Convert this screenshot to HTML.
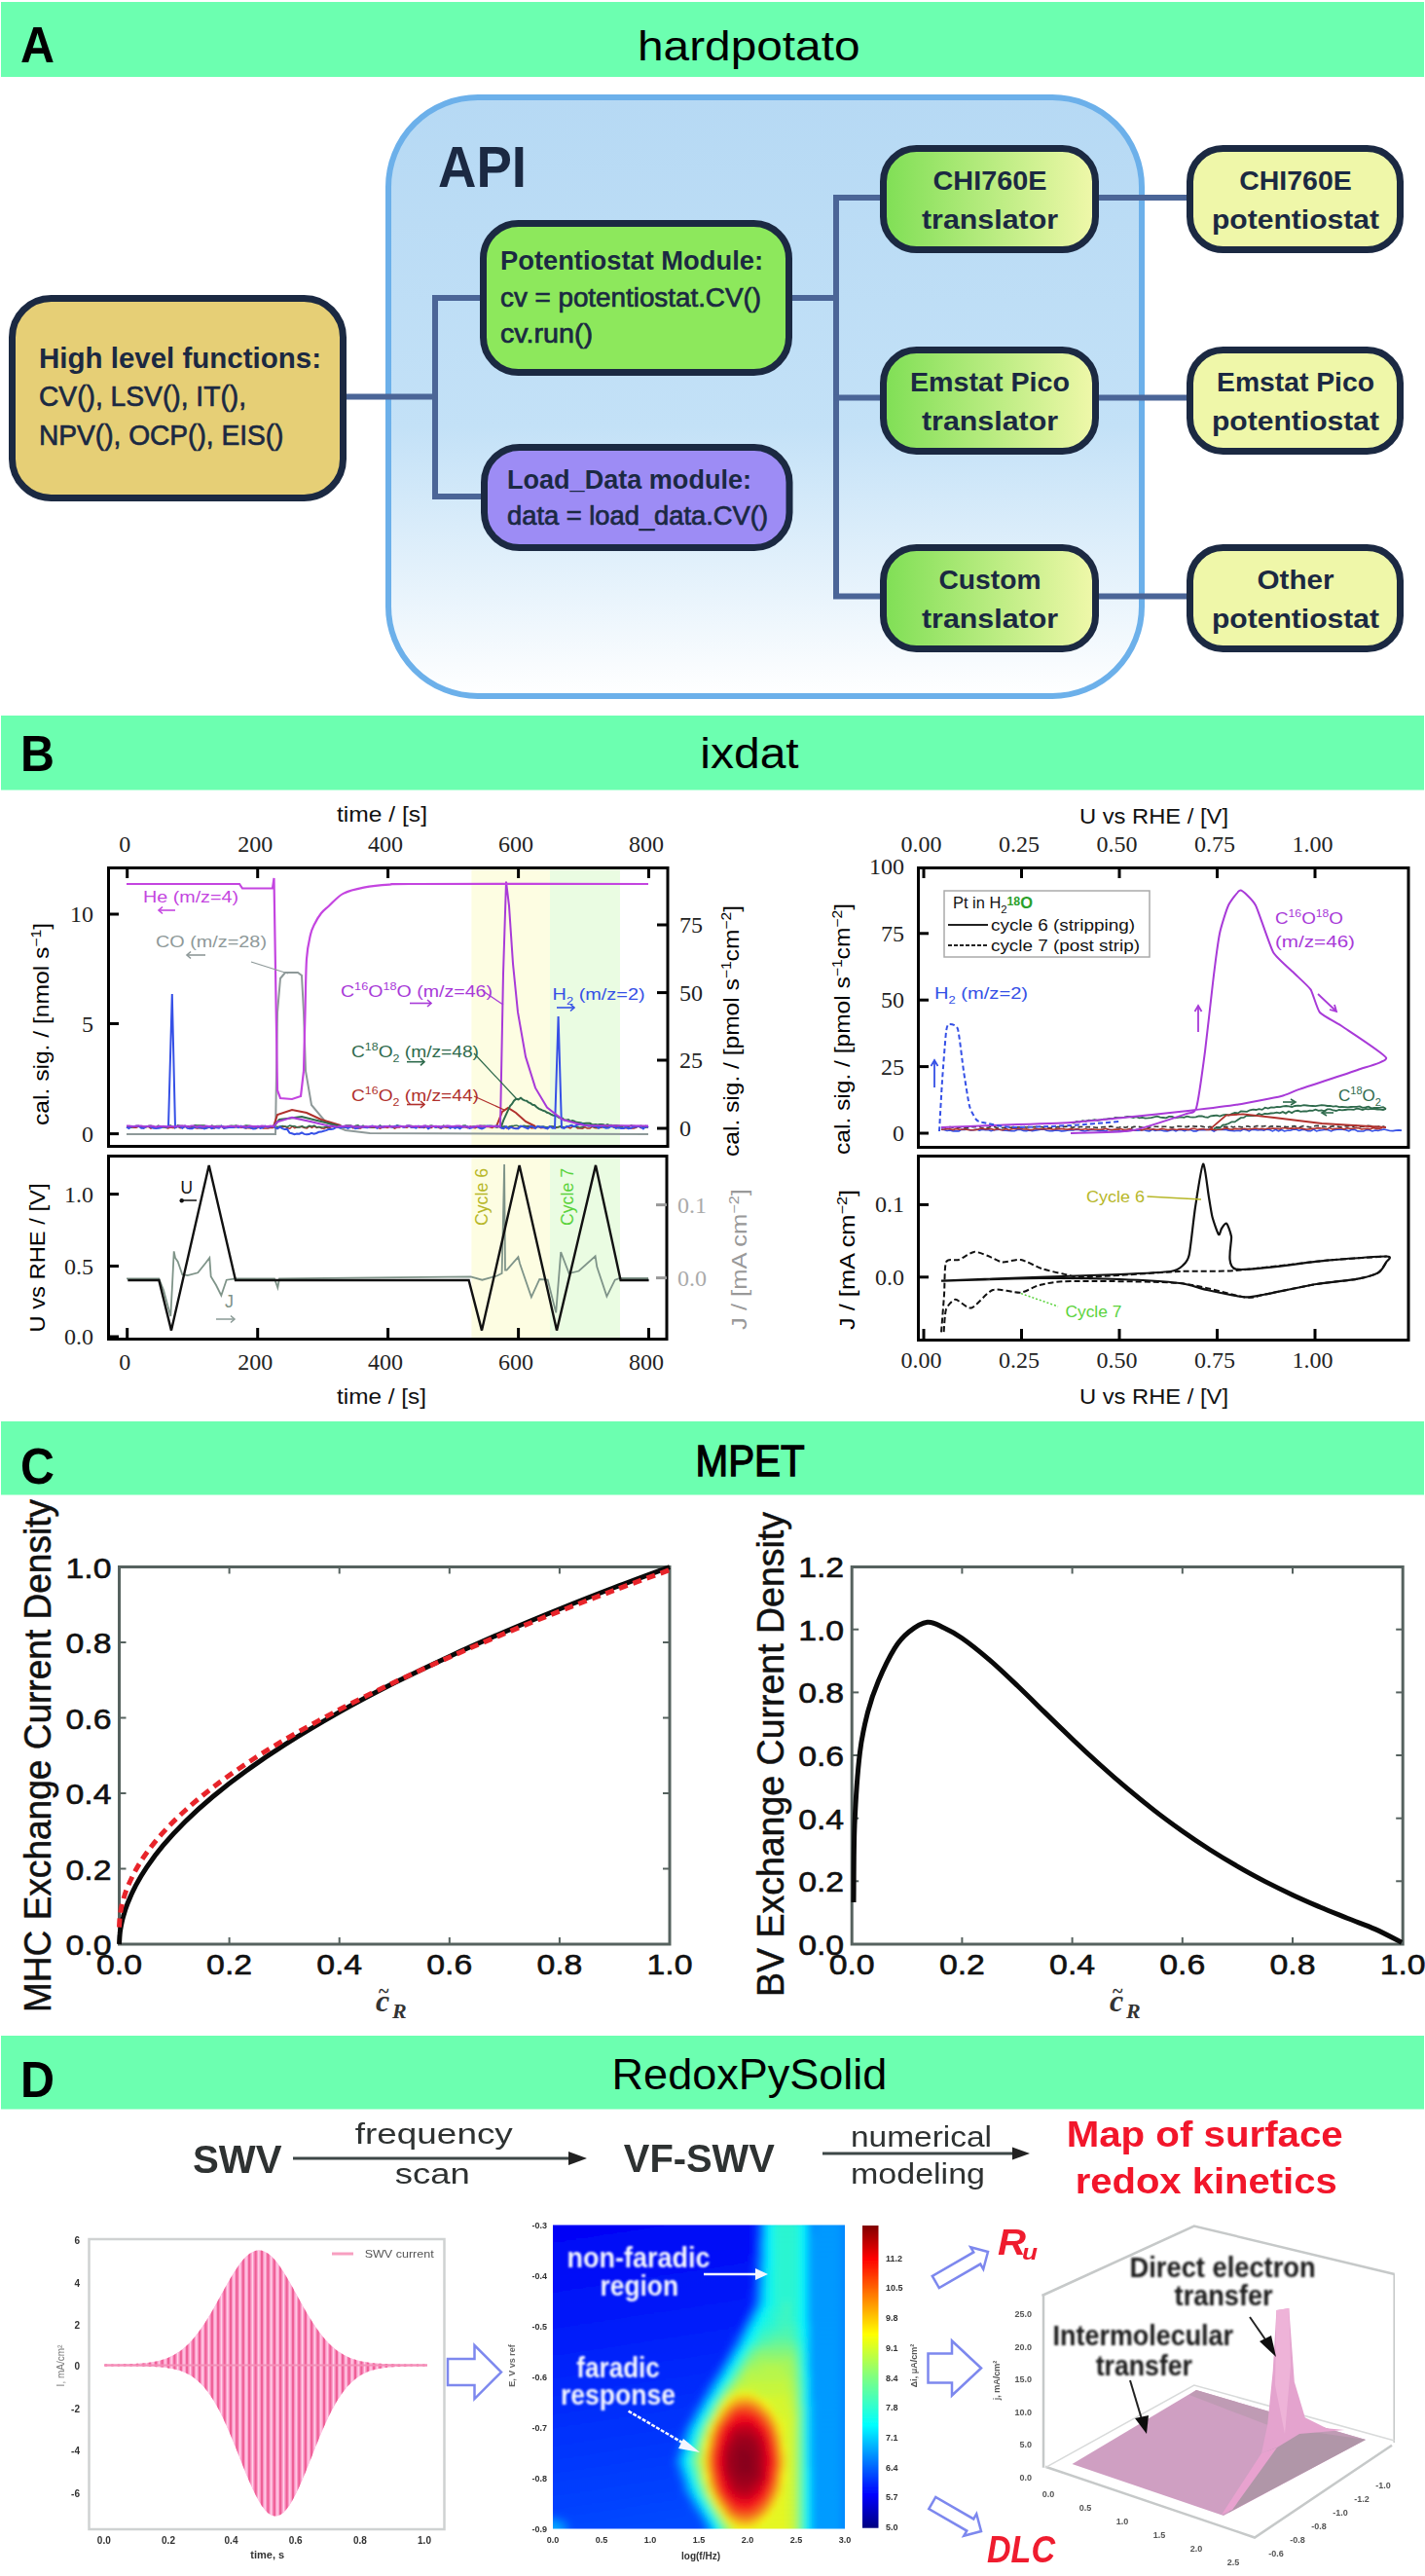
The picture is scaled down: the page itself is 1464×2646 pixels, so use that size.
<!DOCTYPE html>
<html><head><meta charset="utf-8"><title>figure</title>
<style>html,body{margin:0;padding:0;background:#fff;}svg{display:block;font-family:"Liberation Sans",sans-serif;}</style></head>
<body><svg width="1464" height="2646" viewBox="0 0 1464 2646">
<rect x="1.0" y="2.0" width="1462.0" height="77.0" fill="#6cffb0" />
<text x="21.0" y="64.0" font-size="52" font-weight="bold" textLength="35.0" lengthAdjust="spacingAndGlyphs">A</text>
<text x="655.0" y="61.6" font-size="43" textLength="228.5" lengthAdjust="spacingAndGlyphs">hardpotato</text>
<rect x="1.0" y="735.0" width="1462.0" height="76.5" fill="#6cffb0" />
<text x="21.0" y="792.0" font-size="52" font-weight="bold" textLength="35.0" lengthAdjust="spacingAndGlyphs">B</text>
<text x="719.3" y="788.5" font-size="45" textLength="101.4" lengthAdjust="spacingAndGlyphs">ixdat</text>
<rect x="1.0" y="1460.0" width="1462.0" height="75.5" fill="#6cffb0" />
<text x="21.0" y="1524.0" font-size="52" font-weight="bold" textLength="35.0" lengthAdjust="spacingAndGlyphs">C</text>
<text x="714.5" y="1515.8" font-size="45" textLength="112.2" lengthAdjust="spacingAndGlyphs" stroke="#000" stroke-width="1.3">MPET</text>
<rect x="1.0" y="2091.0" width="1462.0" height="75.5" fill="#6cffb0" />
<text x="21.0" y="2154.0" font-size="52" font-weight="bold" textLength="35.0" lengthAdjust="spacingAndGlyphs">D</text>
<text x="628.6" y="2145.8" font-size="45" textLength="282.8" lengthAdjust="spacingAndGlyphs">RedoxPySolid</text>
<defs>
<linearGradient id="apig" x1="0" y1="0" x2="0" y2="1">
<stop offset="0" stop-color="#b6d9f4"/><stop offset="0.55" stop-color="#c3e1f7"/><stop offset="1" stop-color="#ffffff"/></linearGradient>
<linearGradient id="trg" x1="0" y1="0" x2="1" y2="0">
<stop offset="0" stop-color="#7fdf55"/><stop offset="1" stop-color="#f0f8aa"/></linearGradient>
</defs>
<rect x="399.0" y="100.0" width="774.0" height="615.0" fill="url(#apig)" stroke="#6cb0ea" stroke-width="6" rx="92" />
<text x="450.0" y="192.0" font-size="59" fill="#1b2942" font-weight="bold" textLength="91.0" lengthAdjust="spacingAndGlyphs">API</text>
<line x1="356.0" y1="407.5" x2="447.0" y2="407.5" stroke="#4b6597" stroke-width="6" />
<line x1="447.0" y1="303.0" x2="447.0" y2="513.0" stroke="#4b6597" stroke-width="6" />
<line x1="444.0" y1="306.0" x2="494.0" y2="306.0" stroke="#4b6597" stroke-width="6" />
<line x1="444.0" y1="510.0" x2="494.0" y2="510.0" stroke="#4b6597" stroke-width="6" />
<line x1="814.0" y1="306.0" x2="859.0" y2="306.0" stroke="#4b6597" stroke-width="6" />
<line x1="859.0" y1="200.0" x2="859.0" y2="615.0" stroke="#4b6597" stroke-width="6" />
<line x1="856.0" y1="203.0" x2="905.0" y2="203.0" stroke="#4b6597" stroke-width="6" />
<line x1="856.0" y1="408.5" x2="905.0" y2="408.5" stroke="#4b6597" stroke-width="6" />
<line x1="856.0" y1="612.5" x2="905.0" y2="612.5" stroke="#4b6597" stroke-width="6" />
<line x1="1129.0" y1="203.0" x2="1219.0" y2="203.0" stroke="#4b6597" stroke-width="6" />
<line x1="1129.0" y1="408.5" x2="1219.0" y2="408.5" stroke="#4b6597" stroke-width="6" />
<line x1="1129.0" y1="612.5" x2="1219.0" y2="612.5" stroke="#4b6597" stroke-width="6" />
<rect x="12.5" y="306.5" width="340.0" height="205.0" fill="#e6cf76" stroke="#1b2942" stroke-width="7" rx="40" />
<text x="40.0" y="377.5" font-size="30" fill="#1b2942" font-weight="bold" textLength="290.0" lengthAdjust="spacingAndGlyphs">High level functions:</text>
<text x="40.0" y="416.5" font-size="30" fill="#1b2942" textLength="213.0" lengthAdjust="spacingAndGlyphs" stroke="#1b2942" stroke-width="0.7">CV(), LSV(), IT(),</text>
<text x="40.0" y="456.5" font-size="30" fill="#1b2942" textLength="251.5" lengthAdjust="spacingAndGlyphs" stroke="#1b2942" stroke-width="0.7">NPV(), OCP(), EIS()</text>
<rect x="496.5" y="229.5" width="314.0" height="153.0" fill="#8de85c" stroke="#1b2942" stroke-width="7" rx="36" />
<text x="514.0" y="277.0" font-size="27" fill="#1b2942" font-weight="bold" textLength="270.0" lengthAdjust="spacingAndGlyphs">Potentiostat Module:</text>
<text x="514.0" y="315.0" font-size="27" fill="#1b2942" textLength="268.0" lengthAdjust="spacingAndGlyphs" stroke="#1b2942" stroke-width="0.7">cv = potentiostat.CV()</text>
<text x="514.0" y="352.0" font-size="27" fill="#1b2942" textLength="95.0" lengthAdjust="spacingAndGlyphs" stroke="#1b2942" stroke-width="0.7">cv.run()</text>
<rect x="497.5" y="459.5" width="313.5" height="103.0" fill="#9d8cf5" stroke="#1b2942" stroke-width="7" rx="36" />
<text x="521.0" y="502.0" font-size="27" fill="#1b2942" font-weight="bold" textLength="251.0" lengthAdjust="spacingAndGlyphs">Load_Data module:</text>
<text x="521.0" y="539.0" font-size="27" fill="#1b2942" textLength="268.0" lengthAdjust="spacingAndGlyphs" stroke="#1b2942" stroke-width="0.7">data = load_data.CV()</text>
<rect x="907.5" y="152.5" width="218.0" height="104.0" fill="url(#trg)" stroke="#1b2942" stroke-width="7" rx="34" />
<rect x="1222.5" y="152.5" width="216.0" height="104.0" fill="#eff7a9" stroke="#1b2942" stroke-width="7" rx="34" />
<text x="1017.0" y="195.0" font-size="28" fill="#1b2942" font-weight="bold" text-anchor="middle" textLength="117.0" lengthAdjust="spacingAndGlyphs">CHI760E</text>
<text x="1017.0" y="235.0" font-size="28" fill="#1b2942" font-weight="bold" text-anchor="middle" textLength="140.0" lengthAdjust="spacingAndGlyphs">translator</text>
<text x="1331.0" y="195.0" font-size="28" fill="#1b2942" font-weight="bold" text-anchor="middle" textLength="115.5" lengthAdjust="spacingAndGlyphs">CHI760E</text>
<text x="1331.0" y="235.0" font-size="28" fill="#1b2942" font-weight="bold" text-anchor="middle" textLength="172.0" lengthAdjust="spacingAndGlyphs">potentiostat</text>
<rect x="907.5" y="359.5" width="218.0" height="104.0" fill="url(#trg)" stroke="#1b2942" stroke-width="7" rx="34" />
<rect x="1222.5" y="359.5" width="216.0" height="104.0" fill="#eff7a9" stroke="#1b2942" stroke-width="7" rx="34" />
<text x="1017.0" y="402.0" font-size="28" fill="#1b2942" font-weight="bold" text-anchor="middle" textLength="164.0" lengthAdjust="spacingAndGlyphs">Emstat Pico</text>
<text x="1017.0" y="442.0" font-size="28" fill="#1b2942" font-weight="bold" text-anchor="middle" textLength="140.0" lengthAdjust="spacingAndGlyphs">translator</text>
<text x="1331.0" y="402.0" font-size="28" fill="#1b2942" font-weight="bold" text-anchor="middle" textLength="162.0" lengthAdjust="spacingAndGlyphs">Emstat Pico</text>
<text x="1331.0" y="442.0" font-size="28" fill="#1b2942" font-weight="bold" text-anchor="middle" textLength="172.0" lengthAdjust="spacingAndGlyphs">potentiostat</text>
<rect x="907.5" y="562.5" width="218.0" height="104.0" fill="url(#trg)" stroke="#1b2942" stroke-width="7" rx="34" />
<rect x="1222.5" y="562.5" width="216.0" height="104.0" fill="#eff7a9" stroke="#1b2942" stroke-width="7" rx="34" />
<text x="1017.0" y="605.0" font-size="28" fill="#1b2942" font-weight="bold" text-anchor="middle" textLength="105.0" lengthAdjust="spacingAndGlyphs">Custom</text>
<text x="1017.0" y="645.0" font-size="28" fill="#1b2942" font-weight="bold" text-anchor="middle" textLength="140.0" lengthAdjust="spacingAndGlyphs">translator</text>
<text x="1331.0" y="605.0" font-size="28" fill="#1b2942" font-weight="bold" text-anchor="middle" textLength="79.0" lengthAdjust="spacingAndGlyphs">Other</text>
<text x="1331.0" y="645.0" font-size="28" fill="#1b2942" font-weight="bold" text-anchor="middle" textLength="172.0" lengthAdjust="spacingAndGlyphs">potentiostat</text>
<rect x="484.4" y="891.0" width="80.6" height="286.0" fill="#fdfde2" />
<rect x="565.0" y="891.0" width="72.0" height="286.0" fill="#eafce2" />
<rect x="484.4" y="1187.0" width="80.6" height="188.0" fill="#fdfde2" />
<rect x="565.0" y="1187.0" width="72.0" height="188.0" fill="#eafce2" />
<rect x="111.5" y="891.5" width="574.5" height="286.0" fill="none" stroke="#000" stroke-width="3" />
<rect x="111.5" y="1187.5" width="573.5" height="188.0" fill="none" stroke="#000" stroke-width="3" />
<line x1="130.7" y1="891.0" x2="130.7" y2="902.0" stroke="#000" stroke-width="3" />
<line x1="130.7" y1="1375.0" x2="130.7" y2="1364.0" stroke="#000" stroke-width="3" />
<text x="128.2" y="875.0" font-size="24" fill="#222" text-anchor="middle" font-family="'Liberation Serif',serif">0</text>
<text x="128.2" y="1407.0" font-size="24" fill="#222" text-anchor="middle" font-family="'Liberation Serif',serif">0</text>
<line x1="264.7" y1="891.0" x2="264.7" y2="902.0" stroke="#000" stroke-width="3" />
<line x1="264.7" y1="1375.0" x2="264.7" y2="1364.0" stroke="#000" stroke-width="3" />
<text x="262.2" y="875.0" font-size="24" fill="#222" text-anchor="middle" font-family="'Liberation Serif',serif">200</text>
<text x="262.2" y="1407.0" font-size="24" fill="#222" text-anchor="middle" font-family="'Liberation Serif',serif">200</text>
<line x1="398.6" y1="891.0" x2="398.6" y2="902.0" stroke="#000" stroke-width="3" />
<line x1="398.6" y1="1375.0" x2="398.6" y2="1364.0" stroke="#000" stroke-width="3" />
<text x="396.1" y="875.0" font-size="24" fill="#222" text-anchor="middle" font-family="'Liberation Serif',serif">400</text>
<text x="396.1" y="1407.0" font-size="24" fill="#222" text-anchor="middle" font-family="'Liberation Serif',serif">400</text>
<line x1="532.6" y1="891.0" x2="532.6" y2="902.0" stroke="#000" stroke-width="3" />
<line x1="532.6" y1="1375.0" x2="532.6" y2="1364.0" stroke="#000" stroke-width="3" />
<text x="530.1" y="875.0" font-size="24" fill="#222" text-anchor="middle" font-family="'Liberation Serif',serif">600</text>
<text x="530.1" y="1407.0" font-size="24" fill="#222" text-anchor="middle" font-family="'Liberation Serif',serif">600</text>
<line x1="666.5" y1="891.0" x2="666.5" y2="902.0" stroke="#000" stroke-width="3" />
<line x1="666.5" y1="1375.0" x2="666.5" y2="1364.0" stroke="#000" stroke-width="3" />
<text x="664.0" y="875.0" font-size="24" fill="#222" text-anchor="middle" font-family="'Liberation Serif',serif">800</text>
<text x="664.0" y="1407.0" font-size="24" fill="#222" text-anchor="middle" font-family="'Liberation Serif',serif">800</text>
<line x1="111.0" y1="939.0" x2="122.0" y2="939.0" stroke="#000" stroke-width="3" />
<text x="96.0" y="947.0" font-size="24" fill="#222" text-anchor="end" font-family="'Liberation Serif',serif">10</text>
<line x1="111.0" y1="1051.5" x2="122.0" y2="1051.5" stroke="#000" stroke-width="3" />
<text x="96.0" y="1059.5" font-size="24" fill="#222" text-anchor="end" font-family="'Liberation Serif',serif">5</text>
<line x1="111.0" y1="1164.6" x2="122.0" y2="1164.6" stroke="#000" stroke-width="3" />
<text x="96.0" y="1172.6" font-size="24" fill="#222" text-anchor="end" font-family="'Liberation Serif',serif">0</text>
<line x1="675.0" y1="950.0" x2="686.0" y2="950.0" stroke="#000" stroke-width="3" />
<text x="698.0" y="958.0" font-size="24" fill="#222" font-family="'Liberation Serif',serif">75</text>
<line x1="675.0" y1="1019.6" x2="686.0" y2="1019.6" stroke="#000" stroke-width="3" />
<text x="698.0" y="1027.6" font-size="24" fill="#222" font-family="'Liberation Serif',serif">50</text>
<line x1="675.0" y1="1089.0" x2="686.0" y2="1089.0" stroke="#000" stroke-width="3" />
<text x="698.0" y="1097.0" font-size="24" fill="#222" font-family="'Liberation Serif',serif">25</text>
<line x1="675.0" y1="1159.0" x2="686.0" y2="1159.0" stroke="#000" stroke-width="3" />
<text x="698.0" y="1167.0" font-size="24" fill="#222" font-family="'Liberation Serif',serif">0</text>
<line x1="111.0" y1="1226.6" x2="122.0" y2="1226.6" stroke="#000" stroke-width="3" />
<text x="96.0" y="1234.6" font-size="24" fill="#222" text-anchor="end" font-family="'Liberation Serif',serif">1.0</text>
<line x1="111.0" y1="1300.5" x2="122.0" y2="1300.5" stroke="#000" stroke-width="3" />
<text x="96.0" y="1308.5" font-size="24" fill="#222" text-anchor="end" font-family="'Liberation Serif',serif">0.5</text>
<line x1="111.0" y1="1373.0" x2="122.0" y2="1373.0" stroke="#000" stroke-width="3" />
<text x="96.0" y="1381.0" font-size="24" fill="#222" text-anchor="end" font-family="'Liberation Serif',serif">0.0</text>
<line x1="674.0" y1="1237.6" x2="685.0" y2="1237.6" stroke="#999" stroke-width="3" />
<text x="696.0" y="1245.6" font-size="24" fill="#aaa" font-family="'Liberation Serif',serif">0.1</text>
<line x1="674.0" y1="1312.6" x2="685.0" y2="1312.6" stroke="#999" stroke-width="3" />
<text x="696.0" y="1320.6" font-size="24" fill="#aaa" font-family="'Liberation Serif',serif">0.0</text>
<text x="346.0" y="843.5" font-size="22" fill="#111" textLength="93.0" lengthAdjust="spacingAndGlyphs">time / [s]</text>
<text x="346.0" y="1442.0" font-size="22" fill="#111" textLength="92.0" lengthAdjust="spacingAndGlyphs">time / [s]</text>
<text x="50.0" y="1052.0" font-size="22" text-anchor="middle" textLength="208.0" lengthAdjust="spacingAndGlyphs" transform="rotate(-90 50.0 1052.0)">cal. sig. / [nmol s<tspan dy="-8" font-size="14">−1</tspan><tspan dy="8">]</tspan></text>
<text x="759.0" y="1059.0" font-size="22" text-anchor="middle" textLength="258.0" lengthAdjust="spacingAndGlyphs" transform="rotate(-90 759.0 1059.0)">cal. sig. / [pmol s<tspan dy="-8" font-size="14">−1</tspan><tspan dy="8">cm</tspan><tspan dy="-8" font-size="14">−2</tspan><tspan dy="8">]</tspan></text>
<text x="46.0" y="1292.0" font-size="22" text-anchor="middle" textLength="153.0" lengthAdjust="spacingAndGlyphs" transform="rotate(-90 46.0 1292.0)">U vs RHE / [V]</text>
<text x="767.0" y="1293.5" font-size="22" fill="#999" text-anchor="middle" textLength="145.0" lengthAdjust="spacingAndGlyphs" transform="rotate(-90 767.0 1293.5)">J / [mA cm<tspan dy="-8" font-size="14">−2</tspan><tspan dy="8">]</tspan></text>
<path d="M130.0,1157.4 L132.5,1158.1 L135.0,1157.7 L137.5,1158.2 L140.0,1158.3 L142.5,1157.0 L145.0,1156.8 L147.5,1158.8 L150.0,1157.4 L152.5,1157.4 L155.0,1159.2 L157.6,1157.9 L160.1,1158.8 L162.6,1157.9 L165.1,1158.3 L167.6,1157.2 L170.1,1158.3 L172.6,1158.9 L175.1,1158.1 L177.6,1158.6 L180.1,1158.4 L182.6,1157.0 L185.1,1158.6 L187.6,1158.2 L190.1,1157.5 L192.6,1156.9 L195.1,1158.9 L197.6,1157.9 L200.1,1158.5 L202.6,1158.9 L205.1,1158.5 L207.6,1159.0 L210.1,1157.7 L212.7,1158.7 L215.2,1157.9 L217.7,1159.0 L220.2,1158.9 L222.7,1157.0 L225.2,1157.1 L227.7,1157.3 L230.2,1159.1 L232.7,1157.8 L235.2,1158.3 L237.7,1157.5 L240.2,1158.0 L242.7,1157.7 L245.2,1157.6 L247.7,1158.2 L250.2,1158.2 L252.7,1159.0 L255.2,1158.4 L257.7,1159.0 L260.2,1158.9 L262.7,1159.2 L265.3,1158.4 L267.8,1157.2 L270.3,1158.9 L272.8,1159.1 L275.3,1159.0 L277.8,1158.2 L280.3,1158.5 L282.8,1157.3 L285.3,1158.8 L287.8,1158.2 L290.3,1157.5 L292.8,1157.0 L295.3,1158.8 L297.8,1159.2 L300.3,1157.0 L302.8,1158.7 L305.3,1157.8 L307.8,1157.2 L310.3,1157.5 L312.8,1158.6 L315.3,1158.9 L317.9,1156.9 L320.4,1158.3 L322.9,1156.9 L325.4,1158.5 L327.9,1157.6 L330.4,1158.9 L332.9,1159.2 L335.4,1158.0 L337.9,1159.2 L340.4,1157.5 L342.9,1157.0 L345.4,1158.2 L347.9,1156.9 L350.4,1157.3 L352.9,1157.8 L355.4,1158.3 L357.9,1157.2 L360.4,1156.9 L362.9,1158.9 L365.4,1157.6 L367.9,1159.1 L370.4,1159.0 L373.0,1157.7 L375.5,1157.9 L378.0,1158.0 L380.5,1158.3 L383.0,1158.2 L385.5,1158.1 L388.0,1158.3 L390.5,1159.1 L393.0,1158.0 L395.5,1157.8 L398.0,1158.5 L400.5,1157.4 L403.0,1157.5 L405.5,1159.1 L408.0,1158.1 L410.5,1158.1 L413.0,1156.8 L415.5,1157.8 L418.0,1158.2 L420.5,1156.8 L423.0,1158.3 L425.6,1158.3 L428.1,1156.9 L430.6,1158.3 L433.1,1157.9 L435.6,1158.4 L438.1,1157.6 L440.6,1158.5 L443.1,1158.6 L445.6,1156.9 L448.1,1156.9 L450.6,1158.4 L453.1,1159.1 L455.6,1157.4 L458.1,1157.9 L460.6,1158.2 L463.1,1157.6 L465.6,1157.7 L468.1,1157.6 L470.6,1157.7 L473.1,1158.2 L475.6,1157.5 L478.1,1157.7 L480.7,1158.7 L483.2,1156.9 L485.7,1158.2 L488.2,1158.6 L490.7,1157.5 L493.2,1157.3 L495.7,1158.7 L498.2,1157.4 L500.7,1157.2 L503.2,1157.8 L505.7,1158.5 L508.2,1157.0 L510.7,1157.6 L513.2,1157.6 L515.7,1158.8 L518.2,1157.9 L520.7,1158.9 L523.2,1157.2 L525.7,1157.6 L528.2,1158.4 L530.7,1158.9 L533.3,1157.9 L535.8,1157.3 L538.3,1157.1 L540.8,1158.1 L543.3,1157.3 L545.8,1158.7 L548.3,1158.8 L550.8,1157.2 L553.3,1157.5 L555.8,1158.7 L558.3,1158.3 L560.8,1158.7 L563.3,1157.6 L565.8,1157.1 L568.3,1157.5 L570.8,1158.7 L573.3,1157.5 L575.8,1157.6 L578.3,1157.8 L580.8,1157.8 L583.3,1157.8 L585.9,1159.0 L588.4,1157.2 L590.9,1156.8 L593.4,1159.1 L595.9,1158.9 L598.4,1159.2 L600.9,1157.8 L603.4,1159.1 L605.9,1159.0 L608.4,1157.3 L610.9,1158.6 L613.4,1158.8 L615.9,1158.4 L618.4,1158.0 L620.9,1157.5 L623.4,1157.6 L625.9,1157.3 L628.4,1157.0 L630.9,1158.2 L633.4,1157.5 L635.9,1158.7 L638.4,1156.9 L641.0,1159.0 L643.5,1158.5 L646.0,1159.0 L648.5,1159.0 L651.0,1159.0 L653.5,1158.2 L656.0,1156.8 L658.5,1158.6 L661.0,1157.2 L663.5,1157.5 L666.0,1158.4" stroke="#b0302c" stroke-width="1.5" fill="none" />
<path d="M130.0,1157.1 L132.5,1156.8 L135.0,1158.1 L137.5,1157.3 L140.0,1156.6 L142.5,1156.4 L145.0,1157.9 L147.5,1156.9 L150.0,1157.7 L152.5,1156.6 L155.0,1156.3 L157.6,1157.1 L160.1,1157.8 L162.6,1156.2 L165.1,1157.7 L167.6,1158.0 L170.1,1157.7 L172.6,1157.8 L175.1,1155.8 L177.6,1157.3 L180.1,1157.9 L182.6,1155.9 L185.1,1156.5 L187.6,1156.4 L190.1,1157.1 L192.6,1156.8 L195.1,1156.9 L197.6,1157.7 L200.1,1155.8 L202.6,1155.9 L205.1,1156.1 L207.6,1156.1 L210.1,1156.0 L212.7,1158.1 L215.2,1157.9 L217.7,1156.0 L220.2,1157.0 L222.7,1156.6 L225.2,1156.6 L227.7,1156.6 L230.2,1157.4 L232.7,1157.2 L235.2,1156.7 L237.7,1156.3 L240.2,1156.6 L242.7,1156.1 L245.2,1157.1 L247.7,1157.5 L250.2,1156.7 L252.7,1156.0 L255.2,1156.2 L257.7,1156.7 L260.2,1157.3 L262.7,1157.7 L265.3,1156.7 L267.8,1157.7 L270.3,1157.3 L272.8,1156.8 L275.3,1156.7 L277.8,1157.0 L280.3,1157.5 L282.8,1156.8 L285.3,1157.5 L287.8,1156.9 L290.3,1156.4 L292.8,1157.1 L295.3,1157.5 L297.8,1156.0 L300.3,1156.8 L302.8,1156.8 L305.3,1157.9 L307.8,1158.0 L310.3,1156.7 L312.8,1158.0 L315.3,1157.7 L317.9,1156.4 L320.4,1156.9 L322.9,1156.1 L325.4,1157.8 L327.9,1157.4 L330.4,1157.9 L332.9,1157.7 L335.4,1157.4 L337.9,1157.6 L340.4,1157.2 L342.9,1156.0 L345.4,1157.2 L347.9,1155.8 L350.4,1156.1 L352.9,1157.7 L355.4,1155.9 L357.9,1156.0 L360.4,1156.0 L362.9,1157.9 L365.4,1156.2 L367.9,1155.9 L370.4,1157.8 L373.0,1156.1 L375.5,1157.8 L378.0,1157.4 L380.5,1157.8 L383.0,1158.1 L385.5,1157.2 L388.0,1157.7 L390.5,1155.9 L393.0,1157.6 L395.5,1157.0 L398.0,1157.5 L400.5,1156.1 L403.0,1157.6 L405.5,1158.0 L408.0,1155.9 L410.5,1156.6 L413.0,1157.2 L415.5,1157.8 L418.0,1156.4 L420.5,1156.2 L423.0,1156.4 L425.6,1157.3 L428.1,1157.6 L430.6,1156.7 L433.1,1156.7 L435.6,1156.8 L438.1,1156.6 L440.6,1156.8 L443.1,1156.0 L445.6,1157.0 L448.1,1158.1 L450.6,1156.8 L453.1,1157.6 L455.6,1156.2 L458.1,1157.5 L460.6,1157.6 L463.1,1157.4 L465.6,1157.0 L468.1,1157.0 L470.6,1157.3 L473.1,1158.0 L475.6,1156.2 L478.1,1156.0 L480.7,1157.6 L483.2,1158.0 L485.7,1157.0 L488.2,1156.9 L490.7,1157.5 L493.2,1156.2 L495.7,1156.4 L498.2,1156.3 L500.7,1157.2 L503.2,1156.6 L505.7,1156.4 L508.2,1157.5 L510.7,1158.1 L513.2,1156.5 L515.7,1157.5 L518.2,1156.8 L520.7,1157.8 L523.2,1157.2 L525.7,1156.4 L528.2,1156.3 L530.7,1155.9 L533.3,1157.0 L535.8,1156.7 L538.3,1156.2 L540.8,1156.7 L543.3,1156.6 L545.8,1157.7 L548.3,1156.1 L550.8,1158.2 L553.3,1157.0 L555.8,1157.2 L558.3,1156.9 L560.8,1157.8 L563.3,1157.8 L565.8,1157.1 L568.3,1157.0 L570.8,1157.5 L573.3,1157.9 L575.8,1156.8 L578.3,1157.6 L580.8,1158.1 L583.3,1156.9 L585.9,1156.4 L588.4,1156.4 L590.9,1157.5 L593.4,1157.4 L595.9,1158.1 L598.4,1157.8 L600.9,1156.4 L603.4,1156.3 L605.9,1156.4 L608.4,1156.2 L610.9,1157.5 L613.4,1157.9 L615.9,1158.0 L618.4,1156.4 L620.9,1157.9 L623.4,1156.6 L625.9,1156.8 L628.4,1157.5 L630.9,1156.0 L633.4,1156.0 L635.9,1157.8 L638.4,1156.5 L641.0,1156.7 L643.5,1157.2 L646.0,1157.4 L648.5,1155.8 L651.0,1156.6 L653.5,1156.8 L656.0,1157.0 L658.5,1156.3 L661.0,1157.2 L663.5,1158.1 L666.0,1156.7" stroke="#2e6a4c" stroke-width="1.5" fill="none" />
<path d="M130.0,1165.0 L283.0,1165.0 L285.0,1040.0 L288.0,1005.0 L293.0,999.0 L306.0,999.0 L310.0,1002.0 L312.0,1040.0 L314.0,1100.0 L320.0,1135.0 L335.0,1153.0 L355.0,1161.0 L380.0,1164.0 L666.0,1165.0" stroke="#8e9999" stroke-width="2" fill="none" />
<path d="M281.0,1157.0 L285.0,1145.0 L300.0,1140.0 L315.0,1143.0 L330.0,1150.0 L350.0,1156.0" stroke="#b0302c" stroke-width="2" fill="none" />
<path d="M510.0,1157.0 L516.0,1142.0 L522.0,1138.0 L530.0,1143.0 L540.0,1152.0 L550.0,1157.0" stroke="#b0302c" stroke-width="2" fill="none" />
<path d="M281.0,1157.0 L287.0,1150.0 L310.0,1147.0 L330.0,1152.0 L350.0,1157.0" stroke="#2e6a4c" stroke-width="2" fill="none" />
<path d="M515.0,1157.1 L517.3,1150.7 L519.7,1145.3 L522.0,1140.3 L524.0,1136.0 L526.0,1134.0 L528.0,1130.7 L530.3,1128.7 L532.7,1129.4 L535.0,1127.8 L537.0,1129.4 L539.0,1130.4 L541.0,1130.7 L543.0,1132.3 L545.0,1133.2 L547.1,1134.8 L549.3,1135.2 L551.4,1137.3 L553.6,1138.9 L555.7,1139.7 L557.9,1140.8 L560.0,1141.4 L562.0,1142.8 L564.0,1143.4 L566.0,1144.7 L568.0,1145.5 L570.0,1146.1 L572.0,1146.3 L574.0,1147.8 L576.0,1148.6 L578.0,1148.7 L580.0,1150.6 L582.0,1150.6 L584.0,1150.2 L586.0,1151.9 L588.0,1151.0 L590.0,1151.7 L592.0,1152.8 L594.0,1153.0 L596.0,1153.3 L598.0,1153.8 L600.0,1153.9 L602.0,1153.8 L604.0,1153.8 L606.0,1153.8 L608.0,1154.9 L610.0,1155.2 L612.0,1155.0 L614.0,1155.4 L616.0,1155.0 L618.0,1155.0 L620.0,1155.3 L622.0,1156.2 L624.0,1155.1 L626.0,1156.0 L628.0,1155.7 L630.0,1156.7 L632.0,1156.2 L634.0,1156.3 L636.0,1156.5 L638.0,1156.9 L640.0,1157.4" stroke="#2e6a4c" stroke-width="2" fill="none" />
<path d="M130.0,1157.6 L132.5,1159.0 L135.1,1156.8 L137.6,1157.3 L140.1,1156.8 L142.6,1156.8 L145.2,1158.8 L147.7,1158.7 L150.2,1157.1 L152.8,1157.1 L155.3,1157.7 L157.8,1158.7 L160.4,1158.9 L162.9,1158.7 L165.4,1158.3 L167.9,1156.9 L170.5,1157.7 L173.0,1157.1 L176.8,1021.0 L180.0,1158.1 L180.0,1158.2 L182.5,1157.1 L185.0,1157.3 L187.5,1158.8 L190.0,1156.6 L192.5,1158.9 L195.0,1159.2 L197.5,1159.3 L200.0,1157.6 L202.5,1158.2 L205.0,1158.2 L207.5,1158.4 L210.0,1159.4 L212.5,1158.6 L215.0,1157.4 L217.5,1159.1 L220.0,1158.0 L222.5,1158.3 L225.0,1158.7 L227.5,1156.5 L230.0,1158.8 L232.5,1158.5 L235.0,1158.0 L237.5,1158.1 L240.0,1157.9 L242.5,1157.1 L245.0,1158.1 L247.5,1156.6 L250.0,1158.0 L252.5,1158.4 L255.0,1157.8 L257.5,1158.2 L260.0,1159.4 L262.5,1159.2 L265.0,1156.9 L267.5,1158.9 L270.0,1158.4 L272.5,1156.7 L275.0,1157.6 L277.5,1157.2 L280.0,1156.7 L282.5,1158.1 L285.0,1159.3 L287.5,1157.5 L290.0,1159.1 L292.5,1160.1 L295.0,1159.9 L297.5,1163.6 L300.0,1164.3 L302.5,1165.3 L305.0,1164.6 L307.5,1164.7 L310.0,1163.5 L312.5,1164.9 L315.0,1165.3 L317.5,1165.1 L320.0,1163.8 L322.5,1164.8 L325.0,1164.0 L327.5,1162.8 L330.0,1162.6 L332.5,1161.7 L335.0,1161.1 L337.5,1160.0 L340.0,1160.0 L342.5,1159.6 L345.0,1158.1 L347.5,1157.8 L350.0,1158.4 L352.5,1157.4 L355.0,1157.9 L357.5,1158.8 L360.0,1157.7 L362.5,1157.0 L365.0,1159.2 L367.5,1158.7 L370.0,1157.6 L372.5,1157.6 L375.0,1158.1 L377.5,1158.3 L380.0,1157.2 L382.5,1156.5 L385.0,1157.1 L387.5,1158.8 L390.0,1156.9 L392.5,1157.9 L395.0,1157.1 L397.5,1157.1 L400.0,1157.0 L402.5,1157.7 L405.0,1157.0 L407.5,1156.6 L410.0,1156.8 L412.5,1157.0 L415.0,1158.0 L417.5,1156.7 L420.0,1156.6 L422.5,1157.8 L425.0,1157.7 L427.5,1158.6 L430.0,1156.7 L432.5,1157.7 L435.0,1157.7 L437.5,1156.6 L440.0,1159.4 L442.5,1157.2 L445.0,1156.8 L447.5,1157.9 L450.0,1157.0 L452.5,1158.4 L455.0,1157.5 L457.5,1156.9 L460.0,1156.7 L462.5,1158.7 L465.0,1157.3 L467.5,1158.9 L470.0,1157.9 L472.5,1159.3 L475.0,1157.4 L477.5,1157.2 L480.0,1157.3 L482.5,1158.9 L485.0,1158.4 L487.5,1157.5 L490.0,1156.8 L492.5,1158.5 L495.0,1159.4 L497.5,1158.3 L500.0,1156.5 L502.5,1156.6 L505.0,1156.8 L507.5,1157.0 L510.0,1156.6 L512.5,1156.7 L515.0,1158.5 L517.5,1159.2 L520.0,1157.1 L522.5,1159.4 L525.0,1157.9 L527.5,1158.9 L530.0,1159.3 L532.5,1159.3 L535.0,1156.6 L537.5,1157.4 L540.0,1158.3 L542.5,1159.3 L545.0,1156.8 L547.5,1157.4 L550.0,1159.0 L552.5,1156.8 L555.0,1157.7 L557.5,1157.5 L560.0,1158.5 L562.5,1159.3 L565.0,1157.0 L567.5,1158.7 L570.0,1158.7 L573.6,1044.0 L577.0,1159.0 L577.0,1158.2 L579.6,1158.9 L582.1,1156.9 L584.7,1156.7 L587.2,1155.9 L589.8,1157.2 L592.3,1155.9 L594.9,1155.0 L597.4,1154.3 L600.0,1155.7 L602.5,1155.8 L605.0,1156.6 L607.5,1156.2 L610.0,1157.0 L612.5,1156.5 L615.0,1158.6 L617.5,1156.6 L620.1,1157.9 L622.6,1158.8 L625.2,1158.5 L627.8,1156.8 L630.3,1157.2 L632.9,1159.0 L635.4,1158.4 L638.0,1159.1 L640.5,1159.1 L643.0,1157.8 L645.6,1159.2 L648.1,1158.7 L650.7,1157.5 L653.2,1157.6 L655.8,1156.7 L658.4,1157.7 L660.9,1159.4 L663.5,1156.8 L666.0,1158.2" stroke="#3550e6" stroke-width="2" fill="none" />
<path d="M130.0,1156.5 L133.0,1156.5 L136.0,1157.2 L139.1,1156.7 L142.1,1156.5 L145.1,1156.6 L148.1,1157.2 L151.1,1157.1 L154.2,1156.4 L157.2,1156.7 L160.2,1157.6 L163.2,1156.7 L166.2,1157.1 L169.3,1156.9 L172.3,1157.3 L175.3,1157.1 L178.3,1157.3 L181.3,1157.0 L184.4,1156.6 L187.4,1156.6 L190.4,1156.5 L193.4,1157.4 L196.4,1156.5 L199.5,1156.4 L202.5,1157.6 L205.5,1156.6 L208.5,1157.5 L211.5,1156.5 L214.6,1157.0 L217.6,1156.7 L220.6,1157.4 L223.6,1157.1 L226.6,1157.2 L229.7,1157.3 L232.7,1157.4 L235.7,1156.8 L238.7,1157.1 L241.7,1156.9 L244.8,1156.5 L247.8,1157.4 L250.8,1157.1 L253.8,1157.4 L256.8,1156.6 L259.9,1157.0 L262.9,1157.0 L265.9,1157.3 L268.9,1156.5 L271.9,1156.8 L275.0,1157.0 L278.0,1156.5 L281.0,1157.1 L285.0,1152.3 L300.0,1147.9 L320.0,1152.2 L340.0,1157.1 L340.0,1156.7 L343.0,1156.8 L346.0,1157.6 L349.0,1156.8 L352.0,1156.9 L355.0,1156.5 L358.0,1156.7 L361.0,1156.6 L364.0,1157.5 L367.0,1157.3 L370.0,1157.4 L373.0,1157.6 L376.0,1157.1 L379.0,1157.5 L382.0,1157.0 L385.0,1156.9 L388.0,1157.5 L391.0,1157.5 L394.0,1157.5 L397.0,1157.0 L400.0,1157.3 L403.0,1156.9 L406.0,1157.6 L409.0,1157.5 L412.0,1156.8 L415.0,1157.5 L418.0,1156.6 L421.0,1156.5 L424.0,1157.3 L427.0,1156.8 L430.0,1157.0 L433.0,1157.2 L436.0,1156.4 L439.0,1157.3 L442.0,1156.7 L445.0,1156.9 L448.0,1156.8 L451.0,1157.3 L454.0,1157.3 L457.0,1156.7 L460.0,1156.5 L463.0,1156.8 L466.0,1156.9 L469.0,1156.5 L472.0,1156.6 L475.0,1157.3 L478.0,1157.2 L481.0,1157.6 L484.0,1157.6 L487.0,1157.5 L490.0,1156.8 L493.0,1156.6 L496.0,1156.8 L499.0,1157.0 L502.0,1157.0 L505.0,1157.1 L508.0,1156.8 L511.0,1157.4 L514.0,1156.7 L517.0,1000.0 L520.0,905.5 L523.0,930.4 L527.0,989.8 L532.0,1039.7 L540.0,1085.4 L550.0,1117.4 L562.0,1137.6 L578.0,1150.0 L600.0,1156.0 L666.0,1156.6" stroke="#a83ad8" stroke-width="2" fill="none" />
<path d="M312.0,1100.0 C312.2,1090.0 313.0,1059.2 313.5,1040.0 C314.0,1020.8 314.1,998.3 315.0,985.0 C315.9,971.7 317.7,965.9 319.0,960.0 C320.3,954.1 321.2,953.2 323.0,949.5 C324.8,945.8 327.5,941.2 330.0,938.0 C332.5,934.8 334.2,933.9 338.0,930.5 C341.8,927.1 346.7,921.0 352.6,917.9 C358.6,914.8 365.8,913.1 373.7,911.6 C381.6,910.1 390.6,909.2 400.0,908.6 C409.4,908.0 385.7,908.1 430.0,908.0 C474.3,907.9 626.7,908.0 666.0,908.0" stroke="#c445e0" stroke-width="2.2" fill="none" />
<path d="M130.0,908.0 L246.0,908.0 L249.0,912.5 L280.0,912.5 L281.5,902.0 L285.0,1120.0 L288.0,1128.0 L300.0,1129.0 L309.0,1126.0 L312.0,1100.0" stroke="#c445e0" stroke-width="2.2" fill="none" />
<text x="147.0" y="926.5" font-size="17" fill="#c445e0" textLength="98.0" lengthAdjust="spacingAndGlyphs">He (m/z=4)</text>
<line x1="163.0" y1="935.0" x2="180.0" y2="935.0" stroke="#c445e0" stroke-width="1.6" />
<path d="M167.0,931.5 L163.0,935.0 L167.0,938.5" stroke="#c445e0" stroke-width="1.6" fill="none" />
<text x="160.0" y="973.0" font-size="17" fill="#8e9999" textLength="114.0" lengthAdjust="spacingAndGlyphs">CO (m/z=28)</text>
<line x1="192.0" y1="981.0" x2="211.0" y2="981.0" stroke="#8e9999" stroke-width="1.6" />
<path d="M196.0,977.5 L192.0,981.0 L196.0,984.5" stroke="#8e9999" stroke-width="1.6" fill="none" />
<line x1="258.0" y1="988.0" x2="296.0" y2="1000.0" stroke="#8e9999" stroke-width="1.2" />
<text x="350.0" y="1024.0" font-size="17" fill="#a83ad8" textLength="156.0" lengthAdjust="spacingAndGlyphs">C<tspan dy="-7" font-size="11">16</tspan><tspan dy="7">O</tspan><tspan dy="-7" font-size="11">18</tspan><tspan dy="7">O (m/z=46)</tspan></text>
<line x1="421.0" y1="1030.5" x2="443.0" y2="1030.5" stroke="#a83ad8" stroke-width="1.6" />
<path d="M439.0,1027.0 L443.0,1030.5 L439.0,1034.0" stroke="#a83ad8" stroke-width="1.6" fill="none" />
<line x1="496.0" y1="1018.0" x2="517.0" y2="1032.0" stroke="#a83ad8" stroke-width="1.2" />
<text x="567.6" y="1027.0" font-size="17" fill="#3550e6" textLength="95.0" lengthAdjust="spacingAndGlyphs">H<tspan dy="5" font-size="11">2</tspan><tspan dy="-5"> (m/z=2)</tspan></text>
<line x1="572.0" y1="1035.0" x2="590.0" y2="1035.0" stroke="#3550e6" stroke-width="1.6" />
<path d="M586.0,1031.5 L590.0,1035.0 L586.0,1038.5" stroke="#3550e6" stroke-width="1.6" fill="none" />
<text x="361.0" y="1086.0" font-size="17" fill="#2e6a4c" textLength="131.0" lengthAdjust="spacingAndGlyphs">C<tspan dy="-7" font-size="11">18</tspan><tspan dy="7">O</tspan><tspan dy="5" font-size="11">2</tspan><tspan dy="-5"> (m/z=48)</tspan></text>
<line x1="418.0" y1="1090.7" x2="436.0" y2="1090.7" stroke="#2e6a4c" stroke-width="1.6" />
<path d="M432.0,1087.0 L436.0,1090.7 L432.0,1094.4" stroke="#2e6a4c" stroke-width="1.6" fill="none" />
<line x1="487.0" y1="1082.0" x2="530.0" y2="1128.0" stroke="#2e6a4c" stroke-width="1.2" />
<text x="361.0" y="1130.5" font-size="17" fill="#b0302c" textLength="131.0" lengthAdjust="spacingAndGlyphs">C<tspan dy="-7" font-size="11">16</tspan><tspan dy="7">O</tspan><tspan dy="5" font-size="11">2</tspan><tspan dy="-5"> (m/z=44)</tspan></text>
<line x1="418.0" y1="1134.5" x2="436.0" y2="1134.5" stroke="#b0302c" stroke-width="1.6" />
<path d="M432.0,1131.0 L436.0,1134.5 L432.0,1138.0" stroke="#b0302c" stroke-width="1.6" fill="none" />
<line x1="487.0" y1="1126.0" x2="518.0" y2="1140.0" stroke="#b0302c" stroke-width="1.2" />
<path d="M130.0,1313.3 L163.3,1313.3 L168.0,1325.0 L172.0,1340.0 L175.3,1352.0 L177.0,1320.0 L178.7,1285.3 L180.0,1292.0 L182.7,1296.0 L187.3,1309.3 L192.7,1310.0 L203.3,1307.3 L211.3,1297.3 L215.3,1292.0 L216.7,1311.3 L222.0,1320.0 L227.3,1330.7 L232.7,1314.7 L242.0,1313.3 L282.0,1313.3 L285.3,1322.7 L287.0,1313.3 L483.6,1311.4 L495.4,1314.7 L510.5,1310.5 L515.6,1308.0 L517.0,1250.0 L518.1,1196.0 L519.0,1304.6 L520.6,1304.6 L532.4,1291.2 L534.1,1298.0 L545.9,1332.4 L554.3,1314.0 L562.7,1314.7 L571.2,1348.4 L576.2,1286.1 L584.6,1308.0 L594.7,1305.5 L611.6,1290.3 L613.3,1301.3 L623.4,1331.6 L631.8,1314.7 L636.8,1313.0 L666.0,1313.0" stroke="#7f9489" stroke-width="1.8" fill="none" />
<path d="M131.3,1315.0 L163.3,1315.0 L176.0,1366.6 L214.7,1196.9 L242.0,1315.0 L481.6,1315.0 L495.0,1366.6 L533.6,1196.9 L572.0,1366.6 L612.0,1196.9 L637.6,1315.0 L666.6,1315.0" stroke="#111" stroke-width="2.4" fill="none" />
<text x="185.5" y="1226.0" font-size="18" fill="#111" textLength="12.5" lengthAdjust="spacingAndGlyphs">U</text>
<line x1="187.0" y1="1233.0" x2="202.0" y2="1233.0" stroke="#111" stroke-width="1.5" />
<circle cx="186.7" cy="1233.3" r="2.2" fill="#111"/>
<text x="231.0" y="1343.3" font-size="18" fill="#7f9489">J</text>
<line x1="222.0" y1="1355.0" x2="241.0" y2="1355.0" stroke="#8a9a96" stroke-width="1.5" />
<path d="M237.0,1351.5 L241.0,1355.0 L237.0,1358.5" stroke="#8a9a96" stroke-width="1.5" fill="none" />
<text x="501.0" y="1229.5" font-size="19" fill="#b7b728" text-anchor="middle" textLength="59.0" lengthAdjust="spacingAndGlyphs" transform="rotate(-90 501.0 1229.5)">Cycle 6</text>
<text x="589.0" y="1229.5" font-size="19" fill="#5ad33c" text-anchor="middle" textLength="59.0" lengthAdjust="spacingAndGlyphs" transform="rotate(-90 589.0 1229.5)">Cycle 7</text>
<rect x="943.5" y="891.5" width="503.5" height="287.0" fill="none" stroke="#000" stroke-width="3" />
<rect x="943.5" y="1187.5" width="503.5" height="189.0" fill="none" stroke="#000" stroke-width="3" />
<line x1="949.0" y1="891.0" x2="949.0" y2="902.0" stroke="#000" stroke-width="3" />
<line x1="949.0" y1="1376.0" x2="949.0" y2="1365.0" stroke="#000" stroke-width="3" />
<text x="946.5" y="875.0" font-size="24" fill="#222" text-anchor="middle" font-family="'Liberation Serif',serif">0.00</text>
<text x="946.5" y="1405.0" font-size="24" fill="#222" text-anchor="middle" font-family="'Liberation Serif',serif">0.00</text>
<line x1="1049.5" y1="891.0" x2="1049.5" y2="902.0" stroke="#000" stroke-width="3" />
<line x1="1049.5" y1="1376.0" x2="1049.5" y2="1365.0" stroke="#000" stroke-width="3" />
<text x="1047.0" y="875.0" font-size="24" fill="#222" text-anchor="middle" font-family="'Liberation Serif',serif">0.25</text>
<text x="1047.0" y="1405.0" font-size="24" fill="#222" text-anchor="middle" font-family="'Liberation Serif',serif">0.25</text>
<line x1="1150.0" y1="891.0" x2="1150.0" y2="902.0" stroke="#000" stroke-width="3" />
<line x1="1150.0" y1="1376.0" x2="1150.0" y2="1365.0" stroke="#000" stroke-width="3" />
<text x="1147.5" y="875.0" font-size="24" fill="#222" text-anchor="middle" font-family="'Liberation Serif',serif">0.50</text>
<text x="1147.5" y="1405.0" font-size="24" fill="#222" text-anchor="middle" font-family="'Liberation Serif',serif">0.50</text>
<line x1="1250.5" y1="891.0" x2="1250.5" y2="902.0" stroke="#000" stroke-width="3" />
<line x1="1250.5" y1="1376.0" x2="1250.5" y2="1365.0" stroke="#000" stroke-width="3" />
<text x="1248.0" y="875.0" font-size="24" fill="#222" text-anchor="middle" font-family="'Liberation Serif',serif">0.75</text>
<text x="1248.0" y="1405.0" font-size="24" fill="#222" text-anchor="middle" font-family="'Liberation Serif',serif">0.75</text>
<line x1="1351.0" y1="891.0" x2="1351.0" y2="902.0" stroke="#000" stroke-width="3" />
<line x1="1351.0" y1="1376.0" x2="1351.0" y2="1365.0" stroke="#000" stroke-width="3" />
<text x="1348.5" y="875.0" font-size="24" fill="#222" text-anchor="middle" font-family="'Liberation Serif',serif">1.00</text>
<text x="1348.5" y="1405.0" font-size="24" fill="#222" text-anchor="middle" font-family="'Liberation Serif',serif">1.00</text>
<line x1="943.0" y1="1164.0" x2="954.0" y2="1164.0" stroke="#000" stroke-width="3" />
<text x="929.0" y="1172.0" font-size="24" fill="#222" text-anchor="end" font-family="'Liberation Serif',serif">0</text>
<line x1="943.0" y1="1095.6" x2="954.0" y2="1095.6" stroke="#000" stroke-width="3" />
<text x="929.0" y="1103.6" font-size="24" fill="#222" text-anchor="end" font-family="'Liberation Serif',serif">25</text>
<line x1="943.0" y1="1027.2" x2="954.0" y2="1027.2" stroke="#000" stroke-width="3" />
<text x="929.0" y="1035.2" font-size="24" fill="#222" text-anchor="end" font-family="'Liberation Serif',serif">50</text>
<line x1="943.0" y1="958.8" x2="954.0" y2="958.8" stroke="#000" stroke-width="3" />
<text x="929.0" y="966.8" font-size="24" fill="#222" text-anchor="end" font-family="'Liberation Serif',serif">75</text>
<text x="929.0" y="898.4" font-size="24" fill="#222" text-anchor="end" font-family="'Liberation Serif',serif">100</text>
<line x1="943.0" y1="1237.4" x2="954.0" y2="1237.4" stroke="#000" stroke-width="3" />
<text x="929.0" y="1245.4" font-size="24" fill="#222" text-anchor="end" font-family="'Liberation Serif',serif">0.1</text>
<line x1="943.0" y1="1311.8" x2="954.0" y2="1311.8" stroke="#000" stroke-width="3" />
<text x="929.0" y="1319.8" font-size="24" fill="#222" text-anchor="end" font-family="'Liberation Serif',serif">0.0</text>
<text x="1109.0" y="846.0" font-size="22" fill="#111" textLength="153.0" lengthAdjust="spacingAndGlyphs">U vs RHE / [V]</text>
<text x="1109.0" y="1442.0" font-size="22" fill="#111" textLength="153.0" lengthAdjust="spacingAndGlyphs">U vs RHE / [V]</text>
<text x="873.0" y="1057.0" font-size="22" text-anchor="middle" textLength="258.0" lengthAdjust="spacingAndGlyphs" transform="rotate(-90 873.0 1057.0)">cal. sig. / [pmol s<tspan dy="-8" font-size="14">−1</tspan><tspan dy="8">cm</tspan><tspan dy="-8" font-size="14">−2</tspan><tspan dy="8">]</tspan></text>
<text x="878.0" y="1294.0" font-size="22" text-anchor="middle" textLength="144.0" lengthAdjust="spacingAndGlyphs" transform="rotate(-90 878.0 1294.0)">J / [mA cm<tspan dy="-8" font-size="14">−2</tspan><tspan dy="8">]</tspan></text>
<rect x="970.0" y="915.0" width="211.0" height="68.0" fill="#fff" stroke="#aaa" stroke-width="1.5" />
<text x="979.0" y="933.0" font-size="16" fill="#111" textLength="82.0" lengthAdjust="spacingAndGlyphs">Pt in H<tspan dy="5" font-size="11">2</tspan><tspan dy="-8" font-size="12" fill="#2aa02a" font-weight="bold">18</tspan><tspan dy="3" fill="#2aa02a" font-weight="bold">O</tspan></text>
<line x1="974.0" y1="950.0" x2="1015.0" y2="950.0" stroke="#222" stroke-width="2" />
<text x="1018.0" y="955.5" font-size="16" fill="#111" textLength="148.0" lengthAdjust="spacingAndGlyphs">cycle 6 (stripping)</text>
<line x1="974.0" y1="971.0" x2="1015.0" y2="971.0" stroke="#222" stroke-width="2" stroke-dasharray="4,2"/>
<text x="1018.0" y="976.5" font-size="16" fill="#111" textLength="153.0" lengthAdjust="spacingAndGlyphs">cycle 7 (post strip)</text>
<path d="M967.0,1160.1 L970.0,1160.4 L973.0,1161.5 L976.0,1160.9 L979.1,1162.0 L982.1,1161.6 L985.1,1162.0 L988.1,1160.1 L991.1,1160.4 L994.1,1160.0 L997.1,1160.9 L1000.1,1160.7 L1003.2,1160.1 L1006.2,1161.1 L1009.2,1160.2 L1012.2,1160.6 L1015.2,1160.5 L1018.2,1161.6 L1021.2,1160.8 L1024.2,1160.5 L1027.3,1160.1 L1030.3,1160.9 L1033.3,1161.3 L1036.3,1161.4 L1039.3,1161.8 L1042.3,1161.6 L1045.3,1160.5 L1048.3,1160.3 L1051.4,1161.5 L1054.4,1161.6 L1057.4,1161.0 L1060.4,1161.7 L1063.4,1161.1 L1066.4,1160.6 L1069.4,1160.3 L1072.4,1160.0 L1075.5,1161.3 L1078.5,1161.8 L1081.5,1161.8 L1084.5,1160.9 L1087.5,1161.3 L1090.5,1161.9 L1093.5,1161.6 L1096.5,1161.2 L1099.6,1160.8 L1102.6,1161.0 L1105.6,1160.3 L1108.6,1160.4 L1111.6,1161.4 L1114.6,1162.0 L1117.6,1161.1 L1120.6,1160.8 L1123.7,1160.7 L1126.7,1160.9 L1129.7,1161.6 L1132.7,1160.9 L1135.7,1161.9 L1138.7,1160.3 L1141.7,1160.6 L1144.8,1161.0 L1147.8,1160.8 L1150.8,1161.7 L1153.8,1161.7 L1156.8,1161.9 L1159.8,1161.2 L1162.8,1160.1 L1165.8,1161.1 L1168.9,1161.1 L1171.9,1161.0 L1174.9,1160.6 L1177.9,1161.4 L1180.9,1161.8 L1183.9,1160.2 L1186.9,1161.3 L1189.9,1160.7 L1193.0,1161.0 L1196.0,1161.8 L1199.0,1161.9 L1202.0,1161.3 L1205.0,1160.4 L1208.0,1161.8 L1211.0,1160.4 L1214.0,1160.8 L1217.1,1161.7 L1220.1,1160.6 L1223.1,1160.5 L1226.1,1161.9 L1229.1,1161.9 L1232.1,1160.6 L1235.1,1160.8 L1238.1,1160.6 L1241.2,1160.3 L1244.2,1160.5 L1247.2,1162.0 L1250.2,1160.2 L1253.2,1160.5 L1256.2,1160.4 L1259.2,1160.2 L1262.2,1161.1 L1265.3,1161.5 L1268.3,1161.7 L1271.3,1161.3 L1274.3,1161.6 L1277.3,1160.0 L1280.3,1160.6 L1283.3,1161.9 L1286.4,1160.1 L1289.4,1160.5 L1292.4,1161.0 L1295.4,1160.5 L1298.4,1161.1 L1301.4,1160.1 L1304.4,1160.5 L1307.4,1161.9 L1310.5,1160.3 L1313.5,1161.8 L1316.5,1160.4 L1319.5,1162.0 L1322.5,1161.3 L1325.5,1161.3 L1328.5,1160.3 L1331.5,1160.1 L1334.6,1161.5 L1337.6,1160.4 L1340.6,1160.4 L1343.6,1161.6 L1346.6,1161.7 L1349.6,1160.1 L1352.6,1161.9 L1355.6,1161.1 L1358.7,1160.8 L1361.7,1160.2 L1364.7,1160.8 L1367.7,1162.0 L1370.7,1160.6 L1373.7,1160.3 L1376.7,1160.3 L1379.7,1160.3 L1382.8,1160.7 L1385.8,1161.8 L1388.8,1160.2 L1391.8,1160.4 L1394.8,1161.9 L1397.8,1162.0 L1400.8,1162.0 L1403.8,1160.5 L1406.9,1160.7 L1409.9,1161.9 L1412.9,1161.0 L1415.9,1161.4 L1418.9,1160.6 L1421.9,1160.0 L1424.9,1160.7 L1427.9,1161.5 L1431.0,1161.6 L1434.0,1161.1 L1437.0,1160.9 L1440.0,1161.1" stroke="#3550e6" stroke-width="1.6" fill="none" />
<path d="M967.0,1157.9 L970.0,1158.0 L973.0,1158.5 L976.0,1157.5 L979.0,1158.1 L982.0,1158.7 L985.0,1158.5 L988.0,1157.4 L991.0,1158.7 L994.0,1158.5 L997.0,1157.4 L1000.0,1157.6 L1003.0,1157.4 L1006.0,1157.2 L1009.0,1158.7 L1012.0,1157.8 L1015.0,1158.5 L1018.0,1157.3 L1021.0,1157.1 L1024.0,1158.5 L1027.0,1158.3 L1030.0,1158.6 L1033.0,1158.2 L1036.0,1157.9 L1039.0,1158.3 L1042.0,1157.2 L1045.0,1157.9 L1048.0,1157.7 L1051.0,1157.2 L1054.0,1158.0 L1057.0,1157.5 L1060.0,1157.8 L1063.0,1157.6 L1066.0,1157.5 L1069.0,1157.5 L1072.0,1157.9 L1075.0,1158.5 L1078.0,1158.5 L1081.0,1158.3 L1084.0,1158.3 L1087.0,1157.4 L1090.0,1158.5 L1093.0,1157.4 L1096.0,1157.1 L1099.0,1157.7 L1102.0,1158.1 L1105.0,1157.4 L1108.0,1157.9 L1111.0,1157.3 L1114.0,1158.4 L1117.0,1157.6 L1120.0,1157.6 L1123.0,1157.7 L1126.0,1158.3 L1129.0,1158.4 L1132.0,1157.7 L1135.0,1157.5 L1138.0,1157.8 L1141.0,1156.9 L1144.0,1157.5 L1147.0,1158.2 L1150.0,1158.0 L1153.0,1156.9 L1156.0,1158.2 L1159.0,1157.4 L1162.0,1158.3 L1165.0,1157.4 L1168.0,1157.1 L1171.0,1157.6 L1174.0,1158.2 L1177.0,1157.4 L1180.0,1158.1 L1183.0,1157.9 L1186.0,1157.3 L1189.0,1157.2 L1192.0,1157.5 L1195.0,1157.3 L1198.0,1157.3 L1201.0,1157.7 L1204.0,1158.1 L1207.0,1157.6 L1210.0,1156.9 L1213.0,1157.0 L1216.0,1157.2 L1219.0,1157.6 L1222.0,1156.9 L1225.0,1156.8 L1228.0,1157.1 L1231.0,1157.1 L1234.0,1156.7 L1237.0,1157.5 L1240.0,1158.1 L1243.0,1157.4 L1246.0,1157.8 L1249.0,1157.9 L1252.0,1157.9 L1255.0,1158.0 L1258.0,1157.3 L1261.0,1157.6 L1264.0,1156.7 L1267.0,1158.0 L1270.0,1157.1 L1273.0,1157.3 L1276.0,1157.9 L1279.0,1157.0 L1282.0,1156.8 L1285.0,1157.8 L1288.0,1157.5 L1291.0,1156.6 L1294.0,1156.5 L1297.0,1157.0 L1300.0,1156.5 L1303.0,1157.8 L1306.0,1156.8 L1309.0,1156.9 L1312.0,1157.1 L1315.0,1157.3 L1318.0,1157.1 L1321.0,1157.4 L1324.0,1157.5 L1327.0,1157.1 L1330.0,1156.6 L1333.0,1158.0 L1336.0,1157.5 L1339.0,1156.5 L1342.0,1157.1 L1345.0,1157.6 L1348.0,1158.0 L1351.0,1156.5 L1354.0,1156.4 L1357.0,1157.1 L1360.0,1157.0 L1363.0,1157.8 L1366.0,1157.6 L1369.0,1156.8 L1372.0,1157.0 L1375.0,1157.2 L1378.0,1157.7 L1381.0,1156.6 L1384.0,1156.9 L1387.0,1156.4 L1390.0,1157.3 L1393.0,1156.3 L1396.0,1157.8 L1399.0,1157.1 L1402.0,1157.2 L1405.0,1156.4 L1408.0,1156.6 L1411.0,1157.0 L1414.0,1157.6 L1417.0,1157.1 L1420.0,1156.7 L1423.0,1157.8" stroke="#333" stroke-width="1.6" fill="none" stroke-dasharray="5,3"/>
<path d="M967.0,1160.3 L970.0,1160.0 L973.1,1159.5 L976.1,1159.7 L979.1,1160.6 L982.1,1159.4 L985.2,1160.1 L988.2,1160.2 L991.2,1159.8 L994.2,1160.4 L997.3,1160.7 L1000.3,1160.6 L1003.3,1160.4 L1006.3,1159.5 L1009.4,1159.3 L1012.4,1159.9 L1015.4,1159.7 L1018.4,1159.5 L1021.5,1160.6 L1024.5,1159.5 L1027.5,1160.5 L1030.5,1160.7 L1033.6,1159.4 L1036.6,1160.7 L1039.6,1159.8 L1042.6,1159.5 L1045.7,1159.5 L1048.7,1159.3 L1051.7,1160.0 L1054.8,1159.8 L1057.8,1160.6 L1060.8,1160.5 L1063.8,1159.3 L1066.9,1159.8 L1069.9,1159.8 L1072.9,1159.5 L1075.9,1159.6 L1079.0,1159.6 L1082.0,1160.3 L1085.0,1159.7 L1088.0,1159.4 L1091.1,1159.6 L1094.1,1159.9 L1097.1,1160.1 L1100.1,1159.6 L1103.2,1160.3 L1106.2,1159.5 L1109.2,1160.3 L1112.2,1160.2 L1115.3,1159.5 L1118.3,1160.4 L1121.3,1159.8 L1124.4,1160.1 L1127.4,1160.2 L1130.4,1160.2 L1133.4,1159.9 L1136.5,1159.3 L1139.5,1160.5 L1142.5,1160.6 L1145.5,1160.0 L1148.6,1160.1 L1151.6,1159.6 L1154.6,1160.6 L1157.6,1160.3 L1160.7,1159.6 L1163.7,1160.5 L1166.7,1160.8 L1169.7,1159.8 L1172.8,1160.8 L1175.8,1160.0 L1178.8,1159.5 L1181.8,1160.3 L1184.9,1159.7 L1187.9,1160.4 L1190.9,1160.1 L1193.9,1159.4 L1197.0,1160.0 L1200.0,1160.6 L1203.0,1160.0 L1206.0,1160.0 L1209.0,1160.5 L1212.1,1159.9 L1215.1,1159.9 L1218.1,1160.1 L1221.1,1160.4 L1224.1,1159.4 L1227.1,1159.2 L1230.1,1160.3 L1233.2,1159.9 L1236.2,1159.5 L1239.2,1160.4 L1242.2,1160.4 L1245.2,1159.9 L1248.2,1160.6 L1251.2,1160.3 L1254.2,1160.2 L1257.3,1159.4 L1260.3,1158.9 L1263.3,1160.0 L1266.3,1160.1 L1269.3,1159.4 L1272.3,1159.6 L1275.3,1159.8 L1278.4,1159.2 L1281.4,1159.9 L1284.4,1159.7 L1287.4,1159.4 L1290.4,1159.0 L1293.4,1159.7 L1296.4,1159.3 L1299.5,1159.9 L1302.5,1159.0 L1305.5,1159.4 L1308.5,1159.0 L1311.5,1159.3 L1314.5,1159.6 L1317.5,1158.8 L1320.5,1158.7 L1323.6,1159.4 L1326.6,1158.9 L1329.6,1159.4 L1332.6,1158.9 L1335.6,1158.7 L1338.6,1159.4 L1341.6,1160.0 L1344.7,1159.9 L1347.7,1159.4 L1350.7,1159.2 L1353.7,1158.6 L1356.7,1158.9 L1359.7,1159.0 L1362.7,1160.0 L1365.8,1158.6 L1368.8,1159.9 L1371.8,1159.2 L1374.8,1159.1 L1377.8,1158.8 L1380.8,1159.9 L1383.8,1158.7 L1386.8,1159.3 L1389.9,1159.2 L1392.9,1158.6 L1395.9,1158.7 L1398.9,1159.9 L1401.9,1159.5 L1404.9,1159.4 L1407.9,1159.7 L1411.0,1158.4 L1414.0,1159.4 L1417.0,1159.4 L1420.0,1158.6" stroke="#b0302c" stroke-width="1.6" fill="none" />
<path d="M1100.0,1152.9 L1103.1,1153.6 L1106.1,1152.0 L1109.2,1152.6 L1112.2,1151.1 L1115.3,1151.8 L1118.4,1150.7 L1121.4,1150.8 L1124.5,1150.2 L1127.6,1150.9 L1130.6,1150.4 L1133.7,1149.6 L1136.8,1149.6 L1139.8,1148.8 L1142.9,1149.2 L1145.9,1147.8 L1149.0,1148.1 L1152.1,1148.1 L1155.1,1147.7 L1158.2,1147.0 L1161.2,1147.2 L1164.3,1148.1 L1167.4,1147.2 L1170.4,1148.3 L1173.5,1147.8 L1176.6,1148.6 L1179.6,1148.4 L1182.7,1148.1 L1185.8,1147.4 L1188.8,1146.7 L1191.9,1147.7 L1194.9,1148.0 L1198.0,1148.3 L1201.1,1146.9 L1204.1,1146.8 L1207.2,1148.4 L1210.2,1147.9 L1213.3,1147.3 L1216.4,1147.8 L1219.4,1146.6 L1222.5,1147.3 L1225.6,1147.6 L1228.6,1147.4 L1231.7,1146.5 L1234.8,1146.4 L1237.8,1147.3 L1240.9,1147.8 L1243.9,1146.3 L1247.0,1146.0 L1250.1,1145.7 L1253.2,1146.6 L1256.3,1145.3 L1259.4,1144.9 L1262.5,1145.5 L1265.6,1144.2 L1268.7,1143.0 L1271.8,1143.4 L1274.9,1141.5 L1278.0,1141.6 L1281.1,1141.9 L1284.2,1140.3 L1287.3,1139.6 L1290.4,1140.0 L1293.5,1139.2 L1296.6,1139.9 L1299.7,1137.7 L1302.8,1138.6 L1305.9,1137.3 L1309.0,1137.6 L1312.0,1136.8 L1315.1,1137.1 L1318.2,1136.4 L1321.2,1136.0 L1324.2,1136.4 L1327.3,1137.0 L1330.3,1136.0 L1333.4,1135.7 L1336.4,1135.9 L1339.5,1135.2 L1342.5,1135.5 L1345.6,1135.9 L1348.6,1136.0 L1351.6,1136.2 L1354.6,1135.6 L1357.7,1135.2 L1360.7,1135.3 L1363.7,1136.0 L1366.7,1135.8 L1369.7,1136.6 L1372.7,1136.1 L1375.8,1137.2 L1378.8,1136.9 L1381.8,1137.1 L1384.8,1137.4 L1387.8,1137.0 L1390.8,1136.9 L1393.8,1136.8 L1396.9,1136.4 L1399.9,1137.9 L1402.9,1137.4 L1405.9,1136.7 L1408.9,1138.4 L1411.9,1137.8 L1415.0,1138.0 L1418.0,1137.7 L1421.0,1137.2 L1424.0,1139.0" stroke="#2e6a4c" stroke-width="1.8" fill="none" />
<path d="M1247.0,1159.3 L1250.1,1158.5 L1253.2,1158.6 L1256.2,1155.6 L1259.3,1155.2 L1262.4,1154.0 L1265.5,1152.3 L1268.6,1152.4 L1271.7,1150.2 L1274.8,1148.2 L1277.8,1147.9 L1280.9,1145.8 L1284.0,1146.0 L1287.1,1146.1 L1290.2,1145.9 L1293.2,1144.0 L1296.3,1145.0 L1299.4,1144.0 L1302.5,1144.1 L1305.6,1143.5 L1308.6,1143.3 L1311.7,1142.7 L1314.8,1143.4 L1317.9,1142.1 L1321.0,1143.6 L1324.0,1141.5 L1327.1,1143.1 L1330.2,1141.3 L1333.3,1140.8 L1336.4,1141.9 L1339.4,1141.3 L1342.5,1141.5 L1345.6,1140.7 L1348.6,1140.9 L1351.6,1139.7 L1354.6,1140.9 L1357.7,1140.5 L1360.7,1141.3 L1363.7,1139.3 L1366.7,1139.4 L1369.7,1140.5 L1372.7,1141.0 L1375.8,1139.9 L1378.8,1140.4 L1381.8,1140.0 L1384.8,1139.6 L1387.8,1139.7 L1390.8,1139.9 L1393.8,1138.7 L1396.9,1139.2 L1399.9,1140.0 L1402.9,1139.0 L1405.9,1139.3 L1408.9,1138.8 L1411.9,1139.0 L1415.0,1139.5 L1418.0,1139.6 L1421.0,1140.0 L1424.0,1139.0" stroke="#2e6a4c" stroke-width="1.8" fill="none" />
<path d="M1318.0,1132.0 L1331.0,1132.0" stroke="#2e6a4c" stroke-width="1.6" fill="none" />
<path d="M1326.0,1129.0 L1331.0,1132.0 L1326.0,1135.0" stroke="#2e6a4c" stroke-width="1.6" fill="none" />
<path d="M1370.0,1143.0 L1358.0,1143.0" stroke="#2e6a4c" stroke-width="1.6" fill="none" />
<path d="M1363.0,1140.0 L1358.0,1143.0 L1363.0,1146.0" stroke="#2e6a4c" stroke-width="1.6" fill="none" />
<path d="M1242.5,1160.4 L1259.7,1145.6 L1277.0,1144.4 L1309.0,1148.0 L1358.0,1154.0 L1424.0,1158.0" stroke="#b0302c" stroke-width="1.8" fill="none" />
<path d="M1100.0,1164.0 C1105.1,1163.8 1151.6,1163.2 1161.4,1161.6 C1171.2,1160.0 1212.4,1146.3 1218.0,1144.4 C1223.6,1142.5 1227.3,1143.7 1229.0,1138.3 C1230.7,1132.9 1236.6,1090.7 1238.0,1080.0 C1239.4,1069.3 1244.8,1020.1 1246.0,1010.0 C1247.2,999.9 1251.7,965.7 1253.0,959.0 C1254.3,952.3 1260.2,933.7 1262.0,930.0 C1263.8,926.3 1272.1,914.6 1274.4,914.6 C1276.7,914.6 1287.2,924.7 1290.0,930.0 C1292.8,935.3 1304.7,972.2 1308.0,978.0 C1311.3,983.8 1326.8,996.8 1330.0,1000.0 C1333.2,1003.2 1344.3,1013.1 1346.5,1016.4 C1348.7,1019.7 1353.2,1036.8 1356.0,1040.0 C1358.8,1043.2 1374.3,1051.1 1380.0,1055.0 C1385.7,1058.9 1423.0,1083.0 1424.2,1086.7 C1425.4,1090.4 1402.2,1096.3 1394.8,1099.0 C1387.4,1101.7 1342.3,1116.3 1335.8,1118.6 C1329.2,1120.8 1321.5,1124.7 1316.2,1126.0 C1310.9,1127.3 1279.8,1133.4 1272.0,1134.6 C1264.2,1135.8 1232.6,1139.6 1222.8,1140.7 C1213.0,1141.8 1164.2,1147.0 1154.0,1148.0 C1143.8,1149.0 1111.2,1152.3 1100.0,1153.0 C1088.8,1153.7 1031.1,1155.6 1020.0,1156.0 C1008.9,1156.4 971.4,1157.8 967.0,1158.0" stroke="#a83ad8" stroke-width="2" fill="none" />
<line x1="1231.0" y1="1060.0" x2="1231.0" y2="1034.0" stroke="#a83ad8" stroke-width="1.8" />
<path d="M1227.5,1039.0 L1231.0,1033.0 L1234.5,1039.0" stroke="#a83ad8" stroke-width="1.8" fill="none" />
<line x1="1354.0" y1="1021.0" x2="1372.0" y2="1038.0" stroke="#a83ad8" stroke-width="1.8" />
<path d="M1366.0,1037.0 L1373.0,1039.0 L1371.0,1032.0" stroke="#a83ad8" stroke-width="1.8" fill="none" />
<text x="1310.0" y="949.0" font-size="17" fill="#a83ad8" textLength="70.0" lengthAdjust="spacingAndGlyphs">C<tspan dy="-7" font-size="11">16</tspan><tspan dy="7">O</tspan><tspan dy="-7" font-size="11">18</tspan><tspan dy="7">O</tspan></text>
<text x="1310.0" y="973.0" font-size="17" fill="#a83ad8" textLength="82.0" lengthAdjust="spacingAndGlyphs">(m/z=46)</text>
<text x="960.0" y="1026.0" font-size="17" fill="#3550e6" textLength="96.0" lengthAdjust="spacingAndGlyphs">H<tspan dy="5" font-size="11">2</tspan><tspan dy="-5"> (m/z=2)</tspan></text>
<path d="M965.0,1162.0 C965.3,1156.8 967.3,1120.2 968.0,1110.0 C968.7,1099.8 971.3,1065.8 972.0,1060.0 C972.7,1054.2 973.8,1052.3 975.0,1052.0 C976.2,1051.7 982.5,1052.2 984.0,1057.0 C985.5,1061.8 988.8,1092.1 990.0,1100.0 C991.2,1107.9 994.7,1131.0 996.0,1136.0 C997.3,1141.0 1001.6,1148.3 1003.0,1150.0 C1004.4,1151.7 1006.3,1152.2 1010.0,1153.0 C1013.7,1153.8 1031.0,1157.7 1040.0,1158.0 C1049.0,1158.3 1089.0,1156.6 1100.0,1156.0 C1111.0,1155.4 1145.0,1152.4 1150.0,1152.0" stroke="#3550e6" stroke-width="2" fill="none" stroke-dasharray="5,3"/>
<line x1="960.0" y1="1117.0" x2="960.0" y2="1090.0" stroke="#3550e6" stroke-width="1.8" />
<path d="M956.5,1095.0 L960.0,1089.0 L963.5,1095.0" stroke="#3550e6" stroke-width="1.8" fill="none" />
<text x="1375.0" y="1131.0" font-size="17" fill="#2e6a4c" textLength="44.0" lengthAdjust="spacingAndGlyphs">C<tspan dy="-7" font-size="11">18</tspan><tspan dy="7">O</tspan><tspan dy="5" font-size="11">2</tspan></text>
<path d="M967.0,1315.6 C978.8,1315.2 1046.7,1312.6 1068.0,1311.8 C1089.3,1311.0 1134.3,1309.7 1150.0,1309.0 C1165.7,1308.3 1194.9,1307.0 1202.5,1306.0 C1210.1,1305.0 1212.8,1302.0 1215.0,1300.0 C1217.2,1298.0 1220.2,1296.0 1221.7,1289.0 C1223.2,1282.0 1226.3,1250.9 1228.0,1240.0 C1229.7,1229.1 1234.4,1196.8 1236.0,1195.6 C1237.6,1194.4 1240.9,1223.6 1242.0,1230.0 C1243.1,1236.4 1244.5,1246.4 1245.7,1250.8 C1246.9,1255.2 1250.9,1266.7 1252.0,1268.0 C1253.1,1269.3 1254.1,1263.3 1255.0,1262.0 C1255.9,1260.7 1258.8,1255.7 1260.0,1256.6 C1261.2,1257.5 1263.9,1264.5 1265.0,1270.0 C1266.1,1275.5 1258.3,1300.7 1269.7,1303.6 C1281.1,1306.5 1344.9,1296.2 1363.0,1294.7 C1381.1,1293.2 1417.6,1290.3 1424.7,1290.5 C1431.8,1290.7 1425.0,1294.8 1424.0,1296.8 C1423.0,1298.8 1419.2,1305.4 1415.8,1307.4 C1412.4,1309.4 1402.1,1312.3 1394.7,1313.7 C1387.3,1315.1 1363.6,1317.2 1352.6,1319.0 C1341.6,1320.8 1308.6,1327.9 1300.0,1329.5 C1291.4,1331.1 1286.0,1332.9 1279.0,1332.4 C1272.0,1331.9 1247.8,1326.7 1240.0,1325.0 C1232.2,1323.3 1222.5,1319.3 1212.0,1318.0 C1201.5,1316.7 1166.8,1314.6 1150.0,1314.0 C1133.2,1313.4 1089.3,1312.8 1068.0,1313.0 C1046.7,1313.2 978.8,1315.3 967.0,1315.6" stroke="#111" stroke-width="2.2" fill="none" />
<path d="M967.0,1368.4 C967.4,1363.9 969.4,1338.4 970.0,1330.0 C970.6,1321.6 970.2,1300.6 972.0,1296.4 C973.8,1292.2 981.6,1295.2 985.0,1294.0 C988.4,1292.8 997.3,1286.4 1000.8,1285.9 C1004.3,1285.4 1011.6,1288.8 1015.0,1290.0 C1018.4,1291.2 1025.7,1295.9 1029.6,1296.4 C1033.5,1296.9 1044.1,1293.2 1048.8,1294.0 C1053.5,1294.8 1065.0,1301.3 1070.0,1303.0 C1075.0,1304.7 1086.6,1307.4 1092.0,1308.4 C1097.4,1309.4 1102.0,1312.1 1116.0,1311.8 C1130.0,1311.5 1194.1,1306.8 1212.0,1306.0 C1229.9,1305.2 1252.1,1306.3 1269.7,1305.0 C1287.3,1303.7 1344.9,1296.4 1363.0,1294.7 C1381.1,1293.0 1417.5,1291.0 1424.7,1290.5" stroke="#111" stroke-width="2" fill="none" stroke-dasharray="6,3"/>
<path d="M1424.0,1296.8 C1423.0,1298.0 1419.2,1305.4 1415.8,1307.4 C1412.4,1309.4 1402.1,1312.3 1394.7,1313.7 C1387.3,1315.1 1363.6,1317.2 1352.6,1319.0 C1341.6,1320.8 1308.6,1327.9 1300.0,1329.5 C1291.4,1331.1 1289.3,1333.7 1279.0,1332.4 C1268.7,1331.1 1232.9,1319.9 1212.0,1318.0 C1191.1,1316.1 1116.8,1315.8 1100.0,1316.0 C1083.2,1316.2 1074.0,1318.6 1068.0,1320.0 C1062.0,1321.4 1054.4,1327.0 1048.8,1327.6 C1043.2,1328.2 1025.9,1323.1 1020.0,1325.0 C1014.1,1326.9 1002.5,1342.4 998.0,1343.5 C993.5,1344.6 984.6,1334.6 981.6,1334.8 C978.6,1335.0 973.4,1341.1 972.0,1345.0 C970.6,1348.9 969.9,1365.7 969.6,1368.4" stroke="#111" stroke-width="2" fill="none" stroke-dasharray="6,3"/>
<text x="1116.0" y="1235.0" font-size="17" fill="#b7b728" textLength="60.0" lengthAdjust="spacingAndGlyphs">Cycle 6</text>
<line x1="1178.5" y1="1229.0" x2="1234.0" y2="1232.0" stroke="#b7b728" stroke-width="1.5" />
<text x="1094.4" y="1353.0" font-size="17" fill="#5ad33c" textLength="58.0" lengthAdjust="spacingAndGlyphs">Cycle 7</text>
<line x1="1049.0" y1="1328.6" x2="1087.0" y2="1342.0" stroke="#5ad33c" stroke-width="1.5" stroke-dasharray="2,2"/>
<rect x="122.5" y="1609.5" width="565.5" height="387.5" fill="none" stroke="#56625f" stroke-width="3" />
<line x1="235.6" y1="1609.5" x2="235.6" y2="1616.5" stroke="#56625f" stroke-width="2" />
<line x1="235.6" y1="1997.0" x2="235.6" y2="1990.0" stroke="#56625f" stroke-width="2" />
<line x1="348.7" y1="1609.5" x2="348.7" y2="1616.5" stroke="#56625f" stroke-width="2" />
<line x1="348.7" y1="1997.0" x2="348.7" y2="1990.0" stroke="#56625f" stroke-width="2" />
<line x1="461.8" y1="1609.5" x2="461.8" y2="1616.5" stroke="#56625f" stroke-width="2" />
<line x1="461.8" y1="1997.0" x2="461.8" y2="1990.0" stroke="#56625f" stroke-width="2" />
<line x1="574.9" y1="1609.5" x2="574.9" y2="1616.5" stroke="#56625f" stroke-width="2" />
<line x1="574.9" y1="1997.0" x2="574.9" y2="1990.0" stroke="#56625f" stroke-width="2" />
<line x1="122.5" y1="1919.5" x2="129.5" y2="1919.5" stroke="#56625f" stroke-width="2" />
<line x1="688.0" y1="1919.5" x2="681.0" y2="1919.5" stroke="#56625f" stroke-width="2" />
<line x1="122.5" y1="1842.0" x2="129.5" y2="1842.0" stroke="#56625f" stroke-width="2" />
<line x1="688.0" y1="1842.0" x2="681.0" y2="1842.0" stroke="#56625f" stroke-width="2" />
<line x1="122.5" y1="1764.5" x2="129.5" y2="1764.5" stroke="#56625f" stroke-width="2" />
<line x1="688.0" y1="1764.5" x2="681.0" y2="1764.5" stroke="#56625f" stroke-width="2" />
<line x1="122.5" y1="1687.0" x2="129.5" y2="1687.0" stroke="#56625f" stroke-width="2" />
<line x1="688.0" y1="1687.0" x2="681.0" y2="1687.0" stroke="#56625f" stroke-width="2" />
<text x="122.5" y="2028.0" font-size="30" fill="#111" text-anchor="middle" textLength="47.0" lengthAdjust="spacingAndGlyphs" stroke="#111" stroke-width="0.6">0.0</text>
<text x="235.6" y="2028.0" font-size="30" fill="#111" text-anchor="middle" textLength="47.0" lengthAdjust="spacingAndGlyphs" stroke="#111" stroke-width="0.6">0.2</text>
<text x="348.7" y="2028.0" font-size="30" fill="#111" text-anchor="middle" textLength="47.0" lengthAdjust="spacingAndGlyphs" stroke="#111" stroke-width="0.6">0.4</text>
<text x="461.8" y="2028.0" font-size="30" fill="#111" text-anchor="middle" textLength="47.0" lengthAdjust="spacingAndGlyphs" stroke="#111" stroke-width="0.6">0.6</text>
<text x="574.9" y="2028.0" font-size="30" fill="#111" text-anchor="middle" textLength="47.0" lengthAdjust="spacingAndGlyphs" stroke="#111" stroke-width="0.6">0.8</text>
<text x="688.0" y="2028.0" font-size="30" fill="#111" text-anchor="middle" textLength="47.0" lengthAdjust="spacingAndGlyphs" stroke="#111" stroke-width="0.6">1.0</text>
<text x="114.5" y="2008.0" font-size="30" fill="#111" text-anchor="end" textLength="47.0" lengthAdjust="spacingAndGlyphs" stroke="#111" stroke-width="0.6">0.0</text>
<text x="114.5" y="1930.5" font-size="30" fill="#111" text-anchor="end" textLength="47.0" lengthAdjust="spacingAndGlyphs" stroke="#111" stroke-width="0.6">0.2</text>
<text x="114.5" y="1853.0" font-size="30" fill="#111" text-anchor="end" textLength="47.0" lengthAdjust="spacingAndGlyphs" stroke="#111" stroke-width="0.6">0.4</text>
<text x="114.5" y="1775.5" font-size="30" fill="#111" text-anchor="end" textLength="47.0" lengthAdjust="spacingAndGlyphs" stroke="#111" stroke-width="0.6">0.6</text>
<text x="114.5" y="1698.0" font-size="30" fill="#111" text-anchor="end" textLength="47.0" lengthAdjust="spacingAndGlyphs" stroke="#111" stroke-width="0.6">0.8</text>
<text x="114.5" y="1620.5" font-size="30" fill="#111" text-anchor="end" textLength="47.0" lengthAdjust="spacingAndGlyphs" stroke="#111" stroke-width="0.6">1.0</text>
<path d="M122.5,1997.0 C122.6,1995.3 122.8,1990.0 123.1,1987.0 C123.3,1984.1 123.6,1982.2 124.2,1979.2 C124.8,1976.2 125.3,1973.1 126.5,1969.1 C127.6,1965.1 128.8,1960.6 131.0,1955.2 C133.2,1949.7 136.2,1942.8 139.5,1936.6 C142.8,1930.4 146.1,1924.7 150.8,1917.8 C155.5,1910.9 161.1,1903.2 167.7,1895.4 C174.3,1887.6 181.9,1879.4 190.4,1871.0 C198.8,1862.7 208.3,1854.1 218.6,1845.5 C229.0,1836.9 240.3,1828.0 252.6,1819.2 C264.8,1810.3 276.1,1802.4 292.1,1792.3 C308.2,1782.2 329.9,1769.2 348.7,1758.6 C367.6,1748.0 386.4,1738.2 405.2,1728.6 C424.1,1719.1 443.0,1710.1 461.8,1701.4 C480.6,1692.7 499.5,1684.4 518.3,1676.2 C537.2,1668.1 556.1,1660.3 574.9,1652.7 C593.8,1645.1 612.6,1637.7 631.5,1630.5 C650.3,1623.3 678.6,1613.0 688.0,1609.5" stroke="#0a0a0a" stroke-width="5" fill="none" />
<path d="M122.5,1979.6 C122.6,1977.9 122.8,1972.6 123.1,1969.7 C123.3,1966.7 123.6,1964.8 124.2,1961.9 C124.8,1959.0 125.3,1955.9 126.5,1952.0 C127.6,1948.1 128.8,1943.7 131.0,1938.5 C133.2,1933.3 136.2,1926.7 139.5,1920.8 C142.8,1914.8 146.1,1909.5 150.8,1903.0 C155.5,1896.6 161.1,1889.3 167.7,1882.1 C174.3,1874.8 181.9,1867.2 190.4,1859.5 C198.8,1851.9 208.3,1844.0 218.6,1836.1 C229.0,1828.1 240.3,1820.1 252.6,1811.9 C264.8,1803.8 276.1,1796.6 292.1,1787.2 C308.2,1777.9 329.9,1765.9 348.7,1756.0 C367.6,1746.2 386.4,1737.0 405.2,1728.0 C424.1,1719.0 443.0,1710.5 461.8,1702.2 C480.6,1693.8 499.5,1685.8 518.3,1677.9 C537.2,1670.1 556.1,1662.5 574.9,1655.1 C593.8,1647.6 612.6,1640.4 631.5,1633.3 C650.3,1626.2 678.6,1616.1 688.0,1612.6" stroke="#e8242a" stroke-width="5" fill="none" stroke-dasharray="9,6"/>
<text x="52.0" y="1803.5" font-size="38" fill="#111" text-anchor="middle" textLength="527.0" lengthAdjust="spacingAndGlyphs" stroke="#111" stroke-width="0.5" transform="rotate(-90 52 1803.5)">MHC Exchange Current Density</text>
<text x="386.0" y="2066.0" font-size="32" fill="#333" font-weight="bold" font-family="'Liberation Serif',serif" font-style="italic">c</text>
<text x="389.0" y="2052.0" font-size="20" fill="#333" font-weight="bold" font-family="'Liberation Serif',serif">~</text>
<text x="403.0" y="2073.0" font-size="22" fill="#333" font-weight="bold" font-family="'Liberation Serif',serif" font-style="italic">R</text>
<rect x="875.2" y="1609.5" width="566.0" height="387.5" fill="none" stroke="#56625f" stroke-width="3" />
<line x1="988.4" y1="1609.5" x2="988.4" y2="1616.5" stroke="#56625f" stroke-width="2" />
<line x1="988.4" y1="1997.0" x2="988.4" y2="1990.0" stroke="#56625f" stroke-width="2" />
<line x1="1101.6" y1="1609.5" x2="1101.6" y2="1616.5" stroke="#56625f" stroke-width="2" />
<line x1="1101.6" y1="1997.0" x2="1101.6" y2="1990.0" stroke="#56625f" stroke-width="2" />
<line x1="1214.8" y1="1609.5" x2="1214.8" y2="1616.5" stroke="#56625f" stroke-width="2" />
<line x1="1214.8" y1="1997.0" x2="1214.8" y2="1990.0" stroke="#56625f" stroke-width="2" />
<line x1="1328.0" y1="1609.5" x2="1328.0" y2="1616.5" stroke="#56625f" stroke-width="2" />
<line x1="1328.0" y1="1997.0" x2="1328.0" y2="1990.0" stroke="#56625f" stroke-width="2" />
<line x1="875.2" y1="1932.3" x2="882.2" y2="1932.3" stroke="#56625f" stroke-width="2" />
<line x1="1441.2" y1="1932.3" x2="1434.2" y2="1932.3" stroke="#56625f" stroke-width="2" />
<line x1="875.2" y1="1867.7" x2="882.2" y2="1867.7" stroke="#56625f" stroke-width="2" />
<line x1="1441.2" y1="1867.7" x2="1434.2" y2="1867.7" stroke="#56625f" stroke-width="2" />
<line x1="875.2" y1="1803.0" x2="882.2" y2="1803.0" stroke="#56625f" stroke-width="2" />
<line x1="1441.2" y1="1803.0" x2="1434.2" y2="1803.0" stroke="#56625f" stroke-width="2" />
<line x1="875.2" y1="1738.4" x2="882.2" y2="1738.4" stroke="#56625f" stroke-width="2" />
<line x1="1441.2" y1="1738.4" x2="1434.2" y2="1738.4" stroke="#56625f" stroke-width="2" />
<line x1="875.2" y1="1673.7" x2="882.2" y2="1673.7" stroke="#56625f" stroke-width="2" />
<line x1="1441.2" y1="1673.7" x2="1434.2" y2="1673.7" stroke="#56625f" stroke-width="2" />
<text x="875.2" y="2028.0" font-size="30" fill="#111" text-anchor="middle" textLength="47.0" lengthAdjust="spacingAndGlyphs" stroke="#111" stroke-width="0.6">0.0</text>
<text x="988.4" y="2028.0" font-size="30" fill="#111" text-anchor="middle" textLength="47.0" lengthAdjust="spacingAndGlyphs" stroke="#111" stroke-width="0.6">0.2</text>
<text x="1101.6" y="2028.0" font-size="30" fill="#111" text-anchor="middle" textLength="47.0" lengthAdjust="spacingAndGlyphs" stroke="#111" stroke-width="0.6">0.4</text>
<text x="1214.8" y="2028.0" font-size="30" fill="#111" text-anchor="middle" textLength="47.0" lengthAdjust="spacingAndGlyphs" stroke="#111" stroke-width="0.6">0.6</text>
<text x="1328.0" y="2028.0" font-size="30" fill="#111" text-anchor="middle" textLength="47.0" lengthAdjust="spacingAndGlyphs" stroke="#111" stroke-width="0.6">0.8</text>
<text x="1441.2" y="2028.0" font-size="30" fill="#111" text-anchor="middle" textLength="47.0" lengthAdjust="spacingAndGlyphs" stroke="#111" stroke-width="0.6">1.0</text>
<text x="867.2" y="2008.0" font-size="30" fill="#111" text-anchor="end" textLength="47.0" lengthAdjust="spacingAndGlyphs" stroke="#111" stroke-width="0.6">0.0</text>
<text x="867.2" y="1943.3" font-size="30" fill="#111" text-anchor="end" textLength="47.0" lengthAdjust="spacingAndGlyphs" stroke="#111" stroke-width="0.6">0.2</text>
<text x="867.2" y="1878.7" font-size="30" fill="#111" text-anchor="end" textLength="47.0" lengthAdjust="spacingAndGlyphs" stroke="#111" stroke-width="0.6">0.4</text>
<text x="867.2" y="1814.0" font-size="30" fill="#111" text-anchor="end" textLength="47.0" lengthAdjust="spacingAndGlyphs" stroke="#111" stroke-width="0.6">0.6</text>
<text x="867.2" y="1749.4" font-size="30" fill="#111" text-anchor="end" textLength="47.0" lengthAdjust="spacingAndGlyphs" stroke="#111" stroke-width="0.6">0.8</text>
<text x="867.2" y="1684.7" font-size="30" fill="#111" text-anchor="end" textLength="47.0" lengthAdjust="spacingAndGlyphs" stroke="#111" stroke-width="0.6">1.0</text>
<text x="867.2" y="1620.0" font-size="30" fill="#111" text-anchor="end" textLength="47.0" lengthAdjust="spacingAndGlyphs" stroke="#111" stroke-width="0.6">1.2</text>
<path d="M877.0,1954.0 C877.2,1940.7 877.0,1899.7 878.0,1874.1 C879.1,1848.6 881.1,1819.7 883.4,1800.4 C885.7,1781.1 888.5,1770.7 891.6,1758.4 C894.8,1746.1 897.8,1737.6 902.4,1726.7 C907.0,1715.8 913.9,1701.5 919.1,1693.1 C924.4,1684.7 928.2,1680.8 933.8,1676.3 C939.4,1671.8 946.8,1667.0 952.7,1666.3 C958.7,1665.5 963.6,1669.2 969.6,1672.0 C975.5,1674.7 980.5,1677.2 988.4,1682.7 C996.3,1688.2 1007.3,1697.0 1016.7,1705.1 C1026.1,1713.2 1035.6,1722.3 1045.0,1731.3 C1054.4,1740.3 1063.9,1749.7 1073.3,1758.9 C1082.7,1768.0 1092.2,1777.3 1101.6,1786.2 C1111.0,1795.2 1120.5,1804.0 1129.9,1812.5 C1139.3,1821.0 1148.8,1829.3 1158.2,1837.2 C1167.6,1845.1 1177.1,1852.8 1186.5,1860.1 C1195.9,1867.4 1205.4,1874.3 1214.8,1881.0 C1224.2,1887.7 1233.7,1894.0 1243.1,1900.0 C1252.5,1906.0 1262.0,1911.7 1271.4,1917.1 C1280.8,1922.6 1290.3,1927.7 1299.7,1932.6 C1309.1,1937.4 1318.6,1942.0 1328.0,1946.4 C1337.4,1950.8 1346.9,1954.9 1356.3,1959.0 C1365.7,1963.0 1375.2,1966.7 1384.6,1970.5 C1394.0,1974.3 1403.7,1977.5 1412.9,1981.6 C1422.1,1985.7 1435.5,1992.9 1440.1,1995.2" stroke="#0a0a0a" stroke-width="5" fill="none" />
<text x="805.0" y="1802.0" font-size="38" fill="#111" text-anchor="middle" textLength="498.0" lengthAdjust="spacingAndGlyphs" stroke="#111" stroke-width="0.5" transform="rotate(-90 805 1802)">BV Exchange Current Density</text>
<text x="1140.0" y="2066.0" font-size="32" fill="#333" font-weight="bold" font-family="'Liberation Serif',serif" font-style="italic">c</text>
<text x="1143.0" y="2052.0" font-size="20" fill="#333" font-weight="bold" font-family="'Liberation Serif',serif">~</text>
<text x="1157.0" y="2073.0" font-size="22" fill="#333" font-weight="bold" font-family="'Liberation Serif',serif" font-style="italic">R</text>
<defs><filter id="dblur" x="0" y="0" width="1" height="1"><feGaussianBlur stdDeviation="0.7"/></filter></defs><g filter="url(#dblur)"><defs><filter id="tblur"><feGaussianBlur stdDeviation="0.8"/></filter></defs>
<text x="198.0" y="2231.5" font-size="40" fill="#2d3030" font-weight="bold" textLength="91.5" lengthAdjust="spacingAndGlyphs">SWV</text>
<line x1="301.0" y1="2217.0" x2="588.0" y2="2217.0" stroke="#3d4747" stroke-width="3" />
<path d="M584,2210 L603,2217 L584,2224 Z" fill="#222"/>
<text x="364.8" y="2202.0" font-size="30" fill="#2d3030" textLength="162.0" lengthAdjust="spacingAndGlyphs">frequency</text>
<text x="405.8" y="2243.0" font-size="30" fill="#2d3030" textLength="77.0" lengthAdjust="spacingAndGlyphs">scan</text>
<text x="640.8" y="2230.5" font-size="40" fill="#2d3030" font-weight="bold" textLength="155.0" lengthAdjust="spacingAndGlyphs">VF-SWV</text>
<line x1="845.0" y1="2212.0" x2="1044.0" y2="2212.0" stroke="#3d4747" stroke-width="3" />
<path d="M1040,2205.5 L1058,2212 L1040,2218.5 Z" fill="#222"/>
<text x="874.0" y="2205.0" font-size="30" fill="#2d3030" textLength="145.0" lengthAdjust="spacingAndGlyphs">numerical</text>
<text x="874.0" y="2243.0" font-size="30" fill="#2d3030" textLength="138.0" lengthAdjust="spacingAndGlyphs">modeling</text>
<text x="1095.7" y="2205.0" font-size="36" fill="#f2132b" font-weight="bold" textLength="284.0" lengthAdjust="spacingAndGlyphs">Map of surface</text>
<text x="1104.7" y="2253.0" font-size="36" fill="#f2132b" font-weight="bold" textLength="269.0" lengthAdjust="spacingAndGlyphs">redox kinetics</text>
<rect x="91.5" y="2300.0" width="365.0" height="298.0" fill="none" stroke="#cfd2d2" stroke-width="2.5" />
<defs><clipPath id="swvclip"><path d="M107.0,2428.5 L109.0,2428.5 L111.0,2428.5 L113.0,2428.4 L115.0,2428.4 L117.0,2428.4 L119.0,2428.4 L121.0,2428.4 L123.0,2428.4 L125.0,2428.3 L127.0,2428.3 L129.0,2428.3 L131.0,2428.2 L133.0,2428.2 L135.0,2428.1 L137.0,2428.0 L139.0,2427.9 L141.0,2427.8 L143.0,2427.7 L145.0,2427.5 L147.0,2427.4 L149.0,2427.2 L151.0,2427.0 L153.0,2426.7 L155.0,2426.5 L157.0,2426.1 L159.0,2425.8 L161.0,2425.4 L163.0,2424.9 L165.0,2424.4 L167.0,2423.8 L169.0,2423.2 L171.0,2422.5 L173.0,2421.7 L175.0,2420.8 L177.0,2419.8 L179.0,2418.8 L181.0,2417.6 L183.0,2416.3 L185.0,2415.0 L187.0,2413.5 L189.0,2411.8 L191.0,2410.1 L193.0,2408.2 L195.0,2406.2 L197.0,2404.0 L199.0,2401.8 L201.0,2399.3 L203.0,2396.8 L205.0,2394.1 L207.0,2391.2 L209.0,2388.3 L211.0,2385.2 L213.0,2382.0 L215.0,2378.7 L217.0,2375.4 L219.0,2371.9 L221.0,2368.4 L223.0,2364.8 L225.0,2361.2 L227.0,2357.5 L229.0,2353.9 L231.0,2350.3 L233.0,2346.7 L235.0,2343.2 L237.0,2339.8 L239.0,2336.4 L241.0,2333.2 L243.0,2330.2 L245.0,2327.3 L247.0,2324.6 L249.0,2322.1 L251.0,2319.8 L253.0,2317.8 L255.0,2316.1 L257.0,2314.6 L259.0,2313.4 L261.0,2312.5 L263.0,2311.8 L265.0,2311.5 L267.0,2311.5 L269.0,2311.8 L271.0,2312.5 L273.0,2313.4 L275.0,2314.6 L277.0,2316.1 L279.0,2317.8 L281.0,2319.8 L283.0,2322.1 L285.0,2324.6 L287.0,2327.3 L289.0,2330.2 L291.0,2333.2 L293.0,2336.4 L295.0,2339.8 L297.0,2343.2 L299.0,2346.7 L301.0,2350.3 L303.0,2353.9 L305.0,2357.5 L307.0,2361.2 L309.0,2364.8 L311.0,2368.4 L313.0,2371.9 L315.0,2375.4 L317.0,2378.7 L319.0,2382.0 L321.0,2385.2 L323.0,2388.3 L325.0,2391.2 L327.0,2394.1 L329.0,2396.8 L331.0,2399.3 L333.0,2401.8 L335.0,2404.0 L337.0,2406.2 L339.0,2408.2 L341.0,2410.1 L343.0,2411.8 L345.0,2413.5 L347.0,2415.0 L349.0,2416.3 L351.0,2417.6 L353.0,2418.8 L355.0,2419.8 L357.0,2420.8 L359.0,2421.7 L361.0,2422.5 L363.0,2423.2 L365.0,2423.8 L367.0,2424.4 L369.0,2424.9 L371.0,2425.4 L373.0,2425.8 L375.0,2426.1 L377.0,2426.5 L379.0,2426.7 L381.0,2427.0 L383.0,2427.2 L385.0,2427.4 L387.0,2427.5 L389.0,2427.7 L391.0,2427.8 L393.0,2427.9 L395.0,2428.0 L397.0,2428.1 L399.0,2428.2 L401.0,2428.2 L403.0,2428.3 L405.0,2428.3 L407.0,2428.3 L409.0,2428.4 L411.0,2428.4 L413.0,2428.4 L415.0,2428.4 L417.0,2428.4 L419.0,2428.4 L421.0,2428.5 L423.0,2428.5 L425.0,2428.5 L427.0,2428.5 L429.0,2428.5 L431.0,2428.5 L433.0,2428.5 L435.0,2428.5 L437.0,2428.5 L439.0,2428.5 L439.0,2430.5 L437.0,2430.5 L435.0,2430.5 L433.0,2430.5 L431.0,2430.6 L429.0,2430.6 L427.0,2430.6 L425.0,2430.6 L423.0,2430.6 L421.0,2430.6 L419.0,2430.7 L417.0,2430.7 L415.0,2430.8 L413.0,2430.8 L411.0,2430.9 L409.0,2431.0 L407.0,2431.1 L405.0,2431.2 L403.0,2431.3 L401.0,2431.5 L399.0,2431.6 L397.0,2431.8 L395.0,2432.1 L393.0,2432.4 L391.0,2432.7 L389.0,2433.0 L387.0,2433.5 L385.0,2433.9 L383.0,2434.5 L381.0,2435.1 L379.0,2435.8 L377.0,2436.6 L375.0,2437.5 L373.0,2438.5 L371.0,2439.6 L369.0,2440.8 L367.0,2442.2 L365.0,2443.7 L363.0,2445.4 L361.0,2447.2 L359.0,2449.2 L357.0,2451.3 L355.0,2453.7 L353.0,2456.2 L351.0,2458.9 L349.0,2461.9 L347.0,2465.0 L345.0,2468.3 L343.0,2471.9 L341.0,2475.6 L339.0,2479.5 L337.0,2483.6 L335.0,2487.9 L333.0,2492.3 L331.0,2496.9 L329.0,2501.6 L327.0,2506.4 L325.0,2511.4 L323.0,2516.3 L321.0,2521.4 L319.0,2526.4 L317.0,2531.5 L315.0,2536.4 L313.0,2541.4 L311.0,2546.2 L309.0,2550.8 L307.0,2555.3 L305.0,2559.5 L303.0,2563.6 L301.0,2567.3 L299.0,2570.8 L297.0,2573.9 L295.0,2576.6 L293.0,2579.0 L291.0,2580.9 L289.0,2582.5 L287.0,2583.6 L285.0,2584.3 L283.0,2584.5 L281.0,2584.3 L279.0,2583.6 L277.0,2582.5 L275.0,2580.9 L273.0,2579.0 L271.0,2576.6 L269.0,2573.9 L267.0,2570.8 L265.0,2567.3 L263.0,2563.6 L261.0,2559.5 L259.0,2555.3 L257.0,2550.8 L255.0,2546.2 L253.0,2541.4 L251.0,2536.4 L249.0,2531.5 L247.0,2526.4 L245.0,2521.4 L243.0,2516.3 L241.0,2511.4 L239.0,2506.4 L237.0,2501.6 L235.0,2496.9 L233.0,2492.3 L231.0,2487.9 L229.0,2483.6 L227.0,2479.5 L225.0,2475.6 L223.0,2471.9 L221.0,2468.3 L219.0,2465.0 L217.0,2461.9 L215.0,2458.9 L213.0,2456.2 L211.0,2453.7 L209.0,2451.3 L207.0,2449.2 L205.0,2447.2 L203.0,2445.4 L201.0,2443.7 L199.0,2442.2 L197.0,2440.8 L195.0,2439.6 L193.0,2438.5 L191.0,2437.5 L189.0,2436.6 L187.0,2435.8 L185.0,2435.1 L183.0,2434.5 L181.0,2433.9 L179.0,2433.5 L177.0,2433.0 L175.0,2432.7 L173.0,2432.4 L171.0,2432.1 L169.0,2431.8 L167.0,2431.6 L165.0,2431.5 L163.0,2431.3 L161.0,2431.2 L159.0,2431.1 L157.0,2431.0 L155.0,2430.9 L153.0,2430.8 L151.0,2430.8 L149.0,2430.7 L147.0,2430.7 L145.0,2430.6 L143.0,2430.6 L141.0,2430.6 L139.0,2430.6 L137.0,2430.6 L135.0,2430.6 L133.0,2430.5 L131.0,2430.5 L129.0,2430.5 L127.0,2430.5 L125.0,2430.5 L123.0,2430.5 L121.0,2430.5 L119.0,2430.5 L117.0,2430.5 L115.0,2430.5 L113.0,2430.5 L111.0,2430.5 L109.0,2430.5 L107.0,2430.5Z"/></clipPath></defs>
<path d="M107.0,2428.5 L109.0,2428.5 L111.0,2428.5 L113.0,2428.4 L115.0,2428.4 L117.0,2428.4 L119.0,2428.4 L121.0,2428.4 L123.0,2428.4 L125.0,2428.3 L127.0,2428.3 L129.0,2428.3 L131.0,2428.2 L133.0,2428.2 L135.0,2428.1 L137.0,2428.0 L139.0,2427.9 L141.0,2427.8 L143.0,2427.7 L145.0,2427.5 L147.0,2427.4 L149.0,2427.2 L151.0,2427.0 L153.0,2426.7 L155.0,2426.5 L157.0,2426.1 L159.0,2425.8 L161.0,2425.4 L163.0,2424.9 L165.0,2424.4 L167.0,2423.8 L169.0,2423.2 L171.0,2422.5 L173.0,2421.7 L175.0,2420.8 L177.0,2419.8 L179.0,2418.8 L181.0,2417.6 L183.0,2416.3 L185.0,2415.0 L187.0,2413.5 L189.0,2411.8 L191.0,2410.1 L193.0,2408.2 L195.0,2406.2 L197.0,2404.0 L199.0,2401.8 L201.0,2399.3 L203.0,2396.8 L205.0,2394.1 L207.0,2391.2 L209.0,2388.3 L211.0,2385.2 L213.0,2382.0 L215.0,2378.7 L217.0,2375.4 L219.0,2371.9 L221.0,2368.4 L223.0,2364.8 L225.0,2361.2 L227.0,2357.5 L229.0,2353.9 L231.0,2350.3 L233.0,2346.7 L235.0,2343.2 L237.0,2339.8 L239.0,2336.4 L241.0,2333.2 L243.0,2330.2 L245.0,2327.3 L247.0,2324.6 L249.0,2322.1 L251.0,2319.8 L253.0,2317.8 L255.0,2316.1 L257.0,2314.6 L259.0,2313.4 L261.0,2312.5 L263.0,2311.8 L265.0,2311.5 L267.0,2311.5 L269.0,2311.8 L271.0,2312.5 L273.0,2313.4 L275.0,2314.6 L277.0,2316.1 L279.0,2317.8 L281.0,2319.8 L283.0,2322.1 L285.0,2324.6 L287.0,2327.3 L289.0,2330.2 L291.0,2333.2 L293.0,2336.4 L295.0,2339.8 L297.0,2343.2 L299.0,2346.7 L301.0,2350.3 L303.0,2353.9 L305.0,2357.5 L307.0,2361.2 L309.0,2364.8 L311.0,2368.4 L313.0,2371.9 L315.0,2375.4 L317.0,2378.7 L319.0,2382.0 L321.0,2385.2 L323.0,2388.3 L325.0,2391.2 L327.0,2394.1 L329.0,2396.8 L331.0,2399.3 L333.0,2401.8 L335.0,2404.0 L337.0,2406.2 L339.0,2408.2 L341.0,2410.1 L343.0,2411.8 L345.0,2413.5 L347.0,2415.0 L349.0,2416.3 L351.0,2417.6 L353.0,2418.8 L355.0,2419.8 L357.0,2420.8 L359.0,2421.7 L361.0,2422.5 L363.0,2423.2 L365.0,2423.8 L367.0,2424.4 L369.0,2424.9 L371.0,2425.4 L373.0,2425.8 L375.0,2426.1 L377.0,2426.5 L379.0,2426.7 L381.0,2427.0 L383.0,2427.2 L385.0,2427.4 L387.0,2427.5 L389.0,2427.7 L391.0,2427.8 L393.0,2427.9 L395.0,2428.0 L397.0,2428.1 L399.0,2428.2 L401.0,2428.2 L403.0,2428.3 L405.0,2428.3 L407.0,2428.3 L409.0,2428.4 L411.0,2428.4 L413.0,2428.4 L415.0,2428.4 L417.0,2428.4 L419.0,2428.4 L421.0,2428.5 L423.0,2428.5 L425.0,2428.5 L427.0,2428.5 L429.0,2428.5 L431.0,2428.5 L433.0,2428.5 L435.0,2428.5 L437.0,2428.5 L439.0,2428.5 L439.0,2430.5 L437.0,2430.5 L435.0,2430.5 L433.0,2430.5 L431.0,2430.6 L429.0,2430.6 L427.0,2430.6 L425.0,2430.6 L423.0,2430.6 L421.0,2430.6 L419.0,2430.7 L417.0,2430.7 L415.0,2430.8 L413.0,2430.8 L411.0,2430.9 L409.0,2431.0 L407.0,2431.1 L405.0,2431.2 L403.0,2431.3 L401.0,2431.5 L399.0,2431.6 L397.0,2431.8 L395.0,2432.1 L393.0,2432.4 L391.0,2432.7 L389.0,2433.0 L387.0,2433.5 L385.0,2433.9 L383.0,2434.5 L381.0,2435.1 L379.0,2435.8 L377.0,2436.6 L375.0,2437.5 L373.0,2438.5 L371.0,2439.6 L369.0,2440.8 L367.0,2442.2 L365.0,2443.7 L363.0,2445.4 L361.0,2447.2 L359.0,2449.2 L357.0,2451.3 L355.0,2453.7 L353.0,2456.2 L351.0,2458.9 L349.0,2461.9 L347.0,2465.0 L345.0,2468.3 L343.0,2471.9 L341.0,2475.6 L339.0,2479.5 L337.0,2483.6 L335.0,2487.9 L333.0,2492.3 L331.0,2496.9 L329.0,2501.6 L327.0,2506.4 L325.0,2511.4 L323.0,2516.3 L321.0,2521.4 L319.0,2526.4 L317.0,2531.5 L315.0,2536.4 L313.0,2541.4 L311.0,2546.2 L309.0,2550.8 L307.0,2555.3 L305.0,2559.5 L303.0,2563.6 L301.0,2567.3 L299.0,2570.8 L297.0,2573.9 L295.0,2576.6 L293.0,2579.0 L291.0,2580.9 L289.0,2582.5 L287.0,2583.6 L285.0,2584.3 L283.0,2584.5 L281.0,2584.3 L279.0,2583.6 L277.0,2582.5 L275.0,2580.9 L273.0,2579.0 L271.0,2576.6 L269.0,2573.9 L267.0,2570.8 L265.0,2567.3 L263.0,2563.6 L261.0,2559.5 L259.0,2555.3 L257.0,2550.8 L255.0,2546.2 L253.0,2541.4 L251.0,2536.4 L249.0,2531.5 L247.0,2526.4 L245.0,2521.4 L243.0,2516.3 L241.0,2511.4 L239.0,2506.4 L237.0,2501.6 L235.0,2496.9 L233.0,2492.3 L231.0,2487.9 L229.0,2483.6 L227.0,2479.5 L225.0,2475.6 L223.0,2471.9 L221.0,2468.3 L219.0,2465.0 L217.0,2461.9 L215.0,2458.9 L213.0,2456.2 L211.0,2453.7 L209.0,2451.3 L207.0,2449.2 L205.0,2447.2 L203.0,2445.4 L201.0,2443.7 L199.0,2442.2 L197.0,2440.8 L195.0,2439.6 L193.0,2438.5 L191.0,2437.5 L189.0,2436.6 L187.0,2435.8 L185.0,2435.1 L183.0,2434.5 L181.0,2433.9 L179.0,2433.5 L177.0,2433.0 L175.0,2432.7 L173.0,2432.4 L171.0,2432.1 L169.0,2431.8 L167.0,2431.6 L165.0,2431.5 L163.0,2431.3 L161.0,2431.2 L159.0,2431.1 L157.0,2431.0 L155.0,2430.9 L153.0,2430.8 L151.0,2430.8 L149.0,2430.7 L147.0,2430.7 L145.0,2430.6 L143.0,2430.6 L141.0,2430.6 L139.0,2430.6 L137.0,2430.6 L135.0,2430.6 L133.0,2430.5 L131.0,2430.5 L129.0,2430.5 L127.0,2430.5 L125.0,2430.5 L123.0,2430.5 L121.0,2430.5 L119.0,2430.5 L117.0,2430.5 L115.0,2430.5 L113.0,2430.5 L111.0,2430.5 L109.0,2430.5 L107.0,2430.5Z" fill="#fb9ccb"/>
<g clip-path="url(#swvclip)">
<line x1="109.0" y1="2290.0" x2="109.0" y2="2600.0" stroke="#ef5f95" stroke-width="2.2" />
<line x1="112.2" y1="2290.0" x2="112.2" y2="2600.0" stroke="#ffd3e8" stroke-width="1.3" />
<line x1="115.4" y1="2290.0" x2="115.4" y2="2600.0" stroke="#ef5f95" stroke-width="2.2" />
<line x1="118.6" y1="2290.0" x2="118.6" y2="2600.0" stroke="#ffd3e8" stroke-width="1.3" />
<line x1="121.8" y1="2290.0" x2="121.8" y2="2600.0" stroke="#ef5f95" stroke-width="2.2" />
<line x1="125.0" y1="2290.0" x2="125.0" y2="2600.0" stroke="#ffd3e8" stroke-width="1.3" />
<line x1="128.2" y1="2290.0" x2="128.2" y2="2600.0" stroke="#ef5f95" stroke-width="2.2" />
<line x1="131.4" y1="2290.0" x2="131.4" y2="2600.0" stroke="#ffd3e8" stroke-width="1.3" />
<line x1="134.6" y1="2290.0" x2="134.6" y2="2600.0" stroke="#ef5f95" stroke-width="2.2" />
<line x1="137.8" y1="2290.0" x2="137.8" y2="2600.0" stroke="#ffd3e8" stroke-width="1.3" />
<line x1="141.0" y1="2290.0" x2="141.0" y2="2600.0" stroke="#ef5f95" stroke-width="2.2" />
<line x1="144.2" y1="2290.0" x2="144.2" y2="2600.0" stroke="#ffd3e8" stroke-width="1.3" />
<line x1="147.4" y1="2290.0" x2="147.4" y2="2600.0" stroke="#ef5f95" stroke-width="2.2" />
<line x1="150.6" y1="2290.0" x2="150.6" y2="2600.0" stroke="#ffd3e8" stroke-width="1.3" />
<line x1="153.8" y1="2290.0" x2="153.8" y2="2600.0" stroke="#ef5f95" stroke-width="2.2" />
<line x1="157.0" y1="2290.0" x2="157.0" y2="2600.0" stroke="#ffd3e8" stroke-width="1.3" />
<line x1="160.2" y1="2290.0" x2="160.2" y2="2600.0" stroke="#ef5f95" stroke-width="2.2" />
<line x1="163.4" y1="2290.0" x2="163.4" y2="2600.0" stroke="#ffd3e8" stroke-width="1.3" />
<line x1="166.6" y1="2290.0" x2="166.6" y2="2600.0" stroke="#ef5f95" stroke-width="2.2" />
<line x1="169.8" y1="2290.0" x2="169.8" y2="2600.0" stroke="#ffd3e8" stroke-width="1.3" />
<line x1="173.0" y1="2290.0" x2="173.0" y2="2600.0" stroke="#ef5f95" stroke-width="2.2" />
<line x1="176.2" y1="2290.0" x2="176.2" y2="2600.0" stroke="#ffd3e8" stroke-width="1.3" />
<line x1="179.4" y1="2290.0" x2="179.4" y2="2600.0" stroke="#ef5f95" stroke-width="2.2" />
<line x1="182.6" y1="2290.0" x2="182.6" y2="2600.0" stroke="#ffd3e8" stroke-width="1.3" />
<line x1="185.8" y1="2290.0" x2="185.8" y2="2600.0" stroke="#ef5f95" stroke-width="2.2" />
<line x1="189.0" y1="2290.0" x2="189.0" y2="2600.0" stroke="#ffd3e8" stroke-width="1.3" />
<line x1="192.2" y1="2290.0" x2="192.2" y2="2600.0" stroke="#ef5f95" stroke-width="2.2" />
<line x1="195.4" y1="2290.0" x2="195.4" y2="2600.0" stroke="#ffd3e8" stroke-width="1.3" />
<line x1="198.6" y1="2290.0" x2="198.6" y2="2600.0" stroke="#ef5f95" stroke-width="2.2" />
<line x1="201.8" y1="2290.0" x2="201.8" y2="2600.0" stroke="#ffd3e8" stroke-width="1.3" />
<line x1="205.0" y1="2290.0" x2="205.0" y2="2600.0" stroke="#ef5f95" stroke-width="2.2" />
<line x1="208.2" y1="2290.0" x2="208.2" y2="2600.0" stroke="#ffd3e8" stroke-width="1.3" />
<line x1="211.4" y1="2290.0" x2="211.4" y2="2600.0" stroke="#ef5f95" stroke-width="2.2" />
<line x1="214.6" y1="2290.0" x2="214.6" y2="2600.0" stroke="#ffd3e8" stroke-width="1.3" />
<line x1="217.8" y1="2290.0" x2="217.8" y2="2600.0" stroke="#ef5f95" stroke-width="2.2" />
<line x1="221.0" y1="2290.0" x2="221.0" y2="2600.0" stroke="#ffd3e8" stroke-width="1.3" />
<line x1="224.2" y1="2290.0" x2="224.2" y2="2600.0" stroke="#ef5f95" stroke-width="2.2" />
<line x1="227.4" y1="2290.0" x2="227.4" y2="2600.0" stroke="#ffd3e8" stroke-width="1.3" />
<line x1="230.6" y1="2290.0" x2="230.6" y2="2600.0" stroke="#ef5f95" stroke-width="2.2" />
<line x1="233.8" y1="2290.0" x2="233.8" y2="2600.0" stroke="#ffd3e8" stroke-width="1.3" />
<line x1="237.0" y1="2290.0" x2="237.0" y2="2600.0" stroke="#ef5f95" stroke-width="2.2" />
<line x1="240.2" y1="2290.0" x2="240.2" y2="2600.0" stroke="#ffd3e8" stroke-width="1.3" />
<line x1="243.4" y1="2290.0" x2="243.4" y2="2600.0" stroke="#ef5f95" stroke-width="2.2" />
<line x1="246.6" y1="2290.0" x2="246.6" y2="2600.0" stroke="#ffd3e8" stroke-width="1.3" />
<line x1="249.8" y1="2290.0" x2="249.8" y2="2600.0" stroke="#ef5f95" stroke-width="2.2" />
<line x1="253.0" y1="2290.0" x2="253.0" y2="2600.0" stroke="#ffd3e8" stroke-width="1.3" />
<line x1="256.2" y1="2290.0" x2="256.2" y2="2600.0" stroke="#ef5f95" stroke-width="2.2" />
<line x1="259.4" y1="2290.0" x2="259.4" y2="2600.0" stroke="#ffd3e8" stroke-width="1.3" />
<line x1="262.6" y1="2290.0" x2="262.6" y2="2600.0" stroke="#ef5f95" stroke-width="2.2" />
<line x1="265.8" y1="2290.0" x2="265.8" y2="2600.0" stroke="#ffd3e8" stroke-width="1.3" />
<line x1="269.0" y1="2290.0" x2="269.0" y2="2600.0" stroke="#ef5f95" stroke-width="2.2" />
<line x1="272.2" y1="2290.0" x2="272.2" y2="2600.0" stroke="#ffd3e8" stroke-width="1.3" />
<line x1="275.4" y1="2290.0" x2="275.4" y2="2600.0" stroke="#ef5f95" stroke-width="2.2" />
<line x1="278.6" y1="2290.0" x2="278.6" y2="2600.0" stroke="#ffd3e8" stroke-width="1.3" />
<line x1="281.8" y1="2290.0" x2="281.8" y2="2600.0" stroke="#ef5f95" stroke-width="2.2" />
<line x1="285.0" y1="2290.0" x2="285.0" y2="2600.0" stroke="#ffd3e8" stroke-width="1.3" />
<line x1="288.2" y1="2290.0" x2="288.2" y2="2600.0" stroke="#ef5f95" stroke-width="2.2" />
<line x1="291.4" y1="2290.0" x2="291.4" y2="2600.0" stroke="#ffd3e8" stroke-width="1.3" />
<line x1="294.6" y1="2290.0" x2="294.6" y2="2600.0" stroke="#ef5f95" stroke-width="2.2" />
<line x1="297.8" y1="2290.0" x2="297.8" y2="2600.0" stroke="#ffd3e8" stroke-width="1.3" />
<line x1="301.0" y1="2290.0" x2="301.0" y2="2600.0" stroke="#ef5f95" stroke-width="2.2" />
<line x1="304.2" y1="2290.0" x2="304.2" y2="2600.0" stroke="#ffd3e8" stroke-width="1.3" />
<line x1="307.4" y1="2290.0" x2="307.4" y2="2600.0" stroke="#ef5f95" stroke-width="2.2" />
<line x1="310.6" y1="2290.0" x2="310.6" y2="2600.0" stroke="#ffd3e8" stroke-width="1.3" />
<line x1="313.8" y1="2290.0" x2="313.8" y2="2600.0" stroke="#ef5f95" stroke-width="2.2" />
<line x1="317.0" y1="2290.0" x2="317.0" y2="2600.0" stroke="#ffd3e8" stroke-width="1.3" />
<line x1="320.2" y1="2290.0" x2="320.2" y2="2600.0" stroke="#ef5f95" stroke-width="2.2" />
<line x1="323.4" y1="2290.0" x2="323.4" y2="2600.0" stroke="#ffd3e8" stroke-width="1.3" />
<line x1="326.6" y1="2290.0" x2="326.6" y2="2600.0" stroke="#ef5f95" stroke-width="2.2" />
<line x1="329.8" y1="2290.0" x2="329.8" y2="2600.0" stroke="#ffd3e8" stroke-width="1.3" />
<line x1="333.0" y1="2290.0" x2="333.0" y2="2600.0" stroke="#ef5f95" stroke-width="2.2" />
<line x1="336.2" y1="2290.0" x2="336.2" y2="2600.0" stroke="#ffd3e8" stroke-width="1.3" />
<line x1="339.4" y1="2290.0" x2="339.4" y2="2600.0" stroke="#ef5f95" stroke-width="2.2" />
<line x1="342.6" y1="2290.0" x2="342.6" y2="2600.0" stroke="#ffd3e8" stroke-width="1.3" />
<line x1="345.8" y1="2290.0" x2="345.8" y2="2600.0" stroke="#ef5f95" stroke-width="2.2" />
<line x1="349.0" y1="2290.0" x2="349.0" y2="2600.0" stroke="#ffd3e8" stroke-width="1.3" />
<line x1="352.2" y1="2290.0" x2="352.2" y2="2600.0" stroke="#ef5f95" stroke-width="2.2" />
<line x1="355.4" y1="2290.0" x2="355.4" y2="2600.0" stroke="#ffd3e8" stroke-width="1.3" />
<line x1="358.6" y1="2290.0" x2="358.6" y2="2600.0" stroke="#ef5f95" stroke-width="2.2" />
<line x1="361.8" y1="2290.0" x2="361.8" y2="2600.0" stroke="#ffd3e8" stroke-width="1.3" />
<line x1="365.0" y1="2290.0" x2="365.0" y2="2600.0" stroke="#ef5f95" stroke-width="2.2" />
<line x1="368.2" y1="2290.0" x2="368.2" y2="2600.0" stroke="#ffd3e8" stroke-width="1.3" />
<line x1="371.4" y1="2290.0" x2="371.4" y2="2600.0" stroke="#ef5f95" stroke-width="2.2" />
<line x1="374.6" y1="2290.0" x2="374.6" y2="2600.0" stroke="#ffd3e8" stroke-width="1.3" />
<line x1="377.8" y1="2290.0" x2="377.8" y2="2600.0" stroke="#ef5f95" stroke-width="2.2" />
<line x1="381.0" y1="2290.0" x2="381.0" y2="2600.0" stroke="#ffd3e8" stroke-width="1.3" />
<line x1="384.2" y1="2290.0" x2="384.2" y2="2600.0" stroke="#ef5f95" stroke-width="2.2" />
<line x1="387.4" y1="2290.0" x2="387.4" y2="2600.0" stroke="#ffd3e8" stroke-width="1.3" />
<line x1="390.6" y1="2290.0" x2="390.6" y2="2600.0" stroke="#ef5f95" stroke-width="2.2" />
<line x1="393.8" y1="2290.0" x2="393.8" y2="2600.0" stroke="#ffd3e8" stroke-width="1.3" />
<line x1="397.0" y1="2290.0" x2="397.0" y2="2600.0" stroke="#ef5f95" stroke-width="2.2" />
<line x1="400.2" y1="2290.0" x2="400.2" y2="2600.0" stroke="#ffd3e8" stroke-width="1.3" />
<line x1="403.4" y1="2290.0" x2="403.4" y2="2600.0" stroke="#ef5f95" stroke-width="2.2" />
<line x1="406.6" y1="2290.0" x2="406.6" y2="2600.0" stroke="#ffd3e8" stroke-width="1.3" />
<line x1="409.8" y1="2290.0" x2="409.8" y2="2600.0" stroke="#ef5f95" stroke-width="2.2" />
<line x1="413.0" y1="2290.0" x2="413.0" y2="2600.0" stroke="#ffd3e8" stroke-width="1.3" />
<line x1="416.2" y1="2290.0" x2="416.2" y2="2600.0" stroke="#ef5f95" stroke-width="2.2" />
<line x1="419.4" y1="2290.0" x2="419.4" y2="2600.0" stroke="#ffd3e8" stroke-width="1.3" />
<line x1="422.6" y1="2290.0" x2="422.6" y2="2600.0" stroke="#ef5f95" stroke-width="2.2" />
<line x1="425.8" y1="2290.0" x2="425.8" y2="2600.0" stroke="#ffd3e8" stroke-width="1.3" />
<line x1="429.0" y1="2290.0" x2="429.0" y2="2600.0" stroke="#ef5f95" stroke-width="2.2" />
<line x1="432.2" y1="2290.0" x2="432.2" y2="2600.0" stroke="#ffd3e8" stroke-width="1.3" />
<line x1="435.4" y1="2290.0" x2="435.4" y2="2600.0" stroke="#ef5f95" stroke-width="2.2" />
<line x1="438.6" y1="2290.0" x2="438.6" y2="2600.0" stroke="#ffd3e8" stroke-width="1.3" />
</g>
<line x1="107.0" y1="2429.5" x2="439.0" y2="2429.5" stroke="#f48fb8" stroke-width="2" />
<line x1="341.0" y1="2315.0" x2="363.0" y2="2315.0" stroke="#f79fc0" stroke-width="3" />
<text x="374.7" y="2319.0" font-size="11" fill="#555" textLength="71.0" lengthAdjust="spacingAndGlyphs">SWV current</text>
<text x="82.0" y="2305.0" font-size="10" fill="#333" font-weight="bold" text-anchor="end">6</text>
<text x="82.0" y="2348.6" font-size="10" fill="#333" font-weight="bold" text-anchor="end">4</text>
<text x="82.0" y="2392.0" font-size="10" fill="#333" font-weight="bold" text-anchor="end">2</text>
<text x="82.0" y="2434.0" font-size="10" fill="#333" font-weight="bold" text-anchor="end">0</text>
<text x="82.0" y="2477.7" font-size="10" fill="#333" font-weight="bold" text-anchor="end">-2</text>
<text x="82.0" y="2521.0" font-size="10" fill="#333" font-weight="bold" text-anchor="end">-4</text>
<text x="82.0" y="2565.0" font-size="10" fill="#333" font-weight="bold" text-anchor="end">-6</text>
<text x="106.8" y="2613.0" font-size="10" fill="#333" font-weight="bold" text-anchor="middle">0.0</text>
<text x="173.0" y="2613.0" font-size="10" fill="#333" font-weight="bold" text-anchor="middle">0.2</text>
<text x="237.5" y="2613.0" font-size="10" fill="#333" font-weight="bold" text-anchor="middle">0.4</text>
<text x="303.7" y="2613.0" font-size="10" fill="#333" font-weight="bold" text-anchor="middle">0.6</text>
<text x="369.9" y="2613.0" font-size="10" fill="#333" font-weight="bold" text-anchor="middle">0.8</text>
<text x="436.0" y="2613.0" font-size="10" fill="#333" font-weight="bold" text-anchor="middle">1.0</text>
<text x="274.7" y="2628.0" font-size="11" fill="#333" font-weight="bold" text-anchor="middle">time, s</text>
<text x="66.0" y="2430.0" font-size="10" fill="#777" text-anchor="middle" transform="rotate(-90 66 2430)">I, mA/cm²</text>
<defs><clipPath id="hmclip"><rect x="568" y="2285.5" width="300" height="312"/></clipPath><filter id="hmblur" x="-5%" y="-5%" width="110%" height="110%"><feGaussianBlur stdDeviation="3.5"/></filter></defs>
<g clip-path="url(#hmclip)"><g filter="url(#hmblur)">
<defs><linearGradient id="hmbg" x1="0" y1="0" x2="0.15" y2="1"><stop offset="0" stop-color="#0000f6"/><stop offset="1" stop-color="#0049ff"/></linearGradient></defs>
<rect x="558.0" y="2275.5" width="320.0" height="332.0" fill="url(#hmbg)" />
<rect x="773" y="2280.5" width="5" height="5" fill="#001fff"/>
<rect x="778" y="2280.5" width="5" height="5" fill="#004fff"/>
<rect x="783" y="2280.5" width="5" height="5" fill="#00afff"/>
<rect x="788" y="2280.5" width="5" height="5" fill="#00ffff"/>
<rect x="793" y="2280.5" width="5" height="5" fill="#1fffdf"/>
<rect x="798" y="2280.5" width="20" height="5" fill="#2fffcf"/>
<rect x="818" y="2280.5" width="5" height="5" fill="#1fffdf"/>
<rect x="823" y="2280.5" width="5" height="5" fill="#00ffff"/>
<rect x="828" y="2280.5" width="5" height="5" fill="#00bfff"/>
<rect x="833" y="2280.5" width="5" height="5" fill="#008fff"/>
<rect x="838" y="2280.5" width="25" height="5" fill="#009fff"/>
<rect x="863" y="2280.5" width="10" height="5" fill="#008fff"/>
<rect x="773" y="2285.5" width="5" height="5" fill="#001fff"/>
<rect x="778" y="2285.5" width="5" height="5" fill="#004fff"/>
<rect x="783" y="2285.5" width="5" height="5" fill="#00afff"/>
<rect x="788" y="2285.5" width="5" height="5" fill="#00ffff"/>
<rect x="793" y="2285.5" width="5" height="5" fill="#1fffdf"/>
<rect x="798" y="2285.5" width="20" height="5" fill="#2fffcf"/>
<rect x="818" y="2285.5" width="5" height="5" fill="#1fffdf"/>
<rect x="823" y="2285.5" width="5" height="5" fill="#00ffff"/>
<rect x="828" y="2285.5" width="5" height="5" fill="#00bfff"/>
<rect x="833" y="2285.5" width="5" height="5" fill="#008fff"/>
<rect x="838" y="2285.5" width="25" height="5" fill="#009fff"/>
<rect x="863" y="2285.5" width="10" height="5" fill="#008fff"/>
<rect x="773" y="2290.5" width="5" height="5" fill="#001fff"/>
<rect x="778" y="2290.5" width="5" height="5" fill="#004fff"/>
<rect x="783" y="2290.5" width="5" height="5" fill="#00afff"/>
<rect x="788" y="2290.5" width="5" height="5" fill="#00ffff"/>
<rect x="793" y="2290.5" width="5" height="5" fill="#1fffdf"/>
<rect x="798" y="2290.5" width="20" height="5" fill="#2fffcf"/>
<rect x="818" y="2290.5" width="5" height="5" fill="#1fffdf"/>
<rect x="823" y="2290.5" width="5" height="5" fill="#00ffff"/>
<rect x="828" y="2290.5" width="5" height="5" fill="#00bfff"/>
<rect x="833" y="2290.5" width="5" height="5" fill="#008fff"/>
<rect x="838" y="2290.5" width="25" height="5" fill="#009fff"/>
<rect x="863" y="2290.5" width="10" height="5" fill="#008fff"/>
<rect x="773" y="2295.5" width="5" height="5" fill="#001fff"/>
<rect x="778" y="2295.5" width="5" height="5" fill="#004fff"/>
<rect x="783" y="2295.5" width="5" height="5" fill="#00afff"/>
<rect x="788" y="2295.5" width="5" height="5" fill="#00ffff"/>
<rect x="793" y="2295.5" width="5" height="5" fill="#1fffdf"/>
<rect x="798" y="2295.5" width="20" height="5" fill="#2fffcf"/>
<rect x="818" y="2295.5" width="5" height="5" fill="#1fffdf"/>
<rect x="823" y="2295.5" width="5" height="5" fill="#00ffff"/>
<rect x="828" y="2295.5" width="5" height="5" fill="#00bfff"/>
<rect x="833" y="2295.5" width="30" height="5" fill="#009fff"/>
<rect x="863" y="2295.5" width="10" height="5" fill="#008fff"/>
<rect x="773" y="2300.5" width="5" height="5" fill="#001fff"/>
<rect x="778" y="2300.5" width="5" height="5" fill="#005fff"/>
<rect x="783" y="2300.5" width="5" height="5" fill="#00bfff"/>
<rect x="788" y="2300.5" width="5" height="5" fill="#00ffff"/>
<rect x="793" y="2300.5" width="5" height="5" fill="#1fffdf"/>
<rect x="798" y="2300.5" width="20" height="5" fill="#2fffcf"/>
<rect x="818" y="2300.5" width="5" height="5" fill="#1fffdf"/>
<rect x="823" y="2300.5" width="5" height="5" fill="#00ffff"/>
<rect x="828" y="2300.5" width="5" height="5" fill="#00bfff"/>
<rect x="833" y="2300.5" width="30" height="5" fill="#009fff"/>
<rect x="863" y="2300.5" width="10" height="5" fill="#008fff"/>
<rect x="773" y="2305.5" width="5" height="5" fill="#001fff"/>
<rect x="778" y="2305.5" width="5" height="5" fill="#005fff"/>
<rect x="783" y="2305.5" width="5" height="5" fill="#00bfff"/>
<rect x="788" y="2305.5" width="5" height="5" fill="#00ffff"/>
<rect x="793" y="2305.5" width="5" height="5" fill="#1fffdf"/>
<rect x="798" y="2305.5" width="20" height="5" fill="#2fffcf"/>
<rect x="818" y="2305.5" width="5" height="5" fill="#1fffdf"/>
<rect x="823" y="2305.5" width="5" height="5" fill="#00ffff"/>
<rect x="828" y="2305.5" width="5" height="5" fill="#00bfff"/>
<rect x="833" y="2305.5" width="30" height="5" fill="#009fff"/>
<rect x="863" y="2305.5" width="10" height="5" fill="#008fff"/>
<rect x="773" y="2310.5" width="5" height="5" fill="#001fff"/>
<rect x="778" y="2310.5" width="5" height="5" fill="#005fff"/>
<rect x="783" y="2310.5" width="5" height="5" fill="#00bfff"/>
<rect x="788" y="2310.5" width="5" height="5" fill="#00ffff"/>
<rect x="793" y="2310.5" width="5" height="5" fill="#1fffdf"/>
<rect x="798" y="2310.5" width="20" height="5" fill="#2fffcf"/>
<rect x="818" y="2310.5" width="5" height="5" fill="#1fffdf"/>
<rect x="823" y="2310.5" width="5" height="5" fill="#00ffff"/>
<rect x="828" y="2310.5" width="5" height="5" fill="#00bfff"/>
<rect x="833" y="2310.5" width="30" height="5" fill="#009fff"/>
<rect x="863" y="2310.5" width="10" height="5" fill="#008fff"/>
<rect x="773" y="2315.5" width="5" height="5" fill="#002fff"/>
<rect x="778" y="2315.5" width="5" height="5" fill="#005fff"/>
<rect x="783" y="2315.5" width="5" height="5" fill="#00bfff"/>
<rect x="788" y="2315.5" width="5" height="5" fill="#00ffff"/>
<rect x="793" y="2315.5" width="5" height="5" fill="#1fffdf"/>
<rect x="798" y="2315.5" width="20" height="5" fill="#2fffcf"/>
<rect x="818" y="2315.5" width="5" height="5" fill="#1fffdf"/>
<rect x="823" y="2315.5" width="5" height="5" fill="#00ffff"/>
<rect x="828" y="2315.5" width="5" height="5" fill="#00bfff"/>
<rect x="833" y="2315.5" width="30" height="5" fill="#009fff"/>
<rect x="863" y="2315.5" width="10" height="5" fill="#008fff"/>
<rect x="773" y="2320.5" width="5" height="5" fill="#002fff"/>
<rect x="778" y="2320.5" width="5" height="5" fill="#006fff"/>
<rect x="783" y="2320.5" width="5" height="5" fill="#00bfff"/>
<rect x="788" y="2320.5" width="5" height="5" fill="#00ffff"/>
<rect x="793" y="2320.5" width="5" height="5" fill="#1fffdf"/>
<rect x="798" y="2320.5" width="20" height="5" fill="#2fffcf"/>
<rect x="818" y="2320.5" width="5" height="5" fill="#1fffdf"/>
<rect x="823" y="2320.5" width="5" height="5" fill="#00ffff"/>
<rect x="828" y="2320.5" width="5" height="5" fill="#00bfff"/>
<rect x="833" y="2320.5" width="30" height="5" fill="#009fff"/>
<rect x="863" y="2320.5" width="10" height="5" fill="#008fff"/>
<rect x="773" y="2325.5" width="5" height="5" fill="#002fff"/>
<rect x="778" y="2325.5" width="5" height="5" fill="#006fff"/>
<rect x="783" y="2325.5" width="5" height="5" fill="#00cfff"/>
<rect x="788" y="2325.5" width="5" height="5" fill="#00ffff"/>
<rect x="793" y="2325.5" width="5" height="5" fill="#1fffdf"/>
<rect x="798" y="2325.5" width="20" height="5" fill="#2fffcf"/>
<rect x="818" y="2325.5" width="5" height="5" fill="#1fffdf"/>
<rect x="823" y="2325.5" width="5" height="5" fill="#00ffff"/>
<rect x="828" y="2325.5" width="5" height="5" fill="#00bfff"/>
<rect x="833" y="2325.5" width="30" height="5" fill="#009fff"/>
<rect x="863" y="2325.5" width="10" height="5" fill="#008fff"/>
<rect x="773" y="2330.5" width="5" height="5" fill="#002fff"/>
<rect x="778" y="2330.5" width="5" height="5" fill="#006fff"/>
<rect x="783" y="2330.5" width="5" height="5" fill="#00cfff"/>
<rect x="788" y="2330.5" width="5" height="5" fill="#0fffef"/>
<rect x="793" y="2330.5" width="5" height="5" fill="#1fffdf"/>
<rect x="798" y="2330.5" width="20" height="5" fill="#2fffcf"/>
<rect x="818" y="2330.5" width="5" height="5" fill="#1fffdf"/>
<rect x="823" y="2330.5" width="5" height="5" fill="#00ffff"/>
<rect x="828" y="2330.5" width="5" height="5" fill="#00bfff"/>
<rect x="833" y="2330.5" width="30" height="5" fill="#009fff"/>
<rect x="863" y="2330.5" width="10" height="5" fill="#008fff"/>
<rect x="773" y="2335.5" width="5" height="5" fill="#002fff"/>
<rect x="778" y="2335.5" width="5" height="5" fill="#006fff"/>
<rect x="783" y="2335.5" width="5" height="5" fill="#00cfff"/>
<rect x="788" y="2335.5" width="5" height="5" fill="#0fffef"/>
<rect x="793" y="2335.5" width="5" height="5" fill="#1fffdf"/>
<rect x="798" y="2335.5" width="20" height="5" fill="#2fffcf"/>
<rect x="818" y="2335.5" width="5" height="5" fill="#1fffdf"/>
<rect x="823" y="2335.5" width="5" height="5" fill="#00ffff"/>
<rect x="828" y="2335.5" width="5" height="5" fill="#00bfff"/>
<rect x="833" y="2335.5" width="30" height="5" fill="#009fff"/>
<rect x="863" y="2335.5" width="10" height="5" fill="#008fff"/>
<rect x="773" y="2340.5" width="5" height="5" fill="#002fff"/>
<rect x="778" y="2340.5" width="5" height="5" fill="#007fff"/>
<rect x="783" y="2340.5" width="5" height="5" fill="#00cfff"/>
<rect x="788" y="2340.5" width="5" height="5" fill="#0fffef"/>
<rect x="793" y="2340.5" width="5" height="5" fill="#1fffdf"/>
<rect x="798" y="2340.5" width="20" height="5" fill="#2fffcf"/>
<rect x="818" y="2340.5" width="5" height="5" fill="#1fffdf"/>
<rect x="823" y="2340.5" width="5" height="5" fill="#00ffff"/>
<rect x="828" y="2340.5" width="5" height="5" fill="#00bfff"/>
<rect x="833" y="2340.5" width="30" height="5" fill="#009fff"/>
<rect x="863" y="2340.5" width="10" height="5" fill="#008fff"/>
<rect x="773" y="2345.5" width="5" height="5" fill="#002fff"/>
<rect x="778" y="2345.5" width="5" height="5" fill="#007fff"/>
<rect x="783" y="2345.5" width="5" height="5" fill="#00cfff"/>
<rect x="788" y="2345.5" width="5" height="5" fill="#0fffef"/>
<rect x="793" y="2345.5" width="5" height="5" fill="#1fffdf"/>
<rect x="798" y="2345.5" width="20" height="5" fill="#2fffcf"/>
<rect x="818" y="2345.5" width="5" height="5" fill="#1fffdf"/>
<rect x="823" y="2345.5" width="5" height="5" fill="#00ffff"/>
<rect x="828" y="2345.5" width="5" height="5" fill="#00bfff"/>
<rect x="833" y="2345.5" width="30" height="5" fill="#009fff"/>
<rect x="863" y="2345.5" width="10" height="5" fill="#008fff"/>
<rect x="773" y="2350.5" width="5" height="5" fill="#003fff"/>
<rect x="778" y="2350.5" width="5" height="5" fill="#007fff"/>
<rect x="783" y="2350.5" width="5" height="5" fill="#00dfff"/>
<rect x="788" y="2350.5" width="5" height="5" fill="#0fffef"/>
<rect x="793" y="2350.5" width="5" height="5" fill="#1fffdf"/>
<rect x="798" y="2350.5" width="20" height="5" fill="#2fffcf"/>
<rect x="818" y="2350.5" width="5" height="5" fill="#1fffdf"/>
<rect x="823" y="2350.5" width="5" height="5" fill="#00ffff"/>
<rect x="828" y="2350.5" width="5" height="5" fill="#00bfff"/>
<rect x="833" y="2350.5" width="30" height="5" fill="#009fff"/>
<rect x="863" y="2350.5" width="10" height="5" fill="#008fff"/>
<rect x="768" y="2355.5" width="5" height="5" fill="#001fff"/>
<rect x="773" y="2355.5" width="5" height="5" fill="#003fff"/>
<rect x="778" y="2355.5" width="5" height="5" fill="#007fff"/>
<rect x="783" y="2355.5" width="5" height="5" fill="#00dfff"/>
<rect x="788" y="2355.5" width="5" height="5" fill="#0fffef"/>
<rect x="793" y="2355.5" width="5" height="5" fill="#1fffdf"/>
<rect x="798" y="2355.5" width="20" height="5" fill="#2fffcf"/>
<rect x="818" y="2355.5" width="5" height="5" fill="#1fffdf"/>
<rect x="823" y="2355.5" width="5" height="5" fill="#00ffff"/>
<rect x="828" y="2355.5" width="5" height="5" fill="#00bfff"/>
<rect x="833" y="2355.5" width="30" height="5" fill="#009fff"/>
<rect x="863" y="2355.5" width="10" height="5" fill="#008fff"/>
<rect x="768" y="2360.5" width="5" height="5" fill="#001fff"/>
<rect x="773" y="2360.5" width="5" height="5" fill="#003fff"/>
<rect x="778" y="2360.5" width="5" height="5" fill="#008fff"/>
<rect x="783" y="2360.5" width="5" height="5" fill="#00dfff"/>
<rect x="788" y="2360.5" width="5" height="5" fill="#0fffef"/>
<rect x="793" y="2360.5" width="5" height="5" fill="#1fffdf"/>
<rect x="798" y="2360.5" width="20" height="5" fill="#2fffcf"/>
<rect x="818" y="2360.5" width="5" height="5" fill="#1fffdf"/>
<rect x="823" y="2360.5" width="5" height="5" fill="#00ffff"/>
<rect x="828" y="2360.5" width="5" height="5" fill="#00bfff"/>
<rect x="833" y="2360.5" width="30" height="5" fill="#009fff"/>
<rect x="863" y="2360.5" width="10" height="5" fill="#008fff"/>
<rect x="768" y="2365.5" width="5" height="5" fill="#001fff"/>
<rect x="773" y="2365.5" width="5" height="5" fill="#004fff"/>
<rect x="778" y="2365.5" width="5" height="5" fill="#009fff"/>
<rect x="783" y="2365.5" width="5" height="5" fill="#00efff"/>
<rect x="788" y="2365.5" width="5" height="5" fill="#0fffef"/>
<rect x="793" y="2365.5" width="5" height="5" fill="#1fffdf"/>
<rect x="798" y="2365.5" width="5" height="5" fill="#2fffcf"/>
<rect x="803" y="2365.5" width="10" height="5" fill="#3fffbf"/>
<rect x="813" y="2365.5" width="5" height="5" fill="#2fffcf"/>
<rect x="818" y="2365.5" width="5" height="5" fill="#1fffdf"/>
<rect x="823" y="2365.5" width="5" height="5" fill="#00ffff"/>
<rect x="828" y="2365.5" width="5" height="5" fill="#00bfff"/>
<rect x="833" y="2365.5" width="30" height="5" fill="#009fff"/>
<rect x="863" y="2365.5" width="10" height="5" fill="#008fff"/>
<rect x="768" y="2370.5" width="5" height="5" fill="#002fff"/>
<rect x="773" y="2370.5" width="5" height="5" fill="#006fff"/>
<rect x="778" y="2370.5" width="5" height="5" fill="#00bfff"/>
<rect x="783" y="2370.5" width="5" height="5" fill="#00ffff"/>
<rect x="788" y="2370.5" width="5" height="5" fill="#1fffdf"/>
<rect x="793" y="2370.5" width="10" height="5" fill="#2fffcf"/>
<rect x="803" y="2370.5" width="10" height="5" fill="#3fffbf"/>
<rect x="813" y="2370.5" width="5" height="5" fill="#2fffcf"/>
<rect x="818" y="2370.5" width="5" height="5" fill="#1fffdf"/>
<rect x="823" y="2370.5" width="5" height="5" fill="#00ffff"/>
<rect x="828" y="2370.5" width="5" height="5" fill="#00bfff"/>
<rect x="833" y="2370.5" width="30" height="5" fill="#009fff"/>
<rect x="863" y="2370.5" width="10" height="5" fill="#008fff"/>
<rect x="763" y="2375.5" width="5" height="5" fill="#001fff"/>
<rect x="768" y="2375.5" width="5" height="5" fill="#004fff"/>
<rect x="773" y="2375.5" width="5" height="5" fill="#009fff"/>
<rect x="778" y="2375.5" width="5" height="5" fill="#00efff"/>
<rect x="783" y="2375.5" width="5" height="5" fill="#0fffef"/>
<rect x="788" y="2375.5" width="5" height="5" fill="#1fffdf"/>
<rect x="793" y="2375.5" width="10" height="5" fill="#2fffcf"/>
<rect x="803" y="2375.5" width="10" height="5" fill="#3fffbf"/>
<rect x="813" y="2375.5" width="5" height="5" fill="#2fffcf"/>
<rect x="818" y="2375.5" width="5" height="5" fill="#1fffdf"/>
<rect x="823" y="2375.5" width="5" height="5" fill="#00ffff"/>
<rect x="828" y="2375.5" width="5" height="5" fill="#00bfff"/>
<rect x="833" y="2375.5" width="30" height="5" fill="#009fff"/>
<rect x="863" y="2375.5" width="10" height="5" fill="#008fff"/>
<rect x="763" y="2380.5" width="5" height="5" fill="#002fff"/>
<rect x="768" y="2380.5" width="5" height="5" fill="#006fff"/>
<rect x="773" y="2380.5" width="5" height="5" fill="#00bfff"/>
<rect x="778" y="2380.5" width="5" height="5" fill="#00ffff"/>
<rect x="783" y="2380.5" width="10" height="5" fill="#1fffdf"/>
<rect x="793" y="2380.5" width="5" height="5" fill="#2fffcf"/>
<rect x="798" y="2380.5" width="15" height="5" fill="#3fffbf"/>
<rect x="813" y="2380.5" width="5" height="5" fill="#2fffcf"/>
<rect x="818" y="2380.5" width="5" height="5" fill="#1fffdf"/>
<rect x="823" y="2380.5" width="5" height="5" fill="#00ffff"/>
<rect x="828" y="2380.5" width="5" height="5" fill="#00bfff"/>
<rect x="833" y="2380.5" width="30" height="5" fill="#009fff"/>
<rect x="863" y="2380.5" width="10" height="5" fill="#008fff"/>
<rect x="758" y="2385.5" width="5" height="5" fill="#001fff"/>
<rect x="763" y="2385.5" width="5" height="5" fill="#004fff"/>
<rect x="768" y="2385.5" width="5" height="5" fill="#009fff"/>
<rect x="773" y="2385.5" width="5" height="5" fill="#00efff"/>
<rect x="778" y="2385.5" width="5" height="5" fill="#0fffef"/>
<rect x="783" y="2385.5" width="5" height="5" fill="#1fffdf"/>
<rect x="788" y="2385.5" width="10" height="5" fill="#2fffcf"/>
<rect x="798" y="2385.5" width="20" height="5" fill="#3fffbf"/>
<rect x="818" y="2385.5" width="5" height="5" fill="#1fffdf"/>
<rect x="823" y="2385.5" width="5" height="5" fill="#00ffff"/>
<rect x="828" y="2385.5" width="5" height="5" fill="#00cfff"/>
<rect x="833" y="2385.5" width="30" height="5" fill="#009fff"/>
<rect x="863" y="2385.5" width="10" height="5" fill="#008fff"/>
<rect x="758" y="2390.5" width="5" height="5" fill="#002fff"/>
<rect x="763" y="2390.5" width="5" height="5" fill="#006fff"/>
<rect x="768" y="2390.5" width="5" height="5" fill="#00cfff"/>
<rect x="773" y="2390.5" width="5" height="5" fill="#00ffff"/>
<rect x="778" y="2390.5" width="5" height="5" fill="#1fffdf"/>
<rect x="783" y="2390.5" width="10" height="5" fill="#2fffcf"/>
<rect x="793" y="2390.5" width="10" height="5" fill="#3fffbf"/>
<rect x="803" y="2390.5" width="10" height="5" fill="#4fffaf"/>
<rect x="813" y="2390.5" width="5" height="5" fill="#3fffbf"/>
<rect x="818" y="2390.5" width="5" height="5" fill="#2fffcf"/>
<rect x="823" y="2390.5" width="5" height="5" fill="#00ffff"/>
<rect x="828" y="2390.5" width="5" height="5" fill="#00cfff"/>
<rect x="833" y="2390.5" width="30" height="5" fill="#009fff"/>
<rect x="863" y="2390.5" width="10" height="5" fill="#008fff"/>
<rect x="753" y="2395.5" width="5" height="5" fill="#002fff"/>
<rect x="758" y="2395.5" width="5" height="5" fill="#004fff"/>
<rect x="763" y="2395.5" width="5" height="5" fill="#009fff"/>
<rect x="768" y="2395.5" width="5" height="5" fill="#00efff"/>
<rect x="773" y="2395.5" width="5" height="5" fill="#0fffef"/>
<rect x="778" y="2395.5" width="5" height="5" fill="#2fffcf"/>
<rect x="783" y="2395.5" width="10" height="5" fill="#3fffbf"/>
<rect x="793" y="2395.5" width="20" height="5" fill="#4fffaf"/>
<rect x="813" y="2395.5" width="5" height="5" fill="#3fffbf"/>
<rect x="818" y="2395.5" width="5" height="5" fill="#2fffcf"/>
<rect x="823" y="2395.5" width="5" height="5" fill="#00ffff"/>
<rect x="828" y="2395.5" width="5" height="5" fill="#00cfff"/>
<rect x="833" y="2395.5" width="30" height="5" fill="#009fff"/>
<rect x="863" y="2395.5" width="10" height="5" fill="#008fff"/>
<rect x="753" y="2400.5" width="5" height="5" fill="#003fff"/>
<rect x="758" y="2400.5" width="5" height="5" fill="#006fff"/>
<rect x="763" y="2400.5" width="5" height="5" fill="#00cfff"/>
<rect x="768" y="2400.5" width="5" height="5" fill="#00ffff"/>
<rect x="773" y="2400.5" width="5" height="5" fill="#1fffdf"/>
<rect x="778" y="2400.5" width="5" height="5" fill="#3fffbf"/>
<rect x="783" y="2400.5" width="10" height="5" fill="#4fffaf"/>
<rect x="793" y="2400.5" width="20" height="5" fill="#5fff9f"/>
<rect x="813" y="2400.5" width="5" height="5" fill="#4fffaf"/>
<rect x="818" y="2400.5" width="5" height="5" fill="#2fffcf"/>
<rect x="823" y="2400.5" width="5" height="5" fill="#0fffef"/>
<rect x="828" y="2400.5" width="5" height="5" fill="#00cfff"/>
<rect x="833" y="2400.5" width="30" height="5" fill="#009fff"/>
<rect x="863" y="2400.5" width="10" height="5" fill="#008fff"/>
<rect x="748" y="2405.5" width="5" height="5" fill="#002fff"/>
<rect x="753" y="2405.5" width="5" height="5" fill="#004fff"/>
<rect x="758" y="2405.5" width="5" height="5" fill="#009fff"/>
<rect x="763" y="2405.5" width="5" height="5" fill="#00efff"/>
<rect x="768" y="2405.5" width="5" height="5" fill="#1fffdf"/>
<rect x="773" y="2405.5" width="5" height="5" fill="#3fffbf"/>
<rect x="778" y="2405.5" width="5" height="5" fill="#4fffaf"/>
<rect x="783" y="2405.5" width="10" height="5" fill="#5fff9f"/>
<rect x="793" y="2405.5" width="20" height="5" fill="#6fff8f"/>
<rect x="813" y="2405.5" width="5" height="5" fill="#5fff9f"/>
<rect x="818" y="2405.5" width="5" height="5" fill="#3fffbf"/>
<rect x="823" y="2405.5" width="5" height="5" fill="#0fffef"/>
<rect x="828" y="2405.5" width="5" height="5" fill="#00cfff"/>
<rect x="833" y="2405.5" width="30" height="5" fill="#009fff"/>
<rect x="863" y="2405.5" width="10" height="5" fill="#008fff"/>
<rect x="748" y="2410.5" width="5" height="5" fill="#003fff"/>
<rect x="753" y="2410.5" width="5" height="5" fill="#007fff"/>
<rect x="758" y="2410.5" width="5" height="5" fill="#00cfff"/>
<rect x="763" y="2410.5" width="5" height="5" fill="#0fffef"/>
<rect x="768" y="2410.5" width="5" height="5" fill="#3fffbf"/>
<rect x="773" y="2410.5" width="5" height="5" fill="#5fff9f"/>
<rect x="778" y="2410.5" width="5" height="5" fill="#6fff8f"/>
<rect x="783" y="2410.5" width="30" height="5" fill="#7fff7f"/>
<rect x="813" y="2410.5" width="5" height="5" fill="#6fff8f"/>
<rect x="818" y="2410.5" width="5" height="5" fill="#4fffaf"/>
<rect x="823" y="2410.5" width="5" height="5" fill="#0fffef"/>
<rect x="828" y="2410.5" width="5" height="5" fill="#00cfff"/>
<rect x="833" y="2410.5" width="30" height="5" fill="#009fff"/>
<rect x="863" y="2410.5" width="10" height="5" fill="#008fff"/>
<rect x="743" y="2415.5" width="5" height="5" fill="#002fff"/>
<rect x="748" y="2415.5" width="5" height="5" fill="#005fff"/>
<rect x="753" y="2415.5" width="5" height="5" fill="#00afff"/>
<rect x="758" y="2415.5" width="5" height="5" fill="#00ffff"/>
<rect x="763" y="2415.5" width="5" height="5" fill="#2fffcf"/>
<rect x="768" y="2415.5" width="5" height="5" fill="#5fff9f"/>
<rect x="773" y="2415.5" width="5" height="5" fill="#7fff7f"/>
<rect x="778" y="2415.5" width="35" height="5" fill="#8fff6f"/>
<rect x="813" y="2415.5" width="5" height="5" fill="#7fff7f"/>
<rect x="818" y="2415.5" width="5" height="5" fill="#4fffaf"/>
<rect x="823" y="2415.5" width="5" height="5" fill="#1fffdf"/>
<rect x="828" y="2415.5" width="5" height="5" fill="#00cfff"/>
<rect x="833" y="2415.5" width="30" height="5" fill="#009fff"/>
<rect x="863" y="2415.5" width="10" height="5" fill="#008fff"/>
<rect x="743" y="2420.5" width="5" height="5" fill="#003fff"/>
<rect x="748" y="2420.5" width="5" height="5" fill="#008fff"/>
<rect x="753" y="2420.5" width="5" height="5" fill="#00dfff"/>
<rect x="758" y="2420.5" width="5" height="5" fill="#1fffdf"/>
<rect x="763" y="2420.5" width="5" height="5" fill="#4fffaf"/>
<rect x="768" y="2420.5" width="5" height="5" fill="#7fff7f"/>
<rect x="773" y="2420.5" width="5" height="5" fill="#8fff6f"/>
<rect x="778" y="2420.5" width="35" height="5" fill="#9fff5f"/>
<rect x="813" y="2420.5" width="5" height="5" fill="#8fff6f"/>
<rect x="818" y="2420.5" width="5" height="5" fill="#5fff9f"/>
<rect x="823" y="2420.5" width="5" height="5" fill="#1fffdf"/>
<rect x="828" y="2420.5" width="5" height="5" fill="#00cfff"/>
<rect x="833" y="2420.5" width="30" height="5" fill="#009fff"/>
<rect x="863" y="2420.5" width="10" height="5" fill="#008fff"/>
<rect x="738" y="2425.5" width="5" height="5" fill="#002fff"/>
<rect x="743" y="2425.5" width="5" height="5" fill="#006fff"/>
<rect x="748" y="2425.5" width="5" height="5" fill="#00bfff"/>
<rect x="753" y="2425.5" width="5" height="5" fill="#00ffff"/>
<rect x="758" y="2425.5" width="5" height="5" fill="#3fffbf"/>
<rect x="763" y="2425.5" width="5" height="5" fill="#6fff8f"/>
<rect x="768" y="2425.5" width="10" height="5" fill="#9fff5f"/>
<rect x="778" y="2425.5" width="35" height="5" fill="#afff4f"/>
<rect x="813" y="2425.5" width="5" height="5" fill="#8fff6f"/>
<rect x="818" y="2425.5" width="5" height="5" fill="#5fff9f"/>
<rect x="823" y="2425.5" width="5" height="5" fill="#1fffdf"/>
<rect x="828" y="2425.5" width="5" height="5" fill="#00cfff"/>
<rect x="833" y="2425.5" width="30" height="5" fill="#009fff"/>
<rect x="863" y="2425.5" width="10" height="5" fill="#008fff"/>
<rect x="733" y="2430.5" width="5" height="5" fill="#002fff"/>
<rect x="738" y="2430.5" width="5" height="5" fill="#004fff"/>
<rect x="743" y="2430.5" width="5" height="5" fill="#009fff"/>
<rect x="748" y="2430.5" width="5" height="5" fill="#00efff"/>
<rect x="753" y="2430.5" width="5" height="5" fill="#2fffcf"/>
<rect x="758" y="2430.5" width="5" height="5" fill="#5fff9f"/>
<rect x="763" y="2430.5" width="5" height="5" fill="#8fff6f"/>
<rect x="768" y="2430.5" width="15" height="5" fill="#afff4f"/>
<rect x="783" y="2430.5" width="20" height="5" fill="#bfff3f"/>
<rect x="803" y="2430.5" width="10" height="5" fill="#afff4f"/>
<rect x="813" y="2430.5" width="5" height="5" fill="#9fff5f"/>
<rect x="818" y="2430.5" width="5" height="5" fill="#6fff8f"/>
<rect x="823" y="2430.5" width="5" height="5" fill="#1fffdf"/>
<rect x="828" y="2430.5" width="5" height="5" fill="#00cfff"/>
<rect x="833" y="2430.5" width="30" height="5" fill="#009fff"/>
<rect x="863" y="2430.5" width="10" height="5" fill="#008fff"/>
<rect x="733" y="2435.5" width="5" height="5" fill="#003fff"/>
<rect x="738" y="2435.5" width="5" height="5" fill="#006fff"/>
<rect x="743" y="2435.5" width="5" height="5" fill="#00cfff"/>
<rect x="748" y="2435.5" width="5" height="5" fill="#0fffef"/>
<rect x="753" y="2435.5" width="5" height="5" fill="#4fffaf"/>
<rect x="758" y="2435.5" width="5" height="5" fill="#7fff7f"/>
<rect x="763" y="2435.5" width="5" height="5" fill="#afff4f"/>
<rect x="768" y="2435.5" width="40" height="5" fill="#bfff3f"/>
<rect x="808" y="2435.5" width="5" height="5" fill="#afff4f"/>
<rect x="813" y="2435.5" width="5" height="5" fill="#9fff5f"/>
<rect x="818" y="2435.5" width="5" height="5" fill="#6fff8f"/>
<rect x="823" y="2435.5" width="5" height="5" fill="#1fffdf"/>
<rect x="828" y="2435.5" width="5" height="5" fill="#00dfff"/>
<rect x="833" y="2435.5" width="30" height="5" fill="#009fff"/>
<rect x="863" y="2435.5" width="10" height="5" fill="#008fff"/>
<rect x="728" y="2440.5" width="5" height="5" fill="#002fff"/>
<rect x="733" y="2440.5" width="5" height="5" fill="#005fff"/>
<rect x="738" y="2440.5" width="5" height="5" fill="#00afff"/>
<rect x="743" y="2440.5" width="5" height="5" fill="#00ffff"/>
<rect x="748" y="2440.5" width="5" height="5" fill="#2fffcf"/>
<rect x="753" y="2440.5" width="5" height="5" fill="#6fff8f"/>
<rect x="758" y="2440.5" width="5" height="5" fill="#9fff5f"/>
<rect x="763" y="2440.5" width="50" height="5" fill="#bfff3f"/>
<rect x="813" y="2440.5" width="5" height="5" fill="#9fff5f"/>
<rect x="818" y="2440.5" width="5" height="5" fill="#6fff8f"/>
<rect x="823" y="2440.5" width="5" height="5" fill="#2fffcf"/>
<rect x="828" y="2440.5" width="5" height="5" fill="#00dfff"/>
<rect x="833" y="2440.5" width="30" height="5" fill="#009fff"/>
<rect x="863" y="2440.5" width="10" height="5" fill="#008fff"/>
<rect x="728" y="2445.5" width="5" height="5" fill="#004fff"/>
<rect x="733" y="2445.5" width="5" height="5" fill="#008fff"/>
<rect x="738" y="2445.5" width="5" height="5" fill="#00dfff"/>
<rect x="743" y="2445.5" width="5" height="5" fill="#1fffdf"/>
<rect x="748" y="2445.5" width="5" height="5" fill="#5fff9f"/>
<rect x="753" y="2445.5" width="5" height="5" fill="#9fff5f"/>
<rect x="758" y="2445.5" width="10" height="5" fill="#bfff3f"/>
<rect x="768" y="2445.5" width="40" height="5" fill="#cfff2f"/>
<rect x="808" y="2445.5" width="5" height="5" fill="#bfff3f"/>
<rect x="813" y="2445.5" width="5" height="5" fill="#afff4f"/>
<rect x="818" y="2445.5" width="5" height="5" fill="#6fff8f"/>
<rect x="823" y="2445.5" width="5" height="5" fill="#2fffcf"/>
<rect x="828" y="2445.5" width="5" height="5" fill="#00dfff"/>
<rect x="833" y="2445.5" width="30" height="5" fill="#009fff"/>
<rect x="863" y="2445.5" width="10" height="5" fill="#008fff"/>
<rect x="723" y="2450.5" width="5" height="5" fill="#003fff"/>
<rect x="728" y="2450.5" width="5" height="5" fill="#006fff"/>
<rect x="733" y="2450.5" width="5" height="5" fill="#00bfff"/>
<rect x="738" y="2450.5" width="5" height="5" fill="#0fffef"/>
<rect x="743" y="2450.5" width="5" height="5" fill="#4fffaf"/>
<rect x="748" y="2450.5" width="5" height="5" fill="#8fff6f"/>
<rect x="753" y="2450.5" width="5" height="5" fill="#afff4f"/>
<rect x="758" y="2450.5" width="50" height="5" fill="#cfff2f"/>
<rect x="808" y="2450.5" width="5" height="5" fill="#bfff3f"/>
<rect x="813" y="2450.5" width="5" height="5" fill="#afff4f"/>
<rect x="818" y="2450.5" width="5" height="5" fill="#7fff7f"/>
<rect x="823" y="2450.5" width="5" height="5" fill="#2fffcf"/>
<rect x="828" y="2450.5" width="5" height="5" fill="#00dfff"/>
<rect x="833" y="2450.5" width="30" height="5" fill="#009fff"/>
<rect x="863" y="2450.5" width="10" height="5" fill="#008fff"/>
<rect x="718" y="2455.5" width="5" height="5" fill="#002fff"/>
<rect x="723" y="2455.5" width="5" height="5" fill="#004fff"/>
<rect x="728" y="2455.5" width="5" height="5" fill="#009fff"/>
<rect x="733" y="2455.5" width="5" height="5" fill="#00efff"/>
<rect x="738" y="2455.5" width="5" height="5" fill="#2fffcf"/>
<rect x="743" y="2455.5" width="5" height="5" fill="#7fff7f"/>
<rect x="748" y="2455.5" width="5" height="5" fill="#bfff3f"/>
<rect x="753" y="2455.5" width="5" height="5" fill="#dfff1f"/>
<rect x="758" y="2455.5" width="15" height="5" fill="#efff0f"/>
<rect x="773" y="2455.5" width="5" height="5" fill="#dfff1f"/>
<rect x="778" y="2455.5" width="35" height="5" fill="#cfff2f"/>
<rect x="813" y="2455.5" width="5" height="5" fill="#afff4f"/>
<rect x="818" y="2455.5" width="5" height="5" fill="#7fff7f"/>
<rect x="823" y="2455.5" width="5" height="5" fill="#2fffcf"/>
<rect x="828" y="2455.5" width="5" height="5" fill="#00dfff"/>
<rect x="833" y="2455.5" width="30" height="5" fill="#009fff"/>
<rect x="863" y="2455.5" width="10" height="5" fill="#008fff"/>
<rect x="718" y="2460.5" width="5" height="5" fill="#003fff"/>
<rect x="723" y="2460.5" width="5" height="5" fill="#007fff"/>
<rect x="728" y="2460.5" width="5" height="5" fill="#00cfff"/>
<rect x="733" y="2460.5" width="5" height="5" fill="#1fffdf"/>
<rect x="738" y="2460.5" width="5" height="5" fill="#6fff8f"/>
<rect x="743" y="2460.5" width="5" height="5" fill="#bfff3f"/>
<rect x="748" y="2460.5" width="5" height="5" fill="#efff0f"/>
<rect x="753" y="2460.5" width="5" height="5" fill="#ffdf00"/>
<rect x="758" y="2460.5" width="15" height="5" fill="#ffcf00"/>
<rect x="773" y="2460.5" width="5" height="5" fill="#ffef00"/>
<rect x="778" y="2460.5" width="5" height="5" fill="#efff0f"/>
<rect x="783" y="2460.5" width="25" height="5" fill="#dfff1f"/>
<rect x="808" y="2460.5" width="5" height="5" fill="#cfff2f"/>
<rect x="813" y="2460.5" width="5" height="5" fill="#bfff3f"/>
<rect x="818" y="2460.5" width="5" height="5" fill="#7fff7f"/>
<rect x="823" y="2460.5" width="5" height="5" fill="#2fffcf"/>
<rect x="828" y="2460.5" width="5" height="5" fill="#00dfff"/>
<rect x="833" y="2460.5" width="30" height="5" fill="#009fff"/>
<rect x="863" y="2460.5" width="10" height="5" fill="#008fff"/>
<rect x="713" y="2465.5" width="5" height="5" fill="#002fff"/>
<rect x="718" y="2465.5" width="5" height="5" fill="#005fff"/>
<rect x="723" y="2465.5" width="5" height="5" fill="#00afff"/>
<rect x="728" y="2465.5" width="5" height="5" fill="#00ffff"/>
<rect x="733" y="2465.5" width="5" height="5" fill="#4fffaf"/>
<rect x="738" y="2465.5" width="5" height="5" fill="#9fff5f"/>
<rect x="743" y="2465.5" width="5" height="5" fill="#efff0f"/>
<rect x="748" y="2465.5" width="5" height="5" fill="#ffcf00"/>
<rect x="753" y="2465.5" width="5" height="5" fill="#ffaf00"/>
<rect x="758" y="2465.5" width="5" height="5" fill="#ff9f00"/>
<rect x="763" y="2465.5" width="5" height="5" fill="#ff8f00"/>
<rect x="768" y="2465.5" width="5" height="5" fill="#ff9f00"/>
<rect x="773" y="2465.5" width="5" height="5" fill="#ffaf00"/>
<rect x="778" y="2465.5" width="5" height="5" fill="#ffcf00"/>
<rect x="783" y="2465.5" width="5" height="5" fill="#ffff00"/>
<rect x="788" y="2465.5" width="20" height="5" fill="#dfff1f"/>
<rect x="808" y="2465.5" width="5" height="5" fill="#cfff2f"/>
<rect x="813" y="2465.5" width="5" height="5" fill="#bfff3f"/>
<rect x="818" y="2465.5" width="5" height="5" fill="#7fff7f"/>
<rect x="823" y="2465.5" width="5" height="5" fill="#2fffcf"/>
<rect x="828" y="2465.5" width="5" height="5" fill="#00dfff"/>
<rect x="833" y="2465.5" width="5" height="5" fill="#00afff"/>
<rect x="838" y="2465.5" width="25" height="5" fill="#009fff"/>
<rect x="863" y="2465.5" width="10" height="5" fill="#008fff"/>
<rect x="713" y="2470.5" width="5" height="5" fill="#004fff"/>
<rect x="718" y="2470.5" width="5" height="5" fill="#007fff"/>
<rect x="723" y="2470.5" width="5" height="5" fill="#00dfff"/>
<rect x="728" y="2470.5" width="5" height="5" fill="#2fffcf"/>
<rect x="733" y="2470.5" width="5" height="5" fill="#7fff7f"/>
<rect x="738" y="2470.5" width="5" height="5" fill="#dfff1f"/>
<rect x="743" y="2470.5" width="5" height="5" fill="#ffcf00"/>
<rect x="748" y="2470.5" width="5" height="5" fill="#ff9f00"/>
<rect x="753" y="2470.5" width="5" height="5" fill="#ff6f00"/>
<rect x="758" y="2470.5" width="15" height="5" fill="#ff5f00"/>
<rect x="773" y="2470.5" width="5" height="5" fill="#ff7f00"/>
<rect x="778" y="2470.5" width="5" height="5" fill="#ff9f00"/>
<rect x="783" y="2470.5" width="5" height="5" fill="#ffcf00"/>
<rect x="788" y="2470.5" width="5" height="5" fill="#ffff00"/>
<rect x="793" y="2470.5" width="20" height="5" fill="#dfff1f"/>
<rect x="813" y="2470.5" width="5" height="5" fill="#bfff3f"/>
<rect x="818" y="2470.5" width="5" height="5" fill="#8fff6f"/>
<rect x="823" y="2470.5" width="5" height="5" fill="#3fffbf"/>
<rect x="828" y="2470.5" width="5" height="5" fill="#00dfff"/>
<rect x="833" y="2470.5" width="5" height="5" fill="#00afff"/>
<rect x="838" y="2470.5" width="25" height="5" fill="#009fff"/>
<rect x="863" y="2470.5" width="10" height="5" fill="#008fff"/>
<rect x="708" y="2475.5" width="5" height="5" fill="#003fff"/>
<rect x="713" y="2475.5" width="5" height="5" fill="#005fff"/>
<rect x="718" y="2475.5" width="5" height="5" fill="#00bfff"/>
<rect x="723" y="2475.5" width="5" height="5" fill="#0fffef"/>
<rect x="728" y="2475.5" width="5" height="5" fill="#4fffaf"/>
<rect x="733" y="2475.5" width="5" height="5" fill="#afff4f"/>
<rect x="738" y="2475.5" width="5" height="5" fill="#ffdf00"/>
<rect x="743" y="2475.5" width="5" height="5" fill="#ff9f00"/>
<rect x="748" y="2475.5" width="5" height="5" fill="#ff5f00"/>
<rect x="753" y="2475.5" width="5" height="5" fill="#ff3f00"/>
<rect x="758" y="2475.5" width="10" height="5" fill="#ff2f00"/>
<rect x="768" y="2475.5" width="5" height="5" fill="#ff3f00"/>
<rect x="773" y="2475.5" width="5" height="5" fill="#ff4f00"/>
<rect x="778" y="2475.5" width="5" height="5" fill="#ff6f00"/>
<rect x="783" y="2475.5" width="5" height="5" fill="#ff9f00"/>
<rect x="788" y="2475.5" width="5" height="5" fill="#ffcf00"/>
<rect x="793" y="2475.5" width="5" height="5" fill="#efff0f"/>
<rect x="798" y="2475.5" width="15" height="5" fill="#dfff1f"/>
<rect x="813" y="2475.5" width="5" height="5" fill="#bfff3f"/>
<rect x="818" y="2475.5" width="5" height="5" fill="#8fff6f"/>
<rect x="823" y="2475.5" width="5" height="5" fill="#3fffbf"/>
<rect x="828" y="2475.5" width="5" height="5" fill="#00dfff"/>
<rect x="833" y="2475.5" width="5" height="5" fill="#00afff"/>
<rect x="838" y="2475.5" width="25" height="5" fill="#009fff"/>
<rect x="863" y="2475.5" width="10" height="5" fill="#008fff"/>
<rect x="708" y="2480.5" width="5" height="5" fill="#004fff"/>
<rect x="713" y="2480.5" width="5" height="5" fill="#008fff"/>
<rect x="718" y="2480.5" width="5" height="5" fill="#00efff"/>
<rect x="723" y="2480.5" width="5" height="5" fill="#2fffcf"/>
<rect x="728" y="2480.5" width="5" height="5" fill="#7fff7f"/>
<rect x="733" y="2480.5" width="5" height="5" fill="#efff0f"/>
<rect x="738" y="2480.5" width="5" height="5" fill="#ffaf00"/>
<rect x="743" y="2480.5" width="5" height="5" fill="#ff6f00"/>
<rect x="748" y="2480.5" width="5" height="5" fill="#ff3f00"/>
<rect x="753" y="2480.5" width="5" height="5" fill="#ff1f00"/>
<rect x="758" y="2480.5" width="15" height="5" fill="#ff0f00"/>
<rect x="773" y="2480.5" width="5" height="5" fill="#ff1f00"/>
<rect x="778" y="2480.5" width="5" height="5" fill="#ff3f00"/>
<rect x="783" y="2480.5" width="5" height="5" fill="#ff6f00"/>
<rect x="788" y="2480.5" width="5" height="5" fill="#ff9f00"/>
<rect x="793" y="2480.5" width="5" height="5" fill="#ffef00"/>
<rect x="798" y="2480.5" width="5" height="5" fill="#efff0f"/>
<rect x="803" y="2480.5" width="10" height="5" fill="#dfff1f"/>
<rect x="813" y="2480.5" width="5" height="5" fill="#cfff2f"/>
<rect x="818" y="2480.5" width="5" height="5" fill="#8fff6f"/>
<rect x="823" y="2480.5" width="5" height="5" fill="#3fffbf"/>
<rect x="828" y="2480.5" width="5" height="5" fill="#00dfff"/>
<rect x="833" y="2480.5" width="5" height="5" fill="#00afff"/>
<rect x="838" y="2480.5" width="25" height="5" fill="#009fff"/>
<rect x="863" y="2480.5" width="10" height="5" fill="#008fff"/>
<rect x="703" y="2485.5" width="5" height="5" fill="#003fff"/>
<rect x="708" y="2485.5" width="5" height="5" fill="#006fff"/>
<rect x="713" y="2485.5" width="5" height="5" fill="#00bfff"/>
<rect x="718" y="2485.5" width="5" height="5" fill="#0fffef"/>
<rect x="723" y="2485.5" width="5" height="5" fill="#5fff9f"/>
<rect x="728" y="2485.5" width="5" height="5" fill="#bfff3f"/>
<rect x="733" y="2485.5" width="5" height="5" fill="#ffcf00"/>
<rect x="738" y="2485.5" width="5" height="5" fill="#ff7f00"/>
<rect x="743" y="2485.5" width="5" height="5" fill="#ff3f00"/>
<rect x="748" y="2485.5" width="5" height="5" fill="#ff0f00"/>
<rect x="753" y="2485.5" width="5" height="5" fill="#ff0000"/>
<rect x="758" y="2485.5" width="15" height="5" fill="#ef0000"/>
<rect x="773" y="2485.5" width="5" height="5" fill="#ff0000"/>
<rect x="778" y="2485.5" width="5" height="5" fill="#ff1f00"/>
<rect x="783" y="2485.5" width="5" height="5" fill="#ff4f00"/>
<rect x="788" y="2485.5" width="5" height="5" fill="#ff7f00"/>
<rect x="793" y="2485.5" width="5" height="5" fill="#ffbf00"/>
<rect x="798" y="2485.5" width="10" height="5" fill="#efff0f"/>
<rect x="808" y="2485.5" width="5" height="5" fill="#dfff1f"/>
<rect x="813" y="2485.5" width="5" height="5" fill="#cfff2f"/>
<rect x="818" y="2485.5" width="5" height="5" fill="#8fff6f"/>
<rect x="823" y="2485.5" width="5" height="5" fill="#3fffbf"/>
<rect x="828" y="2485.5" width="5" height="5" fill="#00dfff"/>
<rect x="833" y="2485.5" width="5" height="5" fill="#00afff"/>
<rect x="838" y="2485.5" width="25" height="5" fill="#009fff"/>
<rect x="863" y="2485.5" width="10" height="5" fill="#008fff"/>
<rect x="703" y="2490.5" width="5" height="5" fill="#004fff"/>
<rect x="708" y="2490.5" width="5" height="5" fill="#009fff"/>
<rect x="713" y="2490.5" width="5" height="5" fill="#00efff"/>
<rect x="718" y="2490.5" width="5" height="5" fill="#2fffcf"/>
<rect x="723" y="2490.5" width="5" height="5" fill="#8fff6f"/>
<rect x="728" y="2490.5" width="5" height="5" fill="#efff0f"/>
<rect x="733" y="2490.5" width="5" height="5" fill="#ff9f00"/>
<rect x="738" y="2490.5" width="5" height="5" fill="#ff4f00"/>
<rect x="743" y="2490.5" width="5" height="5" fill="#ff1f00"/>
<rect x="748" y="2490.5" width="5" height="5" fill="#ef0000"/>
<rect x="753" y="2490.5" width="5" height="5" fill="#df0000"/>
<rect x="758" y="2490.5" width="15" height="5" fill="#cf0000"/>
<rect x="773" y="2490.5" width="5" height="5" fill="#df0000"/>
<rect x="778" y="2490.5" width="5" height="5" fill="#ff0000"/>
<rect x="783" y="2490.5" width="5" height="5" fill="#ff1f00"/>
<rect x="788" y="2490.5" width="5" height="5" fill="#ff5f00"/>
<rect x="793" y="2490.5" width="5" height="5" fill="#ff9f00"/>
<rect x="798" y="2490.5" width="5" height="5" fill="#ffef00"/>
<rect x="803" y="2490.5" width="5" height="5" fill="#efff0f"/>
<rect x="808" y="2490.5" width="5" height="5" fill="#dfff1f"/>
<rect x="813" y="2490.5" width="5" height="5" fill="#cfff2f"/>
<rect x="818" y="2490.5" width="5" height="5" fill="#8fff6f"/>
<rect x="823" y="2490.5" width="5" height="5" fill="#3fffbf"/>
<rect x="828" y="2490.5" width="5" height="5" fill="#00dfff"/>
<rect x="833" y="2490.5" width="5" height="5" fill="#00afff"/>
<rect x="838" y="2490.5" width="25" height="5" fill="#009fff"/>
<rect x="863" y="2490.5" width="10" height="5" fill="#008fff"/>
<rect x="698" y="2495.5" width="5" height="5" fill="#003fff"/>
<rect x="703" y="2495.5" width="5" height="5" fill="#006fff"/>
<rect x="708" y="2495.5" width="5" height="5" fill="#00bfff"/>
<rect x="713" y="2495.5" width="5" height="5" fill="#0fffef"/>
<rect x="718" y="2495.5" width="5" height="5" fill="#4fffaf"/>
<rect x="723" y="2495.5" width="5" height="5" fill="#afff4f"/>
<rect x="728" y="2495.5" width="5" height="5" fill="#ffdf00"/>
<rect x="733" y="2495.5" width="5" height="5" fill="#ff7f00"/>
<rect x="738" y="2495.5" width="5" height="5" fill="#ff2f00"/>
<rect x="743" y="2495.5" width="5" height="5" fill="#ff0000"/>
<rect x="748" y="2495.5" width="5" height="5" fill="#df0000"/>
<rect x="753" y="2495.5" width="20" height="5" fill="#bf0000"/>
<rect x="773" y="2495.5" width="5" height="5" fill="#cf0000"/>
<rect x="778" y="2495.5" width="5" height="5" fill="#df0000"/>
<rect x="783" y="2495.5" width="5" height="5" fill="#ff0f00"/>
<rect x="788" y="2495.5" width="5" height="5" fill="#ff3f00"/>
<rect x="793" y="2495.5" width="5" height="5" fill="#ff7f00"/>
<rect x="798" y="2495.5" width="5" height="5" fill="#ffdf00"/>
<rect x="803" y="2495.5" width="5" height="5" fill="#efff0f"/>
<rect x="808" y="2495.5" width="5" height="5" fill="#dfff1f"/>
<rect x="813" y="2495.5" width="5" height="5" fill="#cfff2f"/>
<rect x="818" y="2495.5" width="5" height="5" fill="#8fff6f"/>
<rect x="823" y="2495.5" width="5" height="5" fill="#3fffbf"/>
<rect x="828" y="2495.5" width="5" height="5" fill="#00dfff"/>
<rect x="833" y="2495.5" width="5" height="5" fill="#00afff"/>
<rect x="838" y="2495.5" width="25" height="5" fill="#009fff"/>
<rect x="863" y="2495.5" width="10" height="5" fill="#008fff"/>
<rect x="698" y="2500.5" width="5" height="5" fill="#004fff"/>
<rect x="703" y="2500.5" width="5" height="5" fill="#007fff"/>
<rect x="708" y="2500.5" width="5" height="5" fill="#00dfff"/>
<rect x="713" y="2500.5" width="5" height="5" fill="#1fffdf"/>
<rect x="718" y="2500.5" width="5" height="5" fill="#6fff8f"/>
<rect x="723" y="2500.5" width="5" height="5" fill="#cfff2f"/>
<rect x="728" y="2500.5" width="5" height="5" fill="#ffbf00"/>
<rect x="733" y="2500.5" width="5" height="5" fill="#ff5f00"/>
<rect x="738" y="2500.5" width="5" height="5" fill="#ff1f00"/>
<rect x="743" y="2500.5" width="5" height="5" fill="#ef0000"/>
<rect x="748" y="2500.5" width="5" height="5" fill="#cf0000"/>
<rect x="753" y="2500.5" width="20" height="5" fill="#af0000"/>
<rect x="773" y="2500.5" width="5" height="5" fill="#bf0000"/>
<rect x="778" y="2500.5" width="5" height="5" fill="#cf0000"/>
<rect x="783" y="2500.5" width="5" height="5" fill="#ef0000"/>
<rect x="788" y="2500.5" width="5" height="5" fill="#ff2f00"/>
<rect x="793" y="2500.5" width="5" height="5" fill="#ff6f00"/>
<rect x="798" y="2500.5" width="5" height="5" fill="#ffbf00"/>
<rect x="803" y="2500.5" width="5" height="5" fill="#efff0f"/>
<rect x="808" y="2500.5" width="5" height="5" fill="#dfff1f"/>
<rect x="813" y="2500.5" width="5" height="5" fill="#cfff2f"/>
<rect x="818" y="2500.5" width="5" height="5" fill="#8fff6f"/>
<rect x="823" y="2500.5" width="5" height="5" fill="#3fffbf"/>
<rect x="828" y="2500.5" width="5" height="5" fill="#00dfff"/>
<rect x="833" y="2500.5" width="5" height="5" fill="#00afff"/>
<rect x="838" y="2500.5" width="25" height="5" fill="#009fff"/>
<rect x="863" y="2500.5" width="10" height="5" fill="#008fff"/>
<rect x="698" y="2505.5" width="5" height="5" fill="#005fff"/>
<rect x="703" y="2505.5" width="5" height="5" fill="#009fff"/>
<rect x="708" y="2505.5" width="5" height="5" fill="#00efff"/>
<rect x="713" y="2505.5" width="5" height="5" fill="#2fffcf"/>
<rect x="718" y="2505.5" width="5" height="5" fill="#8fff6f"/>
<rect x="723" y="2505.5" width="5" height="5" fill="#efff0f"/>
<rect x="728" y="2505.5" width="5" height="5" fill="#ffaf00"/>
<rect x="733" y="2505.5" width="5" height="5" fill="#ff4f00"/>
<rect x="738" y="2505.5" width="5" height="5" fill="#ff0f00"/>
<rect x="743" y="2505.5" width="5" height="5" fill="#df0000"/>
<rect x="748" y="2505.5" width="5" height="5" fill="#bf0000"/>
<rect x="753" y="2505.5" width="5" height="5" fill="#af0000"/>
<rect x="758" y="2505.5" width="15" height="5" fill="#9f0000"/>
<rect x="773" y="2505.5" width="5" height="5" fill="#af0000"/>
<rect x="778" y="2505.5" width="5" height="5" fill="#bf0000"/>
<rect x="783" y="2505.5" width="5" height="5" fill="#df0000"/>
<rect x="788" y="2505.5" width="5" height="5" fill="#ff0f00"/>
<rect x="793" y="2505.5" width="5" height="5" fill="#ff5f00"/>
<rect x="798" y="2505.5" width="5" height="5" fill="#ffaf00"/>
<rect x="803" y="2505.5" width="5" height="5" fill="#efff0f"/>
<rect x="808" y="2505.5" width="5" height="5" fill="#dfff1f"/>
<rect x="813" y="2505.5" width="5" height="5" fill="#cfff2f"/>
<rect x="818" y="2505.5" width="5" height="5" fill="#8fff6f"/>
<rect x="823" y="2505.5" width="5" height="5" fill="#3fffbf"/>
<rect x="828" y="2505.5" width="5" height="5" fill="#00dfff"/>
<rect x="833" y="2505.5" width="5" height="5" fill="#00afff"/>
<rect x="838" y="2505.5" width="25" height="5" fill="#009fff"/>
<rect x="863" y="2505.5" width="10" height="5" fill="#008fff"/>
<rect x="693" y="2510.5" width="5" height="5" fill="#003fff"/>
<rect x="698" y="2510.5" width="5" height="5" fill="#006fff"/>
<rect x="703" y="2510.5" width="5" height="5" fill="#00bfff"/>
<rect x="708" y="2510.5" width="5" height="5" fill="#0fffef"/>
<rect x="713" y="2510.5" width="5" height="5" fill="#4fffaf"/>
<rect x="718" y="2510.5" width="5" height="5" fill="#9fff5f"/>
<rect x="723" y="2510.5" width="5" height="5" fill="#ffff00"/>
<rect x="728" y="2510.5" width="5" height="5" fill="#ff8f00"/>
<rect x="733" y="2510.5" width="5" height="5" fill="#ff3f00"/>
<rect x="738" y="2510.5" width="5" height="5" fill="#ff0000"/>
<rect x="743" y="2510.5" width="5" height="5" fill="#cf0000"/>
<rect x="748" y="2510.5" width="5" height="5" fill="#af0000"/>
<rect x="753" y="2510.5" width="25" height="5" fill="#9f0000"/>
<rect x="778" y="2510.5" width="5" height="5" fill="#bf0000"/>
<rect x="783" y="2510.5" width="5" height="5" fill="#df0000"/>
<rect x="788" y="2510.5" width="5" height="5" fill="#ff0f00"/>
<rect x="793" y="2510.5" width="5" height="5" fill="#ff4f00"/>
<rect x="798" y="2510.5" width="5" height="5" fill="#ff9f00"/>
<rect x="803" y="2510.5" width="5" height="5" fill="#ffff00"/>
<rect x="808" y="2510.5" width="5" height="5" fill="#dfff1f"/>
<rect x="813" y="2510.5" width="5" height="5" fill="#cfff2f"/>
<rect x="818" y="2510.5" width="5" height="5" fill="#8fff6f"/>
<rect x="823" y="2510.5" width="5" height="5" fill="#3fffbf"/>
<rect x="828" y="2510.5" width="5" height="5" fill="#00dfff"/>
<rect x="833" y="2510.5" width="5" height="5" fill="#00afff"/>
<rect x="838" y="2510.5" width="25" height="5" fill="#009fff"/>
<rect x="863" y="2510.5" width="10" height="5" fill="#008fff"/>
<rect x="693" y="2515.5" width="5" height="5" fill="#004fff"/>
<rect x="698" y="2515.5" width="5" height="5" fill="#007fff"/>
<rect x="703" y="2515.5" width="5" height="5" fill="#00cfff"/>
<rect x="708" y="2515.5" width="5" height="5" fill="#1fffdf"/>
<rect x="713" y="2515.5" width="5" height="5" fill="#5fff9f"/>
<rect x="718" y="2515.5" width="5" height="5" fill="#afff4f"/>
<rect x="723" y="2515.5" width="5" height="5" fill="#ffdf00"/>
<rect x="728" y="2515.5" width="5" height="5" fill="#ff7f00"/>
<rect x="733" y="2515.5" width="5" height="5" fill="#ff2f00"/>
<rect x="738" y="2515.5" width="5" height="5" fill="#ef0000"/>
<rect x="743" y="2515.5" width="5" height="5" fill="#bf0000"/>
<rect x="748" y="2515.5" width="5" height="5" fill="#af0000"/>
<rect x="753" y="2515.5" width="5" height="5" fill="#9f0000"/>
<rect x="758" y="2515.5" width="10" height="5" fill="#8f0000"/>
<rect x="768" y="2515.5" width="10" height="5" fill="#9f0000"/>
<rect x="778" y="2515.5" width="5" height="5" fill="#af0000"/>
<rect x="783" y="2515.5" width="5" height="5" fill="#cf0000"/>
<rect x="788" y="2515.5" width="5" height="5" fill="#ff0000"/>
<rect x="793" y="2515.5" width="5" height="5" fill="#ff3f00"/>
<rect x="798" y="2515.5" width="5" height="5" fill="#ff8f00"/>
<rect x="803" y="2515.5" width="5" height="5" fill="#ffef00"/>
<rect x="808" y="2515.5" width="5" height="5" fill="#dfff1f"/>
<rect x="813" y="2515.5" width="5" height="5" fill="#cfff2f"/>
<rect x="818" y="2515.5" width="5" height="5" fill="#8fff6f"/>
<rect x="823" y="2515.5" width="5" height="5" fill="#3fffbf"/>
<rect x="828" y="2515.5" width="5" height="5" fill="#00dfff"/>
<rect x="833" y="2515.5" width="5" height="5" fill="#00afff"/>
<rect x="838" y="2515.5" width="25" height="5" fill="#009fff"/>
<rect x="863" y="2515.5" width="10" height="5" fill="#008fff"/>
<rect x="693" y="2520.5" width="5" height="5" fill="#004fff"/>
<rect x="698" y="2520.5" width="5" height="5" fill="#009fff"/>
<rect x="703" y="2520.5" width="5" height="5" fill="#00efff"/>
<rect x="708" y="2520.5" width="5" height="5" fill="#2fffcf"/>
<rect x="713" y="2520.5" width="5" height="5" fill="#6fff8f"/>
<rect x="718" y="2520.5" width="5" height="5" fill="#bfff3f"/>
<rect x="723" y="2520.5" width="5" height="5" fill="#ffdf00"/>
<rect x="728" y="2520.5" width="5" height="5" fill="#ff6f00"/>
<rect x="733" y="2520.5" width="5" height="5" fill="#ff1f00"/>
<rect x="738" y="2520.5" width="5" height="5" fill="#ef0000"/>
<rect x="743" y="2520.5" width="5" height="5" fill="#bf0000"/>
<rect x="748" y="2520.5" width="10" height="5" fill="#9f0000"/>
<rect x="758" y="2520.5" width="15" height="5" fill="#8f0000"/>
<rect x="773" y="2520.5" width="5" height="5" fill="#9f0000"/>
<rect x="778" y="2520.5" width="5" height="5" fill="#af0000"/>
<rect x="783" y="2520.5" width="5" height="5" fill="#cf0000"/>
<rect x="788" y="2520.5" width="5" height="5" fill="#ff0000"/>
<rect x="793" y="2520.5" width="5" height="5" fill="#ff2f00"/>
<rect x="798" y="2520.5" width="5" height="5" fill="#ff8f00"/>
<rect x="803" y="2520.5" width="5" height="5" fill="#ffdf00"/>
<rect x="808" y="2520.5" width="5" height="5" fill="#dfff1f"/>
<rect x="813" y="2520.5" width="5" height="5" fill="#cfff2f"/>
<rect x="818" y="2520.5" width="5" height="5" fill="#8fff6f"/>
<rect x="823" y="2520.5" width="5" height="5" fill="#3fffbf"/>
<rect x="828" y="2520.5" width="5" height="5" fill="#00dfff"/>
<rect x="833" y="2520.5" width="5" height="5" fill="#00afff"/>
<rect x="838" y="2520.5" width="25" height="5" fill="#009fff"/>
<rect x="863" y="2520.5" width="10" height="5" fill="#008fff"/>
<rect x="688" y="2525.5" width="5" height="5" fill="#003fff"/>
<rect x="693" y="2525.5" width="5" height="5" fill="#006fff"/>
<rect x="698" y="2525.5" width="5" height="5" fill="#00afff"/>
<rect x="703" y="2525.5" width="5" height="5" fill="#00ffff"/>
<rect x="708" y="2525.5" width="5" height="5" fill="#3fffbf"/>
<rect x="713" y="2525.5" width="5" height="5" fill="#8fff6f"/>
<rect x="718" y="2525.5" width="5" height="5" fill="#cfff2f"/>
<rect x="723" y="2525.5" width="5" height="5" fill="#ffcf00"/>
<rect x="728" y="2525.5" width="5" height="5" fill="#ff6f00"/>
<rect x="733" y="2525.5" width="5" height="5" fill="#ff1f00"/>
<rect x="738" y="2525.5" width="5" height="5" fill="#ef0000"/>
<rect x="743" y="2525.5" width="5" height="5" fill="#bf0000"/>
<rect x="748" y="2525.5" width="10" height="5" fill="#9f0000"/>
<rect x="758" y="2525.5" width="15" height="5" fill="#8f0000"/>
<rect x="773" y="2525.5" width="5" height="5" fill="#9f0000"/>
<rect x="778" y="2525.5" width="5" height="5" fill="#af0000"/>
<rect x="783" y="2525.5" width="5" height="5" fill="#cf0000"/>
<rect x="788" y="2525.5" width="5" height="5" fill="#ef0000"/>
<rect x="793" y="2525.5" width="5" height="5" fill="#ff2f00"/>
<rect x="798" y="2525.5" width="5" height="5" fill="#ff7f00"/>
<rect x="803" y="2525.5" width="5" height="5" fill="#ffdf00"/>
<rect x="808" y="2525.5" width="5" height="5" fill="#dfff1f"/>
<rect x="813" y="2525.5" width="5" height="5" fill="#cfff2f"/>
<rect x="818" y="2525.5" width="5" height="5" fill="#8fff6f"/>
<rect x="823" y="2525.5" width="5" height="5" fill="#3fffbf"/>
<rect x="828" y="2525.5" width="5" height="5" fill="#00dfff"/>
<rect x="833" y="2525.5" width="5" height="5" fill="#00afff"/>
<rect x="838" y="2525.5" width="25" height="5" fill="#009fff"/>
<rect x="863" y="2525.5" width="10" height="5" fill="#008fff"/>
<rect x="693" y="2530.5" width="5" height="5" fill="#005fff"/>
<rect x="698" y="2530.5" width="5" height="5" fill="#009fff"/>
<rect x="703" y="2530.5" width="5" height="5" fill="#00efff"/>
<rect x="708" y="2530.5" width="5" height="5" fill="#2fffcf"/>
<rect x="713" y="2530.5" width="5" height="5" fill="#6fff8f"/>
<rect x="718" y="2530.5" width="5" height="5" fill="#bfff3f"/>
<rect x="723" y="2530.5" width="5" height="5" fill="#ffdf00"/>
<rect x="728" y="2530.5" width="5" height="5" fill="#ff6f00"/>
<rect x="733" y="2530.5" width="5" height="5" fill="#ff1f00"/>
<rect x="738" y="2530.5" width="5" height="5" fill="#ef0000"/>
<rect x="743" y="2530.5" width="5" height="5" fill="#bf0000"/>
<rect x="748" y="2530.5" width="10" height="5" fill="#9f0000"/>
<rect x="758" y="2530.5" width="15" height="5" fill="#8f0000"/>
<rect x="773" y="2530.5" width="5" height="5" fill="#9f0000"/>
<rect x="778" y="2530.5" width="5" height="5" fill="#af0000"/>
<rect x="783" y="2530.5" width="5" height="5" fill="#cf0000"/>
<rect x="788" y="2530.5" width="5" height="5" fill="#ff0000"/>
<rect x="793" y="2530.5" width="5" height="5" fill="#ff2f00"/>
<rect x="798" y="2530.5" width="5" height="5" fill="#ff7f00"/>
<rect x="803" y="2530.5" width="5" height="5" fill="#ffdf00"/>
<rect x="808" y="2530.5" width="5" height="5" fill="#dfff1f"/>
<rect x="813" y="2530.5" width="5" height="5" fill="#cfff2f"/>
<rect x="818" y="2530.5" width="5" height="5" fill="#8fff6f"/>
<rect x="823" y="2530.5" width="5" height="5" fill="#3fffbf"/>
<rect x="828" y="2530.5" width="5" height="5" fill="#00dfff"/>
<rect x="833" y="2530.5" width="5" height="5" fill="#00afff"/>
<rect x="838" y="2530.5" width="25" height="5" fill="#009fff"/>
<rect x="863" y="2530.5" width="10" height="5" fill="#008fff"/>
<rect x="693" y="2535.5" width="5" height="5" fill="#004fff"/>
<rect x="698" y="2535.5" width="5" height="5" fill="#007fff"/>
<rect x="703" y="2535.5" width="5" height="5" fill="#00dfff"/>
<rect x="708" y="2535.5" width="5" height="5" fill="#1fffdf"/>
<rect x="713" y="2535.5" width="5" height="5" fill="#5fff9f"/>
<rect x="718" y="2535.5" width="5" height="5" fill="#afff4f"/>
<rect x="723" y="2535.5" width="5" height="5" fill="#ffdf00"/>
<rect x="728" y="2535.5" width="5" height="5" fill="#ff7f00"/>
<rect x="733" y="2535.5" width="5" height="5" fill="#ff2f00"/>
<rect x="738" y="2535.5" width="5" height="5" fill="#ef0000"/>
<rect x="743" y="2535.5" width="5" height="5" fill="#bf0000"/>
<rect x="748" y="2535.5" width="5" height="5" fill="#af0000"/>
<rect x="753" y="2535.5" width="5" height="5" fill="#9f0000"/>
<rect x="758" y="2535.5" width="15" height="5" fill="#8f0000"/>
<rect x="773" y="2535.5" width="5" height="5" fill="#9f0000"/>
<rect x="778" y="2535.5" width="5" height="5" fill="#af0000"/>
<rect x="783" y="2535.5" width="5" height="5" fill="#cf0000"/>
<rect x="788" y="2535.5" width="5" height="5" fill="#ff0000"/>
<rect x="793" y="2535.5" width="5" height="5" fill="#ff3f00"/>
<rect x="798" y="2535.5" width="5" height="5" fill="#ff8f00"/>
<rect x="803" y="2535.5" width="5" height="5" fill="#ffef00"/>
<rect x="808" y="2535.5" width="5" height="5" fill="#dfff1f"/>
<rect x="813" y="2535.5" width="5" height="5" fill="#cfff2f"/>
<rect x="818" y="2535.5" width="5" height="5" fill="#8fff6f"/>
<rect x="823" y="2535.5" width="5" height="5" fill="#3fffbf"/>
<rect x="828" y="2535.5" width="5" height="5" fill="#00efff"/>
<rect x="833" y="2535.5" width="5" height="5" fill="#00afff"/>
<rect x="838" y="2535.5" width="25" height="5" fill="#009fff"/>
<rect x="863" y="2535.5" width="10" height="5" fill="#008fff"/>
<rect x="693" y="2540.5" width="5" height="5" fill="#004fff"/>
<rect x="698" y="2540.5" width="5" height="5" fill="#006fff"/>
<rect x="703" y="2540.5" width="5" height="5" fill="#00bfff"/>
<rect x="708" y="2540.5" width="5" height="5" fill="#0fffef"/>
<rect x="713" y="2540.5" width="5" height="5" fill="#4fffaf"/>
<rect x="718" y="2540.5" width="5" height="5" fill="#9fff5f"/>
<rect x="723" y="2540.5" width="5" height="5" fill="#ffff00"/>
<rect x="728" y="2540.5" width="5" height="5" fill="#ff8f00"/>
<rect x="733" y="2540.5" width="5" height="5" fill="#ff3f00"/>
<rect x="738" y="2540.5" width="5" height="5" fill="#ff0000"/>
<rect x="743" y="2540.5" width="5" height="5" fill="#cf0000"/>
<rect x="748" y="2540.5" width="5" height="5" fill="#af0000"/>
<rect x="753" y="2540.5" width="25" height="5" fill="#9f0000"/>
<rect x="778" y="2540.5" width="5" height="5" fill="#af0000"/>
<rect x="783" y="2540.5" width="5" height="5" fill="#cf0000"/>
<rect x="788" y="2540.5" width="5" height="5" fill="#ff0000"/>
<rect x="793" y="2540.5" width="5" height="5" fill="#ff4f00"/>
<rect x="798" y="2540.5" width="5" height="5" fill="#ff9f00"/>
<rect x="803" y="2540.5" width="5" height="5" fill="#ffff00"/>
<rect x="808" y="2540.5" width="5" height="5" fill="#dfff1f"/>
<rect x="813" y="2540.5" width="5" height="5" fill="#cfff2f"/>
<rect x="818" y="2540.5" width="5" height="5" fill="#8fff6f"/>
<rect x="823" y="2540.5" width="5" height="5" fill="#3fffbf"/>
<rect x="828" y="2540.5" width="5" height="5" fill="#00efff"/>
<rect x="833" y="2540.5" width="5" height="5" fill="#00afff"/>
<rect x="838" y="2540.5" width="25" height="5" fill="#009fff"/>
<rect x="863" y="2540.5" width="10" height="5" fill="#008fff"/>
<rect x="698" y="2545.5" width="5" height="5" fill="#005fff"/>
<rect x="703" y="2545.5" width="5" height="5" fill="#009fff"/>
<rect x="708" y="2545.5" width="5" height="5" fill="#00efff"/>
<rect x="713" y="2545.5" width="5" height="5" fill="#3fffbf"/>
<rect x="718" y="2545.5" width="5" height="5" fill="#8fff6f"/>
<rect x="723" y="2545.5" width="5" height="5" fill="#efff0f"/>
<rect x="728" y="2545.5" width="5" height="5" fill="#ff9f00"/>
<rect x="733" y="2545.5" width="5" height="5" fill="#ff4f00"/>
<rect x="738" y="2545.5" width="5" height="5" fill="#ff0f00"/>
<rect x="743" y="2545.5" width="5" height="5" fill="#df0000"/>
<rect x="748" y="2545.5" width="5" height="5" fill="#bf0000"/>
<rect x="753" y="2545.5" width="5" height="5" fill="#af0000"/>
<rect x="758" y="2545.5" width="15" height="5" fill="#9f0000"/>
<rect x="773" y="2545.5" width="5" height="5" fill="#af0000"/>
<rect x="778" y="2545.5" width="5" height="5" fill="#bf0000"/>
<rect x="783" y="2545.5" width="5" height="5" fill="#df0000"/>
<rect x="788" y="2545.5" width="5" height="5" fill="#ff0f00"/>
<rect x="793" y="2545.5" width="5" height="5" fill="#ff4f00"/>
<rect x="798" y="2545.5" width="5" height="5" fill="#ffaf00"/>
<rect x="803" y="2545.5" width="5" height="5" fill="#ffff00"/>
<rect x="808" y="2545.5" width="5" height="5" fill="#dfff1f"/>
<rect x="813" y="2545.5" width="5" height="5" fill="#cfff2f"/>
<rect x="818" y="2545.5" width="5" height="5" fill="#8fff6f"/>
<rect x="823" y="2545.5" width="5" height="5" fill="#3fffbf"/>
<rect x="828" y="2545.5" width="5" height="5" fill="#00efff"/>
<rect x="833" y="2545.5" width="5" height="5" fill="#00afff"/>
<rect x="838" y="2545.5" width="25" height="5" fill="#009fff"/>
<rect x="863" y="2545.5" width="10" height="5" fill="#008fff"/>
<rect x="698" y="2550.5" width="5" height="5" fill="#004fff"/>
<rect x="703" y="2550.5" width="5" height="5" fill="#008fff"/>
<rect x="708" y="2550.5" width="5" height="5" fill="#00dfff"/>
<rect x="713" y="2550.5" width="5" height="5" fill="#1fffdf"/>
<rect x="718" y="2550.5" width="5" height="5" fill="#6fff8f"/>
<rect x="723" y="2550.5" width="5" height="5" fill="#cfff2f"/>
<rect x="728" y="2550.5" width="5" height="5" fill="#ffbf00"/>
<rect x="733" y="2550.5" width="5" height="5" fill="#ff5f00"/>
<rect x="738" y="2550.5" width="5" height="5" fill="#ff1f00"/>
<rect x="743" y="2550.5" width="5" height="5" fill="#ef0000"/>
<rect x="748" y="2550.5" width="5" height="5" fill="#cf0000"/>
<rect x="753" y="2550.5" width="20" height="5" fill="#af0000"/>
<rect x="773" y="2550.5" width="5" height="5" fill="#bf0000"/>
<rect x="778" y="2550.5" width="5" height="5" fill="#cf0000"/>
<rect x="783" y="2550.5" width="5" height="5" fill="#ef0000"/>
<rect x="788" y="2550.5" width="5" height="5" fill="#ff2f00"/>
<rect x="793" y="2550.5" width="5" height="5" fill="#ff6f00"/>
<rect x="798" y="2550.5" width="5" height="5" fill="#ffbf00"/>
<rect x="803" y="2550.5" width="5" height="5" fill="#efff0f"/>
<rect x="808" y="2550.5" width="5" height="5" fill="#dfff1f"/>
<rect x="813" y="2550.5" width="5" height="5" fill="#cfff2f"/>
<rect x="818" y="2550.5" width="5" height="5" fill="#8fff6f"/>
<rect x="823" y="2550.5" width="5" height="5" fill="#3fffbf"/>
<rect x="828" y="2550.5" width="5" height="5" fill="#00efff"/>
<rect x="833" y="2550.5" width="5" height="5" fill="#00afff"/>
<rect x="838" y="2550.5" width="25" height="5" fill="#009fff"/>
<rect x="863" y="2550.5" width="10" height="5" fill="#008fff"/>
<rect x="698" y="2555.5" width="5" height="5" fill="#004fff"/>
<rect x="703" y="2555.5" width="5" height="5" fill="#007fff"/>
<rect x="708" y="2555.5" width="5" height="5" fill="#00bfff"/>
<rect x="713" y="2555.5" width="5" height="5" fill="#0fffef"/>
<rect x="718" y="2555.5" width="5" height="5" fill="#4fffaf"/>
<rect x="723" y="2555.5" width="5" height="5" fill="#afff4f"/>
<rect x="728" y="2555.5" width="5" height="5" fill="#ffdf00"/>
<rect x="733" y="2555.5" width="5" height="5" fill="#ff7f00"/>
<rect x="738" y="2555.5" width="5" height="5" fill="#ff2f00"/>
<rect x="743" y="2555.5" width="5" height="5" fill="#ff0000"/>
<rect x="748" y="2555.5" width="5" height="5" fill="#df0000"/>
<rect x="753" y="2555.5" width="10" height="5" fill="#bf0000"/>
<rect x="763" y="2555.5" width="5" height="5" fill="#af0000"/>
<rect x="768" y="2555.5" width="5" height="5" fill="#bf0000"/>
<rect x="773" y="2555.5" width="5" height="5" fill="#cf0000"/>
<rect x="778" y="2555.5" width="5" height="5" fill="#df0000"/>
<rect x="783" y="2555.5" width="5" height="5" fill="#ff0f00"/>
<rect x="788" y="2555.5" width="5" height="5" fill="#ff3f00"/>
<rect x="793" y="2555.5" width="5" height="5" fill="#ff7f00"/>
<rect x="798" y="2555.5" width="5" height="5" fill="#ffcf00"/>
<rect x="803" y="2555.5" width="5" height="5" fill="#efff0f"/>
<rect x="808" y="2555.5" width="5" height="5" fill="#dfff1f"/>
<rect x="813" y="2555.5" width="5" height="5" fill="#cfff2f"/>
<rect x="818" y="2555.5" width="5" height="5" fill="#8fff6f"/>
<rect x="823" y="2555.5" width="5" height="5" fill="#3fffbf"/>
<rect x="828" y="2555.5" width="5" height="5" fill="#00efff"/>
<rect x="833" y="2555.5" width="5" height="5" fill="#00afff"/>
<rect x="838" y="2555.5" width="25" height="5" fill="#009fff"/>
<rect x="863" y="2555.5" width="10" height="5" fill="#008fff"/>
<rect x="703" y="2560.5" width="5" height="5" fill="#005fff"/>
<rect x="708" y="2560.5" width="5" height="5" fill="#009fff"/>
<rect x="713" y="2560.5" width="5" height="5" fill="#00efff"/>
<rect x="718" y="2560.5" width="5" height="5" fill="#2fffcf"/>
<rect x="723" y="2560.5" width="5" height="5" fill="#8fff6f"/>
<rect x="728" y="2560.5" width="5" height="5" fill="#efff0f"/>
<rect x="733" y="2560.5" width="5" height="5" fill="#ff9f00"/>
<rect x="738" y="2560.5" width="5" height="5" fill="#ff4f00"/>
<rect x="743" y="2560.5" width="5" height="5" fill="#ff1f00"/>
<rect x="748" y="2560.5" width="5" height="5" fill="#ef0000"/>
<rect x="753" y="2560.5" width="5" height="5" fill="#df0000"/>
<rect x="758" y="2560.5" width="15" height="5" fill="#cf0000"/>
<rect x="773" y="2560.5" width="5" height="5" fill="#df0000"/>
<rect x="778" y="2560.5" width="5" height="5" fill="#ff0000"/>
<rect x="783" y="2560.5" width="5" height="5" fill="#ff1f00"/>
<rect x="788" y="2560.5" width="5" height="5" fill="#ff5f00"/>
<rect x="793" y="2560.5" width="5" height="5" fill="#ff9f00"/>
<rect x="798" y="2560.5" width="5" height="5" fill="#ffef00"/>
<rect x="803" y="2560.5" width="5" height="5" fill="#efff0f"/>
<rect x="808" y="2560.5" width="5" height="5" fill="#dfff1f"/>
<rect x="813" y="2560.5" width="5" height="5" fill="#cfff2f"/>
<rect x="818" y="2560.5" width="5" height="5" fill="#8fff6f"/>
<rect x="823" y="2560.5" width="5" height="5" fill="#3fffbf"/>
<rect x="828" y="2560.5" width="5" height="5" fill="#00efff"/>
<rect x="833" y="2560.5" width="5" height="5" fill="#00afff"/>
<rect x="838" y="2560.5" width="25" height="5" fill="#009fff"/>
<rect x="863" y="2560.5" width="10" height="5" fill="#008fff"/>
<rect x="703" y="2565.5" width="5" height="5" fill="#004fff"/>
<rect x="708" y="2565.5" width="5" height="5" fill="#006fff"/>
<rect x="713" y="2565.5" width="5" height="5" fill="#00bfff"/>
<rect x="718" y="2565.5" width="5" height="5" fill="#0fffef"/>
<rect x="723" y="2565.5" width="5" height="5" fill="#4fffaf"/>
<rect x="728" y="2565.5" width="5" height="5" fill="#bfff3f"/>
<rect x="733" y="2565.5" width="5" height="5" fill="#ffdf00"/>
<rect x="738" y="2565.5" width="5" height="5" fill="#ff7f00"/>
<rect x="743" y="2565.5" width="5" height="5" fill="#ff3f00"/>
<rect x="748" y="2565.5" width="5" height="5" fill="#ff0f00"/>
<rect x="753" y="2565.5" width="10" height="5" fill="#ef0000"/>
<rect x="763" y="2565.5" width="5" height="5" fill="#df0000"/>
<rect x="768" y="2565.5" width="5" height="5" fill="#ef0000"/>
<rect x="773" y="2565.5" width="5" height="5" fill="#ff0000"/>
<rect x="778" y="2565.5" width="5" height="5" fill="#ff1f00"/>
<rect x="783" y="2565.5" width="5" height="5" fill="#ff3f00"/>
<rect x="788" y="2565.5" width="5" height="5" fill="#ff7f00"/>
<rect x="793" y="2565.5" width="5" height="5" fill="#ffbf00"/>
<rect x="798" y="2565.5" width="10" height="5" fill="#efff0f"/>
<rect x="808" y="2565.5" width="5" height="5" fill="#dfff1f"/>
<rect x="813" y="2565.5" width="5" height="5" fill="#cfff2f"/>
<rect x="818" y="2565.5" width="5" height="5" fill="#8fff6f"/>
<rect x="823" y="2565.5" width="5" height="5" fill="#3fffbf"/>
<rect x="828" y="2565.5" width="5" height="5" fill="#00efff"/>
<rect x="833" y="2565.5" width="5" height="5" fill="#00afff"/>
<rect x="838" y="2565.5" width="25" height="5" fill="#009fff"/>
<rect x="863" y="2565.5" width="10" height="5" fill="#008fff"/>
<rect x="708" y="2570.5" width="5" height="5" fill="#005fff"/>
<rect x="713" y="2570.5" width="5" height="5" fill="#008fff"/>
<rect x="718" y="2570.5" width="5" height="5" fill="#00dfff"/>
<rect x="723" y="2570.5" width="5" height="5" fill="#2fffcf"/>
<rect x="728" y="2570.5" width="5" height="5" fill="#7fff7f"/>
<rect x="733" y="2570.5" width="5" height="5" fill="#efff0f"/>
<rect x="738" y="2570.5" width="5" height="5" fill="#ffaf00"/>
<rect x="743" y="2570.5" width="5" height="5" fill="#ff6f00"/>
<rect x="748" y="2570.5" width="5" height="5" fill="#ff3f00"/>
<rect x="753" y="2570.5" width="5" height="5" fill="#ff1f00"/>
<rect x="758" y="2570.5" width="5" height="5" fill="#ff0f00"/>
<rect x="763" y="2570.5" width="5" height="5" fill="#ff0000"/>
<rect x="768" y="2570.5" width="5" height="5" fill="#ff0f00"/>
<rect x="773" y="2570.5" width="5" height="5" fill="#ff1f00"/>
<rect x="778" y="2570.5" width="5" height="5" fill="#ff3f00"/>
<rect x="783" y="2570.5" width="5" height="5" fill="#ff6f00"/>
<rect x="788" y="2570.5" width="5" height="5" fill="#ff9f00"/>
<rect x="793" y="2570.5" width="5" height="5" fill="#ffef00"/>
<rect x="798" y="2570.5" width="10" height="5" fill="#efff0f"/>
<rect x="808" y="2570.5" width="5" height="5" fill="#dfff1f"/>
<rect x="813" y="2570.5" width="5" height="5" fill="#cfff2f"/>
<rect x="818" y="2570.5" width="5" height="5" fill="#8fff6f"/>
<rect x="823" y="2570.5" width="5" height="5" fill="#3fffbf"/>
<rect x="828" y="2570.5" width="5" height="5" fill="#00efff"/>
<rect x="833" y="2570.5" width="5" height="5" fill="#00afff"/>
<rect x="838" y="2570.5" width="25" height="5" fill="#009fff"/>
<rect x="863" y="2570.5" width="10" height="5" fill="#008fff"/>
<rect x="708" y="2575.5" width="5" height="5" fill="#004fff"/>
<rect x="713" y="2575.5" width="5" height="5" fill="#006fff"/>
<rect x="718" y="2575.5" width="5" height="5" fill="#00afff"/>
<rect x="723" y="2575.5" width="5" height="5" fill="#00ffff"/>
<rect x="728" y="2575.5" width="5" height="5" fill="#4fffaf"/>
<rect x="733" y="2575.5" width="5" height="5" fill="#afff4f"/>
<rect x="738" y="2575.5" width="5" height="5" fill="#ffef00"/>
<rect x="743" y="2575.5" width="5" height="5" fill="#ff9f00"/>
<rect x="748" y="2575.5" width="5" height="5" fill="#ff5f00"/>
<rect x="753" y="2575.5" width="5" height="5" fill="#ff3f00"/>
<rect x="758" y="2575.5" width="15" height="5" fill="#ff2f00"/>
<rect x="773" y="2575.5" width="5" height="5" fill="#ff4f00"/>
<rect x="778" y="2575.5" width="5" height="5" fill="#ff6f00"/>
<rect x="783" y="2575.5" width="5" height="5" fill="#ff8f00"/>
<rect x="788" y="2575.5" width="5" height="5" fill="#ffcf00"/>
<rect x="793" y="2575.5" width="15" height="5" fill="#efff0f"/>
<rect x="808" y="2575.5" width="5" height="5" fill="#dfff1f"/>
<rect x="813" y="2575.5" width="5" height="5" fill="#cfff2f"/>
<rect x="818" y="2575.5" width="5" height="5" fill="#8fff6f"/>
<rect x="823" y="2575.5" width="5" height="5" fill="#3fffbf"/>
<rect x="828" y="2575.5" width="5" height="5" fill="#00efff"/>
<rect x="833" y="2575.5" width="5" height="5" fill="#00afff"/>
<rect x="838" y="2575.5" width="25" height="5" fill="#009fff"/>
<rect x="863" y="2575.5" width="10" height="5" fill="#008fff"/>
<rect x="713" y="2580.5" width="5" height="5" fill="#004fff"/>
<rect x="718" y="2580.5" width="5" height="5" fill="#007fff"/>
<rect x="723" y="2580.5" width="5" height="5" fill="#00cfff"/>
<rect x="728" y="2580.5" width="5" height="5" fill="#1fffdf"/>
<rect x="733" y="2580.5" width="5" height="5" fill="#6fff8f"/>
<rect x="738" y="2580.5" width="5" height="5" fill="#cfff2f"/>
<rect x="743" y="2580.5" width="5" height="5" fill="#ffcf00"/>
<rect x="748" y="2580.5" width="5" height="5" fill="#ff8f00"/>
<rect x="753" y="2580.5" width="5" height="5" fill="#ff6f00"/>
<rect x="758" y="2580.5" width="15" height="5" fill="#ff5f00"/>
<rect x="773" y="2580.5" width="5" height="5" fill="#ff6f00"/>
<rect x="778" y="2580.5" width="5" height="5" fill="#ff8f00"/>
<rect x="783" y="2580.5" width="5" height="5" fill="#ffbf00"/>
<rect x="788" y="2580.5" width="5" height="5" fill="#ffff00"/>
<rect x="793" y="2580.5" width="15" height="5" fill="#efff0f"/>
<rect x="808" y="2580.5" width="5" height="5" fill="#dfff1f"/>
<rect x="813" y="2580.5" width="5" height="5" fill="#cfff2f"/>
<rect x="818" y="2580.5" width="5" height="5" fill="#8fff6f"/>
<rect x="823" y="2580.5" width="5" height="5" fill="#3fffbf"/>
<rect x="828" y="2580.5" width="5" height="5" fill="#00efff"/>
<rect x="833" y="2580.5" width="5" height="5" fill="#00afff"/>
<rect x="838" y="2580.5" width="25" height="5" fill="#009fff"/>
<rect x="863" y="2580.5" width="10" height="5" fill="#008fff"/>
<rect x="563" y="2585.5" width="5" height="5" fill="#007fff"/>
<rect x="568" y="2585.5" width="5" height="5" fill="#006fff"/>
<rect x="573" y="2585.5" width="5" height="5" fill="#005fff"/>
<rect x="578" y="2585.5" width="5" height="5" fill="#004fff"/>
<rect x="718" y="2585.5" width="5" height="5" fill="#005fff"/>
<rect x="723" y="2585.5" width="5" height="5" fill="#009fff"/>
<rect x="728" y="2585.5" width="5" height="5" fill="#00efff"/>
<rect x="733" y="2585.5" width="5" height="5" fill="#3fffbf"/>
<rect x="738" y="2585.5" width="5" height="5" fill="#8fff6f"/>
<rect x="743" y="2585.5" width="5" height="5" fill="#efff0f"/>
<rect x="748" y="2585.5" width="5" height="5" fill="#ffcf00"/>
<rect x="753" y="2585.5" width="5" height="5" fill="#ffaf00"/>
<rect x="758" y="2585.5" width="15" height="5" fill="#ff8f00"/>
<rect x="773" y="2585.5" width="5" height="5" fill="#ffaf00"/>
<rect x="778" y="2585.5" width="5" height="5" fill="#ffcf00"/>
<rect x="783" y="2585.5" width="5" height="5" fill="#ffff00"/>
<rect x="788" y="2585.5" width="20" height="5" fill="#efff0f"/>
<rect x="808" y="2585.5" width="5" height="5" fill="#dfff1f"/>
<rect x="813" y="2585.5" width="5" height="5" fill="#cfff2f"/>
<rect x="818" y="2585.5" width="5" height="5" fill="#8fff6f"/>
<rect x="823" y="2585.5" width="5" height="5" fill="#3fffbf"/>
<rect x="828" y="2585.5" width="5" height="5" fill="#00efff"/>
<rect x="833" y="2585.5" width="5" height="5" fill="#00afff"/>
<rect x="838" y="2585.5" width="25" height="5" fill="#009fff"/>
<rect x="863" y="2585.5" width="10" height="5" fill="#008fff"/>
<rect x="563" y="2590.5" width="10" height="5" fill="#009fff"/>
<rect x="573" y="2590.5" width="5" height="5" fill="#008fff"/>
<rect x="578" y="2590.5" width="5" height="5" fill="#006fff"/>
<rect x="583" y="2590.5" width="5" height="5" fill="#004fff"/>
<rect x="718" y="2590.5" width="5" height="5" fill="#004fff"/>
<rect x="723" y="2590.5" width="5" height="5" fill="#007fff"/>
<rect x="728" y="2590.5" width="5" height="5" fill="#00bfff"/>
<rect x="733" y="2590.5" width="5" height="5" fill="#0fffef"/>
<rect x="738" y="2590.5" width="5" height="5" fill="#5fff9f"/>
<rect x="743" y="2590.5" width="5" height="5" fill="#afff4f"/>
<rect x="748" y="2590.5" width="5" height="5" fill="#efff0f"/>
<rect x="753" y="2590.5" width="5" height="5" fill="#ffdf00"/>
<rect x="758" y="2590.5" width="5" height="5" fill="#ffcf00"/>
<rect x="763" y="2590.5" width="5" height="5" fill="#ffbf00"/>
<rect x="768" y="2590.5" width="5" height="5" fill="#ffcf00"/>
<rect x="773" y="2590.5" width="5" height="5" fill="#ffdf00"/>
<rect x="778" y="2590.5" width="5" height="5" fill="#ffff00"/>
<rect x="783" y="2590.5" width="25" height="5" fill="#efff0f"/>
<rect x="808" y="2590.5" width="5" height="5" fill="#dfff1f"/>
<rect x="813" y="2590.5" width="5" height="5" fill="#cfff2f"/>
<rect x="818" y="2590.5" width="5" height="5" fill="#8fff6f"/>
<rect x="823" y="2590.5" width="5" height="5" fill="#3fffbf"/>
<rect x="828" y="2590.5" width="5" height="5" fill="#00efff"/>
<rect x="833" y="2590.5" width="5" height="5" fill="#00afff"/>
<rect x="838" y="2590.5" width="25" height="5" fill="#009fff"/>
<rect x="863" y="2590.5" width="10" height="5" fill="#008fff"/>
<rect x="563" y="2595.5" width="5" height="5" fill="#00bfff"/>
<rect x="568" y="2595.5" width="5" height="5" fill="#00afff"/>
<rect x="573" y="2595.5" width="5" height="5" fill="#009fff"/>
<rect x="578" y="2595.5" width="5" height="5" fill="#007fff"/>
<rect x="583" y="2595.5" width="5" height="5" fill="#004fff"/>
<rect x="723" y="2595.5" width="5" height="5" fill="#006fff"/>
<rect x="728" y="2595.5" width="5" height="5" fill="#009fff"/>
<rect x="733" y="2595.5" width="5" height="5" fill="#00efff"/>
<rect x="738" y="2595.5" width="5" height="5" fill="#3fffbf"/>
<rect x="743" y="2595.5" width="5" height="5" fill="#7fff7f"/>
<rect x="748" y="2595.5" width="5" height="5" fill="#bfff3f"/>
<rect x="753" y="2595.5" width="5" height="5" fill="#efff0f"/>
<rect x="758" y="2595.5" width="15" height="5" fill="#ffff00"/>
<rect x="773" y="2595.5" width="35" height="5" fill="#efff0f"/>
<rect x="808" y="2595.5" width="5" height="5" fill="#dfff1f"/>
<rect x="813" y="2595.5" width="5" height="5" fill="#cfff2f"/>
<rect x="818" y="2595.5" width="5" height="5" fill="#8fff6f"/>
<rect x="823" y="2595.5" width="5" height="5" fill="#3fffbf"/>
<rect x="828" y="2595.5" width="5" height="5" fill="#00efff"/>
<rect x="833" y="2595.5" width="5" height="5" fill="#00afff"/>
<rect x="838" y="2595.5" width="25" height="5" fill="#009fff"/>
<rect x="863" y="2595.5" width="10" height="5" fill="#008fff"/>
<rect x="563" y="2600.5" width="5" height="5" fill="#00bfff"/>
<rect x="568" y="2600.5" width="5" height="5" fill="#00afff"/>
<rect x="573" y="2600.5" width="5" height="5" fill="#009fff"/>
<rect x="578" y="2600.5" width="5" height="5" fill="#007fff"/>
<rect x="583" y="2600.5" width="5" height="5" fill="#004fff"/>
<rect x="723" y="2600.5" width="5" height="5" fill="#006fff"/>
<rect x="728" y="2600.5" width="5" height="5" fill="#009fff"/>
<rect x="733" y="2600.5" width="5" height="5" fill="#00efff"/>
<rect x="738" y="2600.5" width="5" height="5" fill="#3fffbf"/>
<rect x="743" y="2600.5" width="5" height="5" fill="#7fff7f"/>
<rect x="748" y="2600.5" width="5" height="5" fill="#bfff3f"/>
<rect x="753" y="2600.5" width="5" height="5" fill="#efff0f"/>
<rect x="758" y="2600.5" width="15" height="5" fill="#ffff00"/>
<rect x="773" y="2600.5" width="35" height="5" fill="#efff0f"/>
<rect x="808" y="2600.5" width="5" height="5" fill="#dfff1f"/>
<rect x="813" y="2600.5" width="5" height="5" fill="#cfff2f"/>
<rect x="818" y="2600.5" width="5" height="5" fill="#8fff6f"/>
<rect x="823" y="2600.5" width="5" height="5" fill="#3fffbf"/>
<rect x="828" y="2600.5" width="5" height="5" fill="#00efff"/>
<rect x="833" y="2600.5" width="5" height="5" fill="#00afff"/>
<rect x="838" y="2600.5" width="25" height="5" fill="#009fff"/>
<rect x="863" y="2600.5" width="10" height="5" fill="#008fff"/>
</g></g>
<defs><linearGradient id="jetg" x1="0" y1="1" x2="0" y2="0">
<stop offset="0" stop-color="#000080"/><stop offset="0.11" stop-color="#0000ff"/><stop offset="0.34" stop-color="#00ffff"/><stop offset="0.5" stop-color="#80ff80"/><stop offset="0.64" stop-color="#ffff00"/><stop offset="0.89" stop-color="#ff0000"/><stop offset="1" stop-color="#800000"/></linearGradient></defs>
<rect x="886.0" y="2286.0" width="16.5" height="310.7" fill="url(#jetg)" />
<text x="910.0" y="2599.0" font-size="9" fill="#333" font-weight="bold">5.0</text>
<text x="910.0" y="2568.3" font-size="9" fill="#333" font-weight="bold">5.7</text>
<text x="910.0" y="2537.6" font-size="9" fill="#333" font-weight="bold">6.4</text>
<text x="910.0" y="2506.9" font-size="9" fill="#333" font-weight="bold">7.1</text>
<text x="910.0" y="2476.2" font-size="9" fill="#333" font-weight="bold">7.8</text>
<text x="910.0" y="2445.5" font-size="9" fill="#333" font-weight="bold">8.4</text>
<text x="910.0" y="2414.8" font-size="9" fill="#333" font-weight="bold">9.1</text>
<text x="910.0" y="2384.1" font-size="9" fill="#333" font-weight="bold">9.8</text>
<text x="910.0" y="2353.4" font-size="9" fill="#333" font-weight="bold">10.5</text>
<text x="910.0" y="2322.7" font-size="9" fill="#333" font-weight="bold">11.2</text>
<text x="562.0" y="2289.0" font-size="9" fill="#333" font-weight="bold" text-anchor="end">-0.3</text>
<text x="562.0" y="2341.0" font-size="9" fill="#333" font-weight="bold" text-anchor="end">-0.4</text>
<text x="562.0" y="2393.0" font-size="9" fill="#333" font-weight="bold" text-anchor="end">-0.5</text>
<text x="562.0" y="2445.0" font-size="9" fill="#333" font-weight="bold" text-anchor="end">-0.6</text>
<text x="562.0" y="2497.0" font-size="9" fill="#333" font-weight="bold" text-anchor="end">-0.7</text>
<text x="562.0" y="2549.0" font-size="9" fill="#333" font-weight="bold" text-anchor="end">-0.8</text>
<text x="562.0" y="2601.0" font-size="9" fill="#333" font-weight="bold" text-anchor="end">-0.9</text>
<text x="568.0" y="2612.0" font-size="9" fill="#333" font-weight="bold" text-anchor="middle">0.0</text>
<text x="618.0" y="2612.0" font-size="9" fill="#333" font-weight="bold" text-anchor="middle">0.5</text>
<text x="668.0" y="2612.0" font-size="9" fill="#333" font-weight="bold" text-anchor="middle">1.0</text>
<text x="718.0" y="2612.0" font-size="9" fill="#333" font-weight="bold" text-anchor="middle">1.5</text>
<text x="768.0" y="2612.0" font-size="9" fill="#333" font-weight="bold" text-anchor="middle">2.0</text>
<text x="818.0" y="2612.0" font-size="9" fill="#333" font-weight="bold" text-anchor="middle">2.5</text>
<text x="868.0" y="2612.0" font-size="9" fill="#333" font-weight="bold" text-anchor="middle">3.0</text>
<text x="720.0" y="2629.0" font-size="10" fill="#333" font-weight="bold" text-anchor="middle">log(f/Hz)</text>
<text x="529.0" y="2430.0" font-size="9" fill="#666" font-weight="bold" text-anchor="middle" transform="rotate(-90 529 2430)">E, V vs ref</text>
<text x="942.0" y="2430.0" font-size="9" fill="#555" font-weight="bold" text-anchor="middle" transform="rotate(-90 942 2430)">Δi, μA/cm²</text>
<text x="1027.0" y="2445.0" font-size="9" fill="#555" font-weight="bold" text-anchor="middle" transform="rotate(-90 1027 2445)">j, mA/cm²</text>
<text x="582.6" y="2328.5" font-size="30" fill="#f4f6ff" font-weight="bold" textLength="147.0" lengthAdjust="spacingAndGlyphs" filter="url(#tblur)">non-faradic</text>
<text x="616.5" y="2358.0" font-size="30" fill="#f4f6ff" font-weight="bold" textLength="80.5" lengthAdjust="spacingAndGlyphs" filter="url(#tblur)">region</text>
<text x="592.3" y="2441.5" font-size="30" fill="#f4f6ff" font-weight="bold" textLength="85.6" lengthAdjust="spacingAndGlyphs" filter="url(#tblur)">faradic</text>
<text x="576.0" y="2470.0" font-size="30" fill="#f4f6ff" font-weight="bold" textLength="118.0" lengthAdjust="spacingAndGlyphs" filter="url(#tblur)">response</text>
<line x1="723.0" y1="2336.0" x2="778.0" y2="2336.0" stroke="#f4f6ff" stroke-width="2.5" />
<path d="M776,2330 L789,2336 L776,2342 Z" fill="#f4f6ff"/>
<line x1="645.6" y1="2476.6" x2="708.0" y2="2513.0" stroke="#f4f6ff" stroke-width="2.5" stroke-dasharray="4,1.5"/>
<path d="M702,2505 L719,2519 L697,2515 Z" fill="#f4f6ff"/>
<path d="M0.0,0.0 L-27.5,-27.5 L-27.5,-13.5 L-55.0,-13.5 L-55.0,13.5 L-27.5,13.5 L-27.5,27.5Z" fill="#fff" stroke="#7d88ee" stroke-width="2.5" stroke-linejoin="miter" transform="translate(515,2436.6) rotate(0)"/>
<path d="M0.0,0.0 L-30.0,-28.0 L-30.0,-15.0 L-54.5,-15.0 L-54.5,15.0 L-30.0,15.0 L-30.0,28.0Z" fill="#fff" stroke="#7d88ee" stroke-width="2.5" stroke-linejoin="miter" transform="translate(1008,2432.5) rotate(0)"/>
<path d="M0.0,0.0 L-13.0,-13.0 L-13.0,-7.0 L-62.0,-7.0 L-62.0,7.0 L-13.0,7.0 L-13.0,13.0Z" fill="#fff" stroke="#7d88ee" stroke-width="2.5" stroke-linejoin="miter" transform="translate(1015,2313) rotate(-30)"/>
<path d="M0.0,0.0 L-13.0,-13.0 L-13.0,-7.0 L-58.0,-7.0 L-58.0,7.0 L-13.0,7.0 L-13.0,13.0Z" fill="#fff" stroke="#7d88ee" stroke-width="2.5" stroke-linejoin="miter" transform="translate(1008,2600) rotate(30)"/>
<text x="1025.0" y="2315.5" font-size="36" fill="#ef1a2e" font-weight="bold" textLength="29.0" lengthAdjust="spacingAndGlyphs" font-style="italic">R</text>
<text x="1050.0" y="2321.0" font-size="22" fill="#ef1a2e" font-weight="bold" textLength="16.0" lengthAdjust="spacingAndGlyphs" font-style="italic">u</text>
<text x="1014.0" y="2632.0" font-size="38" fill="#ef1a2e" font-weight="bold" textLength="70.0" lengthAdjust="spacingAndGlyphs" font-style="italic">DLC</text>
<path d="M1070.5,2358.0 L1226.8,2286.5 L1432.7,2336.0" stroke="#c6c9c9" stroke-width="2.5" fill="none" />
<line x1="1072.0" y1="2358.0" x2="1072.0" y2="2534.7" stroke="#c6c9c9" stroke-width="2.5" />
<line x1="1432.7" y1="2336.0" x2="1432.7" y2="2509.0" stroke="#c6c9c9" stroke-width="2.5" />
<path d="M1074.0,2533.7 L1289.0,2606.5 L1430.0,2511.7" stroke="#c6c9c9" stroke-width="2.5" fill="none" />
<path d="M1074.0,2534.7 L1226.8,2450.0 L1432.7,2507.0" stroke="#d8dada" stroke-width="1.5" fill="none" />
<path d="M1101.5,2531 L1229,2455 L1403,2506 L1257,2584 Z" fill="#cf9fc2"/>
<path d="M1229,2455 L1403,2506 L1370,2510 L1300,2490 L1222,2460 Z" fill="#bf9bb4"/>
<path d="M1262,2581 L1403,2506 L1335,2496 L1302,2518 Z" fill="#b096a8"/>
<path d="M1255,2583 L1296,2520 L1312,2514 L1266,2578 Z" fill="#e8a2cf"/>
<path d="M1296,2520 L1302.2,2490.6 L1307.7,2435.5 L1311.4,2373 L1324.3,2371.1 L1329.8,2446.5 L1340.8,2483.3 L1362.9,2494.3 L1381.3,2496.1 L1335,2500 L1312,2514 Z" fill="#e4a3ce"/>
<path d="M1311.4,2373 L1324.3,2371.1 L1326,2430 L1320,2500 L1310,2450 Z" fill="#eeb3d8"/>
<text x="1160.6" y="2339.0" font-size="30" fill="#1a1a1a" font-weight="bold" textLength="191.0" lengthAdjust="spacingAndGlyphs" filter="url(#tblur)">Direct electron</text>
<text x="1206.6" y="2368.0" font-size="30" fill="#1a1a1a" font-weight="bold" textLength="101.0" lengthAdjust="spacingAndGlyphs" filter="url(#tblur)">transfer</text>
<text x="1081.6" y="2409.0" font-size="30" fill="#1a1a1a" font-weight="bold" textLength="185.4" lengthAdjust="spacingAndGlyphs" filter="url(#tblur)">Intermolecular</text>
<text x="1125.7" y="2440.0" font-size="30" fill="#1a1a1a" font-weight="bold" textLength="99.3" lengthAdjust="spacingAndGlyphs" filter="url(#tblur)">transfer</text>
<line x1="1161.0" y1="2445.0" x2="1173.0" y2="2485.0" stroke="#222" stroke-width="2" />
<path d="M1166,2484 L1178,2500 L1180,2481 Z" fill="#111"/>
<line x1="1284.0" y1="2380.0" x2="1302.0" y2="2406.0" stroke="#222" stroke-width="2" />
<path d="M1294,2405 L1311,2421 L1306,2399 Z" fill="#111"/>
<text x="1060.0" y="2380.0" font-size="9" fill="#555" font-weight="bold" text-anchor="end">25.0</text>
<text x="1060.0" y="2413.5" font-size="9" fill="#555" font-weight="bold" text-anchor="end">20.0</text>
<text x="1060.0" y="2447.0" font-size="9" fill="#555" font-weight="bold" text-anchor="end">15.0</text>
<text x="1060.0" y="2480.5" font-size="9" fill="#555" font-weight="bold" text-anchor="end">10.0</text>
<text x="1060.0" y="2514.0" font-size="9" fill="#555" font-weight="bold" text-anchor="end">5.0</text>
<text x="1060.0" y="2547.5" font-size="9" fill="#555" font-weight="bold" text-anchor="end">0.0</text>
<text x="1077.0" y="2565.0" font-size="9" fill="#555" font-weight="bold" text-anchor="middle">0.0</text>
<text x="1115.0" y="2579.0" font-size="9" fill="#555" font-weight="bold" text-anchor="middle">0.5</text>
<text x="1153.0" y="2593.0" font-size="9" fill="#555" font-weight="bold" text-anchor="middle">1.0</text>
<text x="1191.0" y="2607.0" font-size="9" fill="#555" font-weight="bold" text-anchor="middle">1.5</text>
<text x="1229.0" y="2621.0" font-size="9" fill="#555" font-weight="bold" text-anchor="middle">2.0</text>
<text x="1267.0" y="2635.0" font-size="9" fill="#555" font-weight="bold" text-anchor="middle">2.5</text>
<text x="1311.0" y="2626.0" font-size="9" fill="#555" font-weight="bold" text-anchor="middle">-0.6</text>
<text x="1333.0" y="2612.0" font-size="9" fill="#555" font-weight="bold" text-anchor="middle">-0.8</text>
<text x="1355.0" y="2598.0" font-size="9" fill="#555" font-weight="bold" text-anchor="middle">-0.8</text>
<text x="1377.0" y="2584.0" font-size="9" fill="#555" font-weight="bold" text-anchor="middle">-1.0</text>
<text x="1399.0" y="2570.0" font-size="9" fill="#555" font-weight="bold" text-anchor="middle">-1.2</text>
<text x="1421.0" y="2556.0" font-size="9" fill="#555" font-weight="bold" text-anchor="middle">-1.0</text></g>
</svg></body></html>
